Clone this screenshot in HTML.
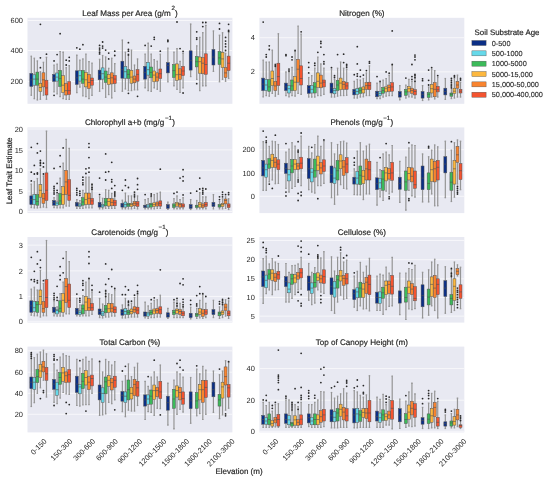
<!DOCTYPE html><html><head><meta charset="utf-8"><style>html,body{margin:0;padding:0;width:550px;height:482px;overflow:hidden;background:#fff}</style></head><body><svg width="550" height="482" viewBox="0 0 550 482" style="position:absolute;left:0;top:0;will-change:transform" font-family='"Liberation Sans", sans-serif'>
<rect x="0" y="0" width="550" height="482" fill="#fff"/>
<style>text{text-rendering:geometricPrecision}.b{stroke:#262626;stroke-width:0.18px}.lg{stroke:#262626;stroke-width:0.1px}</style>
<rect x="27.5" y="17.8" width="204.90" height="86.00" fill="#e8e9f2"/>
<line x1="27.5" x2="232.4" y1="20.5" y2="20.5" stroke="#f8f8fb" stroke-width="0.9"/>
<text x="23.0" y="23.1" font-size="7.45" fill="#262626" text-anchor="end">600</text>
<line x1="27.5" x2="232.4" y1="50.5" y2="50.5" stroke="#f8f8fb" stroke-width="0.9"/>
<text x="23.0" y="53.1" font-size="7.45" fill="#262626" text-anchor="end">400</text>
<line x1="27.5" x2="232.4" y1="81.5" y2="81.5" stroke="#f8f8fb" stroke-width="0.9"/>
<text x="23.0" y="84.1" font-size="7.45" fill="#262626" text-anchor="end">200</text>
<text class="b" x="129.95" y="15.75" font-size="8.1" fill="#262626" text-anchor="middle">Leaf Mass per Area (g/m<tspan dx="0.6" dy="-5.6" font-size="6.2">2</tspan><tspan dx="0.2" dy="5.6">)</tspan></text>
<line x1="31.29" x2="31.29" y1="56.2" y2="73.4" stroke="#959595" stroke-width="1.2"/>
<line x1="31.29" x2="31.29" y1="86.5" y2="95.3" stroke="#959595" stroke-width="1.2"/>
<line x1="30.54" x2="32.05" y1="56.2" y2="56.2" stroke="#959595" stroke-width="1.2"/>
<line x1="30.54" x2="32.05" y1="95.3" y2="95.3" stroke="#959595" stroke-width="1.2"/>
<rect x="29.83" y="73.4" width="2.94" height="13.10" fill="#0b2f86" stroke="#505050" stroke-width="0.5"/>
<line x1="29.83" x2="32.76" y1="79.8" y2="79.8" stroke="#505050" stroke-width="0.6"/>
<line x1="34.33" x2="34.33" y1="58.2" y2="74.8" stroke="#959595" stroke-width="1.2"/>
<line x1="34.33" x2="34.33" y1="85.2" y2="98.7" stroke="#959595" stroke-width="1.2"/>
<line x1="33.57" x2="35.09" y1="58.2" y2="58.2" stroke="#959595" stroke-width="1.2"/>
<line x1="33.57" x2="35.09" y1="98.7" y2="98.7" stroke="#959595" stroke-width="1.2"/>
<rect x="32.86" y="74.8" width="2.94" height="10.40" fill="#66d9ea" stroke="#505050" stroke-width="0.5"/>
<line x1="32.86" x2="35.80" y1="79.1" y2="79.1" stroke="#505050" stroke-width="0.6"/>
<line x1="37.37" x2="37.37" y1="60.9" y2="72.1" stroke="#959595" stroke-width="1.2"/>
<line x1="37.37" x2="37.37" y1="85.2" y2="100" stroke="#959595" stroke-width="1.2"/>
<line x1="36.61" x2="38.12" y1="60.9" y2="60.9" stroke="#959595" stroke-width="1.2"/>
<line x1="36.61" x2="38.12" y1="100" y2="100" stroke="#959595" stroke-width="1.2"/>
<rect x="35.90" y="72.1" width="2.94" height="13.10" fill="#3cba5a" stroke="#505050" stroke-width="0.5"/>
<line x1="35.90" x2="38.83" y1="79.1" y2="79.1" stroke="#505050" stroke-width="0.6"/>
<line x1="40.40" x2="40.40" y1="71.7" y2="83.4" stroke="#959595" stroke-width="1.2"/>
<line x1="40.40" x2="40.40" y1="91.5" y2="99.3" stroke="#959595" stroke-width="1.2"/>
<line x1="39.64" x2="41.16" y1="71.7" y2="71.7" stroke="#959595" stroke-width="1.2"/>
<line x1="39.64" x2="41.16" y1="99.3" y2="99.3" stroke="#959595" stroke-width="1.2"/>
<rect x="38.93" y="83.4" width="2.94" height="8.10" fill="#fdb83f" stroke="#505050" stroke-width="0.5"/>
<line x1="38.93" x2="41.87" y1="87.5" y2="87.5" stroke="#505050" stroke-width="0.6"/>
<circle cx="40.40" cy="57.8" r="0.9" fill="#2a2a2a"/>
<circle cx="40.40" cy="67.7" r="0.9" fill="#2a2a2a"/>
<circle cx="40.40" cy="24.3" r="0.9" fill="#2a2a2a"/>
<line x1="43.44" x2="43.44" y1="62.3" y2="72.8" stroke="#959595" stroke-width="1.2"/>
<line x1="43.44" x2="43.44" y1="86.9" y2="95.3" stroke="#959595" stroke-width="1.2"/>
<line x1="42.68" x2="44.20" y1="62.3" y2="62.3" stroke="#959595" stroke-width="1.2"/>
<line x1="42.68" x2="44.20" y1="95.3" y2="95.3" stroke="#959595" stroke-width="1.2"/>
<rect x="41.97" y="72.8" width="2.94" height="14.10" fill="#f9842f" stroke="#505050" stroke-width="0.5"/>
<line x1="41.97" x2="44.90" y1="79.8" y2="79.8" stroke="#505050" stroke-width="0.6"/>
<line x1="46.47" x2="46.47" y1="57.3" y2="80.2" stroke="#959595" stroke-width="1.2"/>
<line x1="46.47" x2="46.47" y1="95" y2="99.3" stroke="#959595" stroke-width="1.2"/>
<line x1="45.71" x2="47.23" y1="57.3" y2="57.3" stroke="#959595" stroke-width="1.2"/>
<line x1="45.71" x2="47.23" y1="99.3" y2="99.3" stroke="#959595" stroke-width="1.2"/>
<rect x="45.00" y="80.2" width="2.94" height="14.80" fill="#f45430" stroke="#505050" stroke-width="0.5"/>
<line x1="45.00" x2="47.94" y1="87.9" y2="87.9" stroke="#505050" stroke-width="0.6"/>
<circle cx="46.47" cy="54.2" r="0.9" fill="#2a2a2a"/>
<line x1="54.06" x2="54.06" y1="65" y2="74.4" stroke="#959595" stroke-width="1.2"/>
<line x1="54.06" x2="54.06" y1="81.5" y2="92" stroke="#959595" stroke-width="1.2"/>
<line x1="53.30" x2="54.82" y1="65" y2="65" stroke="#959595" stroke-width="1.2"/>
<line x1="53.30" x2="54.82" y1="92" y2="92" stroke="#959595" stroke-width="1.2"/>
<rect x="52.59" y="74.4" width="2.94" height="7.10" fill="#0b2f86" stroke="#505050" stroke-width="0.5"/>
<line x1="52.59" x2="55.53" y1="77.8" y2="77.8" stroke="#505050" stroke-width="0.6"/>
<circle cx="54.06" cy="60.9" r="0.9" fill="#2a2a2a"/>
<circle cx="54.06" cy="95.3" r="0.9" fill="#2a2a2a"/>
<line x1="57.10" x2="57.10" y1="64" y2="73" stroke="#959595" stroke-width="1.2"/>
<line x1="57.10" x2="57.10" y1="81.1" y2="94" stroke="#959595" stroke-width="1.2"/>
<line x1="56.34" x2="57.86" y1="64" y2="64" stroke="#959595" stroke-width="1.2"/>
<line x1="56.34" x2="57.86" y1="94" y2="94" stroke="#959595" stroke-width="1.2"/>
<rect x="55.63" y="73" width="2.94" height="8.10" fill="#66d9ea" stroke="#505050" stroke-width="0.5"/>
<line x1="55.63" x2="58.56" y1="77.1" y2="77.1" stroke="#505050" stroke-width="0.6"/>
<circle cx="57.10" cy="54.6" r="0.9" fill="#2a2a2a"/>
<line x1="60.13" x2="60.13" y1="51.5" y2="70.3" stroke="#959595" stroke-width="1.2"/>
<line x1="60.13" x2="60.13" y1="86.5" y2="96.6" stroke="#959595" stroke-width="1.2"/>
<line x1="59.37" x2="60.89" y1="51.5" y2="51.5" stroke="#959595" stroke-width="1.2"/>
<line x1="59.37" x2="60.89" y1="96.6" y2="96.6" stroke="#959595" stroke-width="1.2"/>
<rect x="58.66" y="70.3" width="2.94" height="16.20" fill="#3cba5a" stroke="#505050" stroke-width="0.5"/>
<line x1="58.66" x2="61.60" y1="78.4" y2="78.4" stroke="#505050" stroke-width="0.6"/>
<circle cx="60.13" cy="33.7" r="0.9" fill="#2a2a2a"/>
<line x1="63.17" x2="63.17" y1="52.1" y2="75.7" stroke="#959595" stroke-width="1.2"/>
<line x1="63.17" x2="63.17" y1="92.6" y2="98.7" stroke="#959595" stroke-width="1.2"/>
<line x1="62.41" x2="63.93" y1="52.1" y2="52.1" stroke="#959595" stroke-width="1.2"/>
<line x1="62.41" x2="63.93" y1="98.7" y2="98.7" stroke="#959595" stroke-width="1.2"/>
<rect x="61.70" y="75.7" width="2.94" height="16.90" fill="#fdb83f" stroke="#505050" stroke-width="0.5"/>
<line x1="61.70" x2="64.64" y1="85.2" y2="85.2" stroke="#505050" stroke-width="0.6"/>
<line x1="66.20" x2="66.20" y1="67.7" y2="83.4" stroke="#959595" stroke-width="1.2"/>
<line x1="66.20" x2="66.20" y1="95" y2="99.3" stroke="#959595" stroke-width="1.2"/>
<line x1="65.44" x2="66.96" y1="67.7" y2="67.7" stroke="#959595" stroke-width="1.2"/>
<line x1="65.44" x2="66.96" y1="99.3" y2="99.3" stroke="#959595" stroke-width="1.2"/>
<rect x="64.74" y="83.4" width="2.94" height="11.60" fill="#f9842f" stroke="#505050" stroke-width="0.5"/>
<line x1="64.74" x2="67.67" y1="90.6" y2="90.6" stroke="#505050" stroke-width="0.6"/>
<circle cx="66.20" cy="60.2" r="0.9" fill="#2a2a2a"/>
<circle cx="66.20" cy="65" r="0.9" fill="#2a2a2a"/>
<line x1="69.24" x2="69.24" y1="65.6" y2="81.5" stroke="#959595" stroke-width="1.2"/>
<line x1="69.24" x2="69.24" y1="94.6" y2="99.3" stroke="#959595" stroke-width="1.2"/>
<line x1="68.48" x2="70.00" y1="65.6" y2="65.6" stroke="#959595" stroke-width="1.2"/>
<line x1="68.48" x2="70.00" y1="99.3" y2="99.3" stroke="#959595" stroke-width="1.2"/>
<rect x="67.77" y="81.5" width="2.94" height="13.10" fill="#f45430" stroke="#505050" stroke-width="0.5"/>
<line x1="67.77" x2="70.71" y1="90.6" y2="90.6" stroke="#505050" stroke-width="0.6"/>
<circle cx="69.24" cy="57.3" r="0.9" fill="#2a2a2a"/>
<circle cx="69.24" cy="60.9" r="0.9" fill="#2a2a2a"/>
<line x1="76.83" x2="76.83" y1="55.1" y2="70.8" stroke="#959595" stroke-width="1.2"/>
<line x1="76.83" x2="76.83" y1="84.5" y2="92.6" stroke="#959595" stroke-width="1.2"/>
<line x1="76.07" x2="77.59" y1="55.1" y2="55.1" stroke="#959595" stroke-width="1.2"/>
<line x1="76.07" x2="77.59" y1="92.6" y2="92.6" stroke="#959595" stroke-width="1.2"/>
<rect x="75.36" y="70.8" width="2.94" height="13.70" fill="#0b2f86" stroke="#505050" stroke-width="0.5"/>
<line x1="75.36" x2="78.30" y1="77.8" y2="77.8" stroke="#505050" stroke-width="0.6"/>
<circle cx="76.83" cy="47.8" r="0.9" fill="#2a2a2a"/>
<line x1="79.86" x2="79.86" y1="60.2" y2="70.8" stroke="#959595" stroke-width="1.2"/>
<line x1="79.86" x2="79.86" y1="81.1" y2="87.2" stroke="#959595" stroke-width="1.2"/>
<line x1="79.10" x2="80.62" y1="60.2" y2="60.2" stroke="#959595" stroke-width="1.2"/>
<line x1="79.10" x2="80.62" y1="87.2" y2="87.2" stroke="#959595" stroke-width="1.2"/>
<rect x="78.40" y="70.8" width="2.94" height="10.30" fill="#66d9ea" stroke="#505050" stroke-width="0.5"/>
<line x1="78.40" x2="81.33" y1="75.7" y2="75.7" stroke="#505050" stroke-width="0.6"/>
<circle cx="79.86" cy="49.2" r="0.9" fill="#2a2a2a"/>
<line x1="82.90" x2="82.90" y1="58.9" y2="70.3" stroke="#959595" stroke-width="1.2"/>
<line x1="82.90" x2="82.90" y1="83.4" y2="96" stroke="#959595" stroke-width="1.2"/>
<line x1="82.14" x2="83.66" y1="58.9" y2="58.9" stroke="#959595" stroke-width="1.2"/>
<line x1="82.14" x2="83.66" y1="96" y2="96" stroke="#959595" stroke-width="1.2"/>
<rect x="81.43" y="70.3" width="2.94" height="13.10" fill="#3cba5a" stroke="#505050" stroke-width="0.5"/>
<line x1="81.43" x2="84.37" y1="79.1" y2="79.1" stroke="#505050" stroke-width="0.6"/>
<circle cx="82.90" cy="44.7" r="0.9" fill="#2a2a2a"/>
<line x1="85.93" x2="85.93" y1="54.2" y2="72.4" stroke="#959595" stroke-width="1.2"/>
<line x1="85.93" x2="85.93" y1="86.9" y2="96.6" stroke="#959595" stroke-width="1.2"/>
<line x1="85.18" x2="86.69" y1="54.2" y2="54.2" stroke="#959595" stroke-width="1.2"/>
<line x1="85.18" x2="86.69" y1="96.6" y2="96.6" stroke="#959595" stroke-width="1.2"/>
<rect x="84.47" y="72.4" width="2.94" height="14.50" fill="#fdb83f" stroke="#505050" stroke-width="0.5"/>
<line x1="84.47" x2="87.40" y1="79.8" y2="79.8" stroke="#505050" stroke-width="0.6"/>
<line x1="88.97" x2="88.97" y1="61.6" y2="74.4" stroke="#959595" stroke-width="1.2"/>
<line x1="88.97" x2="88.97" y1="88.6" y2="98.7" stroke="#959595" stroke-width="1.2"/>
<line x1="88.21" x2="89.73" y1="61.6" y2="61.6" stroke="#959595" stroke-width="1.2"/>
<line x1="88.21" x2="89.73" y1="98.7" y2="98.7" stroke="#959595" stroke-width="1.2"/>
<rect x="87.50" y="74.4" width="2.94" height="14.20" fill="#f9842f" stroke="#505050" stroke-width="0.5"/>
<line x1="87.50" x2="90.44" y1="82.5" y2="82.5" stroke="#505050" stroke-width="0.6"/>
<line x1="92.01" x2="92.01" y1="63.2" y2="78" stroke="#959595" stroke-width="1.2"/>
<line x1="92.01" x2="92.01" y1="85.2" y2="95.3" stroke="#959595" stroke-width="1.2"/>
<line x1="91.25" x2="92.76" y1="63.2" y2="63.2" stroke="#959595" stroke-width="1.2"/>
<line x1="91.25" x2="92.76" y1="95.3" y2="95.3" stroke="#959595" stroke-width="1.2"/>
<rect x="90.54" y="78" width="2.94" height="7.20" fill="#f45430" stroke="#505050" stroke-width="0.5"/>
<line x1="90.54" x2="93.47" y1="80.5" y2="80.5" stroke="#505050" stroke-width="0.6"/>
<line x1="99.59" x2="99.59" y1="59.3" y2="70.1" stroke="#959595" stroke-width="1.2"/>
<line x1="99.59" x2="99.59" y1="79.8" y2="91.3" stroke="#959595" stroke-width="1.2"/>
<line x1="98.84" x2="100.35" y1="59.3" y2="59.3" stroke="#959595" stroke-width="1.2"/>
<line x1="98.84" x2="100.35" y1="91.3" y2="91.3" stroke="#959595" stroke-width="1.2"/>
<rect x="98.13" y="70.1" width="2.94" height="9.70" fill="#0b2f86" stroke="#505050" stroke-width="0.5"/>
<line x1="98.13" x2="101.06" y1="74.4" y2="74.4" stroke="#505050" stroke-width="0.6"/>
<circle cx="99.59" cy="45.4" r="0.9" fill="#2a2a2a"/>
<circle cx="99.59" cy="48.1" r="0.9" fill="#2a2a2a"/>
<circle cx="99.59" cy="49.9" r="0.9" fill="#2a2a2a"/>
<circle cx="99.59" cy="52.2" r="0.9" fill="#2a2a2a"/>
<circle cx="99.59" cy="53.9" r="0.9" fill="#2a2a2a"/>
<line x1="102.63" x2="102.63" y1="55.5" y2="67.9" stroke="#959595" stroke-width="1.2"/>
<line x1="102.63" x2="102.63" y1="79.1" y2="88.6" stroke="#959595" stroke-width="1.2"/>
<line x1="101.87" x2="103.39" y1="55.5" y2="55.5" stroke="#959595" stroke-width="1.2"/>
<line x1="101.87" x2="103.39" y1="88.6" y2="88.6" stroke="#959595" stroke-width="1.2"/>
<rect x="101.16" y="67.9" width="2.94" height="11.20" fill="#66d9ea" stroke="#505050" stroke-width="0.5"/>
<line x1="101.16" x2="104.10" y1="73.7" y2="73.7" stroke="#505050" stroke-width="0.6"/>
<circle cx="102.63" cy="42" r="0.9" fill="#2a2a2a"/>
<circle cx="102.63" cy="46.1" r="0.9" fill="#2a2a2a"/>
<circle cx="102.63" cy="48.1" r="0.9" fill="#2a2a2a"/>
<line x1="105.67" x2="105.67" y1="56.9" y2="71" stroke="#959595" stroke-width="1.2"/>
<line x1="105.67" x2="105.67" y1="82.5" y2="97.3" stroke="#959595" stroke-width="1.2"/>
<line x1="104.91" x2="106.42" y1="56.9" y2="56.9" stroke="#959595" stroke-width="1.2"/>
<line x1="104.91" x2="106.42" y1="97.3" y2="97.3" stroke="#959595" stroke-width="1.2"/>
<rect x="104.20" y="71" width="2.94" height="11.50" fill="#3cba5a" stroke="#505050" stroke-width="0.5"/>
<line x1="104.20" x2="107.13" y1="77.1" y2="77.1" stroke="#505050" stroke-width="0.6"/>
<circle cx="105.67" cy="50.1" r="0.9" fill="#2a2a2a"/>
<line x1="108.70" x2="108.70" y1="68.3" y2="74.4" stroke="#959595" stroke-width="1.2"/>
<line x1="108.70" x2="108.70" y1="84.5" y2="94.6" stroke="#959595" stroke-width="1.2"/>
<line x1="107.94" x2="109.46" y1="68.3" y2="68.3" stroke="#959595" stroke-width="1.2"/>
<line x1="107.94" x2="109.46" y1="94.6" y2="94.6" stroke="#959595" stroke-width="1.2"/>
<rect x="107.23" y="74.4" width="2.94" height="10.10" fill="#fdb83f" stroke="#505050" stroke-width="0.5"/>
<line x1="107.23" x2="110.17" y1="78.5" y2="78.5" stroke="#505050" stroke-width="0.6"/>
<circle cx="108.70" cy="53.1" r="0.9" fill="#2a2a2a"/>
<circle cx="108.70" cy="58.9" r="0.9" fill="#2a2a2a"/>
<line x1="111.74" x2="111.74" y1="58.2" y2="72.8" stroke="#959595" stroke-width="1.2"/>
<line x1="111.74" x2="111.74" y1="83.9" y2="98" stroke="#959595" stroke-width="1.2"/>
<line x1="110.98" x2="112.50" y1="58.2" y2="58.2" stroke="#959595" stroke-width="1.2"/>
<line x1="110.98" x2="112.50" y1="98" y2="98" stroke="#959595" stroke-width="1.2"/>
<rect x="110.27" y="72.8" width="2.94" height="11.10" fill="#f9842f" stroke="#505050" stroke-width="0.5"/>
<line x1="110.27" x2="113.20" y1="77.8" y2="77.8" stroke="#505050" stroke-width="0.6"/>
<line x1="114.77" x2="114.77" y1="63.6" y2="75.5" stroke="#959595" stroke-width="1.2"/>
<line x1="114.77" x2="114.77" y1="83.6" y2="91.3" stroke="#959595" stroke-width="1.2"/>
<line x1="114.01" x2="115.53" y1="63.6" y2="63.6" stroke="#959595" stroke-width="1.2"/>
<line x1="114.01" x2="115.53" y1="91.3" y2="91.3" stroke="#959595" stroke-width="1.2"/>
<rect x="113.30" y="75.5" width="2.94" height="8.10" fill="#f45430" stroke="#505050" stroke-width="0.5"/>
<line x1="113.30" x2="116.24" y1="79.1" y2="79.1" stroke="#505050" stroke-width="0.6"/>
<circle cx="114.77" cy="51.2" r="0.9" fill="#2a2a2a"/>
<circle cx="114.77" cy="55.5" r="0.9" fill="#2a2a2a"/>
<line x1="122.36" x2="122.36" y1="40" y2="61.2" stroke="#959595" stroke-width="1.2"/>
<line x1="122.36" x2="122.36" y1="78.2" y2="91.3" stroke="#959595" stroke-width="1.2"/>
<line x1="121.60" x2="123.12" y1="40" y2="40" stroke="#959595" stroke-width="1.2"/>
<line x1="121.60" x2="123.12" y1="91.3" y2="91.3" stroke="#959595" stroke-width="1.2"/>
<rect x="120.89" y="61.2" width="2.94" height="17.00" fill="#0b2f86" stroke="#505050" stroke-width="0.5"/>
<line x1="120.89" x2="123.83" y1="69.7" y2="69.7" stroke="#505050" stroke-width="0.6"/>
<line x1="125.40" x2="125.40" y1="52.2" y2="66.6" stroke="#959595" stroke-width="1.2"/>
<line x1="125.40" x2="125.40" y1="78.2" y2="89" stroke="#959595" stroke-width="1.2"/>
<line x1="124.64" x2="126.16" y1="52.2" y2="52.2" stroke="#959595" stroke-width="1.2"/>
<line x1="124.64" x2="126.16" y1="89" y2="89" stroke="#959595" stroke-width="1.2"/>
<rect x="123.93" y="66.6" width="2.94" height="11.60" fill="#66d9ea" stroke="#505050" stroke-width="0.5"/>
<line x1="123.93" x2="126.86" y1="71.7" y2="71.7" stroke="#505050" stroke-width="0.6"/>
<line x1="128.43" x2="128.43" y1="53.9" y2="69.7" stroke="#959595" stroke-width="1.2"/>
<line x1="128.43" x2="128.43" y1="78.5" y2="90.6" stroke="#959595" stroke-width="1.2"/>
<line x1="127.67" x2="129.19" y1="53.9" y2="53.9" stroke="#959595" stroke-width="1.2"/>
<line x1="127.67" x2="129.19" y1="90.6" y2="90.6" stroke="#959595" stroke-width="1.2"/>
<rect x="126.96" y="69.7" width="2.94" height="8.80" fill="#3cba5a" stroke="#505050" stroke-width="0.5"/>
<line x1="126.96" x2="129.90" y1="74.4" y2="74.4" stroke="#505050" stroke-width="0.6"/>
<circle cx="128.43" cy="42.7" r="0.9" fill="#2a2a2a"/>
<circle cx="128.43" cy="49.5" r="0.9" fill="#2a2a2a"/>
<circle cx="128.43" cy="51.2" r="0.9" fill="#2a2a2a"/>
<circle cx="128.43" cy="54.9" r="0.9" fill="#2a2a2a"/>
<circle cx="128.43" cy="93.3" r="0.9" fill="#2a2a2a"/>
<line x1="131.47" x2="131.47" y1="50.1" y2="70.4" stroke="#959595" stroke-width="1.2"/>
<line x1="131.47" x2="131.47" y1="83.2" y2="90.6" stroke="#959595" stroke-width="1.2"/>
<line x1="130.71" x2="132.23" y1="50.1" y2="50.1" stroke="#959595" stroke-width="1.2"/>
<line x1="130.71" x2="132.23" y1="90.6" y2="90.6" stroke="#959595" stroke-width="1.2"/>
<rect x="130.00" y="70.4" width="2.94" height="12.80" fill="#fdb83f" stroke="#505050" stroke-width="0.5"/>
<line x1="130.00" x2="132.94" y1="77.1" y2="77.1" stroke="#505050" stroke-width="0.6"/>
<line x1="134.50" x2="134.50" y1="65" y2="76" stroke="#959595" stroke-width="1.2"/>
<line x1="134.50" x2="134.50" y1="82.8" y2="89.9" stroke="#959595" stroke-width="1.2"/>
<line x1="133.74" x2="135.26" y1="65" y2="65" stroke="#959595" stroke-width="1.2"/>
<line x1="133.74" x2="135.26" y1="89.9" y2="89.9" stroke="#959595" stroke-width="1.2"/>
<rect x="133.04" y="76" width="2.94" height="6.80" fill="#f9842f" stroke="#505050" stroke-width="0.5"/>
<line x1="133.04" x2="135.97" y1="79.1" y2="79.1" stroke="#505050" stroke-width="0.6"/>
<line x1="137.54" x2="137.54" y1="58.9" y2="69.7" stroke="#959595" stroke-width="1.2"/>
<line x1="137.54" x2="137.54" y1="81.2" y2="89.9" stroke="#959595" stroke-width="1.2"/>
<line x1="136.78" x2="138.30" y1="58.9" y2="58.9" stroke="#959595" stroke-width="1.2"/>
<line x1="136.78" x2="138.30" y1="89.9" y2="89.9" stroke="#959595" stroke-width="1.2"/>
<rect x="136.07" y="69.7" width="2.94" height="11.50" fill="#f45430" stroke="#505050" stroke-width="0.5"/>
<line x1="136.07" x2="139.01" y1="74.4" y2="74.4" stroke="#505050" stroke-width="0.6"/>
<circle cx="137.54" cy="96.3" r="0.9" fill="#2a2a2a"/>
<line x1="145.13" x2="145.13" y1="54.2" y2="66.3" stroke="#959595" stroke-width="1.2"/>
<line x1="145.13" x2="145.13" y1="79.1" y2="87.9" stroke="#959595" stroke-width="1.2"/>
<line x1="144.37" x2="145.89" y1="54.2" y2="54.2" stroke="#959595" stroke-width="1.2"/>
<line x1="144.37" x2="145.89" y1="87.9" y2="87.9" stroke="#959595" stroke-width="1.2"/>
<rect x="143.66" y="66.3" width="2.94" height="12.80" fill="#0b2f86" stroke="#505050" stroke-width="0.5"/>
<line x1="143.66" x2="146.60" y1="72.4" y2="72.4" stroke="#505050" stroke-width="0.6"/>
<circle cx="145.13" cy="45.4" r="0.9" fill="#2a2a2a"/>
<line x1="148.16" x2="148.16" y1="43.1" y2="62.3" stroke="#959595" stroke-width="1.2"/>
<line x1="148.16" x2="148.16" y1="75.1" y2="90.6" stroke="#959595" stroke-width="1.2"/>
<line x1="147.40" x2="148.92" y1="43.1" y2="43.1" stroke="#959595" stroke-width="1.2"/>
<line x1="147.40" x2="148.92" y1="90.6" y2="90.6" stroke="#959595" stroke-width="1.2"/>
<rect x="146.70" y="62.3" width="2.94" height="12.80" fill="#66d9ea" stroke="#505050" stroke-width="0.5"/>
<line x1="146.70" x2="149.63" y1="69.7" y2="69.7" stroke="#505050" stroke-width="0.6"/>
<line x1="151.20" x2="151.20" y1="54.2" y2="67" stroke="#959595" stroke-width="1.2"/>
<line x1="151.20" x2="151.20" y1="77.8" y2="91.3" stroke="#959595" stroke-width="1.2"/>
<line x1="150.44" x2="151.96" y1="54.2" y2="54.2" stroke="#959595" stroke-width="1.2"/>
<line x1="150.44" x2="151.96" y1="91.3" y2="91.3" stroke="#959595" stroke-width="1.2"/>
<rect x="149.73" y="67" width="2.94" height="10.80" fill="#3cba5a" stroke="#505050" stroke-width="0.5"/>
<line x1="149.73" x2="152.67" y1="72.4" y2="72.4" stroke="#505050" stroke-width="0.6"/>
<circle cx="151.20" cy="46.1" r="0.9" fill="#2a2a2a"/>
<line x1="154.23" x2="154.23" y1="59.6" y2="71" stroke="#959595" stroke-width="1.2"/>
<line x1="154.23" x2="154.23" y1="81.8" y2="87.9" stroke="#959595" stroke-width="1.2"/>
<line x1="153.48" x2="154.99" y1="59.6" y2="59.6" stroke="#959595" stroke-width="1.2"/>
<line x1="153.48" x2="154.99" y1="87.9" y2="87.9" stroke="#959595" stroke-width="1.2"/>
<rect x="152.77" y="71" width="2.94" height="10.80" fill="#fdb83f" stroke="#505050" stroke-width="0.5"/>
<line x1="152.77" x2="155.70" y1="75.1" y2="75.1" stroke="#505050" stroke-width="0.6"/>
<circle cx="154.23" cy="37.3" r="0.9" fill="#2a2a2a"/>
<circle cx="154.23" cy="39.3" r="0.9" fill="#2a2a2a"/>
<line x1="157.27" x2="157.27" y1="61.2" y2="72.8" stroke="#959595" stroke-width="1.2"/>
<line x1="157.27" x2="157.27" y1="81.2" y2="89.3" stroke="#959595" stroke-width="1.2"/>
<line x1="156.51" x2="158.03" y1="61.2" y2="61.2" stroke="#959595" stroke-width="1.2"/>
<line x1="156.51" x2="158.03" y1="89.3" y2="89.3" stroke="#959595" stroke-width="1.2"/>
<rect x="155.80" y="72.8" width="2.94" height="8.40" fill="#f9842f" stroke="#505050" stroke-width="0.5"/>
<line x1="155.80" x2="158.74" y1="77.1" y2="77.1" stroke="#505050" stroke-width="0.6"/>
<line x1="160.31" x2="160.31" y1="54.2" y2="69" stroke="#959595" stroke-width="1.2"/>
<line x1="160.31" x2="160.31" y1="78.5" y2="91.3" stroke="#959595" stroke-width="1.2"/>
<line x1="159.55" x2="161.06" y1="54.2" y2="54.2" stroke="#959595" stroke-width="1.2"/>
<line x1="159.55" x2="161.06" y1="91.3" y2="91.3" stroke="#959595" stroke-width="1.2"/>
<rect x="158.84" y="69" width="2.94" height="9.50" fill="#f45430" stroke="#505050" stroke-width="0.5"/>
<line x1="158.84" x2="161.77" y1="73.7" y2="73.7" stroke="#505050" stroke-width="0.6"/>
<circle cx="160.31" cy="51.2" r="0.9" fill="#2a2a2a"/>
<line x1="167.89" x2="167.89" y1="48.2" y2="62.6" stroke="#959595" stroke-width="1.2"/>
<line x1="167.89" x2="167.89" y1="72.9" y2="81.8" stroke="#959595" stroke-width="1.2"/>
<line x1="167.14" x2="168.65" y1="48.2" y2="48.2" stroke="#959595" stroke-width="1.2"/>
<line x1="167.14" x2="168.65" y1="81.8" y2="81.8" stroke="#959595" stroke-width="1.2"/>
<rect x="166.43" y="62.6" width="2.94" height="10.30" fill="#0b2f86" stroke="#505050" stroke-width="0.5"/>
<line x1="166.43" x2="169.36" y1="65.4" y2="65.4" stroke="#505050" stroke-width="0.6"/>
<circle cx="167.89" cy="40.2" r="0.9" fill="#2a2a2a"/>
<circle cx="167.89" cy="41.5" r="0.9" fill="#2a2a2a"/>
<line x1="173.97" x2="173.97" y1="52" y2="64.5" stroke="#959595" stroke-width="1.2"/>
<line x1="173.97" x2="173.97" y1="77.5" y2="85.9" stroke="#959595" stroke-width="1.2"/>
<line x1="173.21" x2="174.72" y1="52" y2="52" stroke="#959595" stroke-width="1.2"/>
<line x1="173.21" x2="174.72" y1="85.9" y2="85.9" stroke="#959595" stroke-width="1.2"/>
<rect x="172.50" y="64.5" width="2.94" height="13.00" fill="#3cba5a" stroke="#505050" stroke-width="0.5"/>
<line x1="172.50" x2="175.43" y1="70.6" y2="70.6" stroke="#505050" stroke-width="0.6"/>
<line x1="177.00" x2="177.00" y1="48.6" y2="63.9" stroke="#959595" stroke-width="1.2"/>
<line x1="177.00" x2="177.00" y1="80.3" y2="89.3" stroke="#959595" stroke-width="1.2"/>
<line x1="176.24" x2="177.76" y1="48.6" y2="48.6" stroke="#959595" stroke-width="1.2"/>
<line x1="176.24" x2="177.76" y1="89.3" y2="89.3" stroke="#959595" stroke-width="1.2"/>
<rect x="175.53" y="63.9" width="2.94" height="16.40" fill="#fdb83f" stroke="#505050" stroke-width="0.5"/>
<line x1="175.53" x2="178.47" y1="74.7" y2="74.7" stroke="#505050" stroke-width="0.6"/>
<circle cx="177.00" cy="22" r="0.9" fill="#2a2a2a"/>
<line x1="180.04" x2="180.04" y1="61.3" y2="68.8" stroke="#959595" stroke-width="1.2"/>
<line x1="180.04" x2="180.04" y1="79.4" y2="92.5" stroke="#959595" stroke-width="1.2"/>
<line x1="179.28" x2="180.80" y1="61.3" y2="61.3" stroke="#959595" stroke-width="1.2"/>
<line x1="179.28" x2="180.80" y1="92.5" y2="92.5" stroke="#959595" stroke-width="1.2"/>
<rect x="178.57" y="68.8" width="2.94" height="10.60" fill="#f9842f" stroke="#505050" stroke-width="0.5"/>
<line x1="178.57" x2="181.50" y1="74.4" y2="74.4" stroke="#505050" stroke-width="0.6"/>
<circle cx="180.04" cy="48.6" r="0.9" fill="#2a2a2a"/>
<line x1="183.07" x2="183.07" y1="53.3" y2="66.3" stroke="#959595" stroke-width="1.2"/>
<line x1="183.07" x2="183.07" y1="75.7" y2="87.8" stroke="#959595" stroke-width="1.2"/>
<line x1="182.31" x2="183.83" y1="53.3" y2="53.3" stroke="#959595" stroke-width="1.2"/>
<line x1="182.31" x2="183.83" y1="87.8" y2="87.8" stroke="#959595" stroke-width="1.2"/>
<rect x="181.60" y="66.3" width="2.94" height="9.40" fill="#f45430" stroke="#505050" stroke-width="0.5"/>
<line x1="181.60" x2="184.54" y1="71" y2="71" stroke="#505050" stroke-width="0.6"/>
<circle cx="183.07" cy="51.4" r="0.9" fill="#2a2a2a"/>
<circle cx="183.07" cy="93" r="0.9" fill="#2a2a2a"/>
<line x1="190.66" x2="190.66" y1="24" y2="50.8" stroke="#959595" stroke-width="1.2"/>
<line x1="190.66" x2="190.66" y1="70.1" y2="76.6" stroke="#959595" stroke-width="1.2"/>
<line x1="189.90" x2="191.42" y1="24" y2="24" stroke="#959595" stroke-width="1.2"/>
<line x1="189.90" x2="191.42" y1="76.6" y2="76.6" stroke="#959595" stroke-width="1.2"/>
<rect x="189.19" y="50.8" width="2.94" height="19.30" fill="#0b2f86" stroke="#505050" stroke-width="0.5"/>
<line x1="189.19" x2="192.13" y1="60.7" y2="60.7" stroke="#505050" stroke-width="0.6"/>
<line x1="196.73" x2="196.73" y1="45.8" y2="56.4" stroke="#959595" stroke-width="1.2"/>
<line x1="196.73" x2="196.73" y1="66.9" y2="79.4" stroke="#959595" stroke-width="1.2"/>
<line x1="195.97" x2="197.49" y1="45.8" y2="45.8" stroke="#959595" stroke-width="1.2"/>
<line x1="195.97" x2="197.49" y1="79.4" y2="79.4" stroke="#959595" stroke-width="1.2"/>
<rect x="195.26" y="56.4" width="2.94" height="10.50" fill="#3cba5a" stroke="#505050" stroke-width="0.5"/>
<line x1="195.26" x2="198.20" y1="61.7" y2="61.7" stroke="#505050" stroke-width="0.6"/>
<circle cx="196.73" cy="31.8" r="0.9" fill="#2a2a2a"/>
<circle cx="196.73" cy="37.8" r="0.9" fill="#2a2a2a"/>
<circle cx="196.73" cy="39.3" r="0.9" fill="#2a2a2a"/>
<circle cx="196.73" cy="83.7" r="0.9" fill="#2a2a2a"/>
<line x1="199.77" x2="199.77" y1="37.4" y2="57" stroke="#959595" stroke-width="1.2"/>
<line x1="199.77" x2="199.77" y1="73.2" y2="90.6" stroke="#959595" stroke-width="1.2"/>
<line x1="199.01" x2="200.53" y1="37.4" y2="37.4" stroke="#959595" stroke-width="1.2"/>
<line x1="199.01" x2="200.53" y1="90.6" y2="90.6" stroke="#959595" stroke-width="1.2"/>
<rect x="198.30" y="57" width="2.94" height="16.20" fill="#fdb83f" stroke="#505050" stroke-width="0.5"/>
<line x1="198.30" x2="201.24" y1="61.7" y2="61.7" stroke="#505050" stroke-width="0.6"/>
<line x1="202.80" x2="202.80" y1="32.7" y2="57.6" stroke="#959595" stroke-width="1.2"/>
<line x1="202.80" x2="202.80" y1="73.8" y2="85.9" stroke="#959595" stroke-width="1.2"/>
<line x1="202.04" x2="203.56" y1="32.7" y2="32.7" stroke="#959595" stroke-width="1.2"/>
<line x1="202.04" x2="203.56" y1="85.9" y2="85.9" stroke="#959595" stroke-width="1.2"/>
<rect x="201.34" y="57.6" width="2.94" height="16.20" fill="#f9842f" stroke="#505050" stroke-width="0.5"/>
<line x1="201.34" x2="204.27" y1="63.2" y2="63.2" stroke="#505050" stroke-width="0.6"/>
<circle cx="202.80" cy="22.5" r="0.9" fill="#2a2a2a"/>
<circle cx="202.80" cy="26.6" r="0.9" fill="#2a2a2a"/>
<line x1="205.84" x2="205.84" y1="25.3" y2="53.8" stroke="#959595" stroke-width="1.2"/>
<line x1="205.84" x2="205.84" y1="74.4" y2="85.9" stroke="#959595" stroke-width="1.2"/>
<line x1="205.08" x2="206.60" y1="25.3" y2="25.3" stroke="#959595" stroke-width="1.2"/>
<line x1="205.08" x2="206.60" y1="85.9" y2="85.9" stroke="#959595" stroke-width="1.2"/>
<rect x="204.37" y="53.8" width="2.94" height="20.60" fill="#f45430" stroke="#505050" stroke-width="0.5"/>
<line x1="204.37" x2="207.31" y1="64.5" y2="64.5" stroke="#505050" stroke-width="0.6"/>
<circle cx="205.84" cy="22.5" r="0.9" fill="#2a2a2a"/>
<line x1="213.43" x2="213.43" y1="30.9" y2="49.5" stroke="#959595" stroke-width="1.2"/>
<line x1="213.43" x2="213.43" y1="65" y2="71.4" stroke="#959595" stroke-width="1.2"/>
<line x1="212.67" x2="214.19" y1="30.9" y2="30.9" stroke="#959595" stroke-width="1.2"/>
<line x1="212.67" x2="214.19" y1="71.4" y2="71.4" stroke="#959595" stroke-width="1.2"/>
<rect x="211.96" y="49.5" width="2.94" height="15.50" fill="#0b2f86" stroke="#505050" stroke-width="0.5"/>
<line x1="211.96" x2="214.90" y1="57" y2="57" stroke="#505050" stroke-width="0.6"/>
<line x1="219.50" x2="219.50" y1="35.2" y2="51.4" stroke="#959595" stroke-width="1.2"/>
<line x1="219.50" x2="219.50" y1="64.5" y2="81.8" stroke="#959595" stroke-width="1.2"/>
<line x1="218.74" x2="220.26" y1="35.2" y2="35.2" stroke="#959595" stroke-width="1.2"/>
<line x1="218.74" x2="220.26" y1="81.8" y2="81.8" stroke="#959595" stroke-width="1.2"/>
<rect x="218.03" y="51.4" width="2.94" height="13.10" fill="#3cba5a" stroke="#505050" stroke-width="0.5"/>
<line x1="218.03" x2="220.97" y1="57.9" y2="57.9" stroke="#505050" stroke-width="0.6"/>
<circle cx="219.50" cy="23.4" r="0.9" fill="#2a2a2a"/>
<circle cx="219.50" cy="29" r="0.9" fill="#2a2a2a"/>
<line x1="222.53" x2="222.53" y1="32.7" y2="52.3" stroke="#959595" stroke-width="1.2"/>
<line x1="222.53" x2="222.53" y1="67.6" y2="79.4" stroke="#959595" stroke-width="1.2"/>
<line x1="221.78" x2="223.29" y1="32.7" y2="32.7" stroke="#959595" stroke-width="1.2"/>
<line x1="221.78" x2="223.29" y1="79.4" y2="79.4" stroke="#959595" stroke-width="1.2"/>
<rect x="221.07" y="52.3" width="2.94" height="15.30" fill="#fdb83f" stroke="#505050" stroke-width="0.5"/>
<line x1="221.07" x2="224.00" y1="58.9" y2="58.9" stroke="#505050" stroke-width="0.6"/>
<line x1="225.57" x2="225.57" y1="53.3" y2="67.6" stroke="#959595" stroke-width="1.2"/>
<line x1="225.57" x2="225.57" y1="77.5" y2="81.3" stroke="#959595" stroke-width="1.2"/>
<line x1="224.81" x2="226.33" y1="53.3" y2="53.3" stroke="#959595" stroke-width="1.2"/>
<line x1="224.81" x2="226.33" y1="81.3" y2="81.3" stroke="#959595" stroke-width="1.2"/>
<rect x="224.10" y="67.6" width="2.94" height="9.90" fill="#f9842f" stroke="#505050" stroke-width="0.5"/>
<line x1="224.10" x2="227.04" y1="72.9" y2="72.9" stroke="#505050" stroke-width="0.6"/>
<circle cx="225.57" cy="37.4" r="0.9" fill="#2a2a2a"/>
<circle cx="225.57" cy="41.1" r="0.9" fill="#2a2a2a"/>
<circle cx="225.57" cy="43.9" r="0.9" fill="#2a2a2a"/>
<circle cx="225.57" cy="46.7" r="0.9" fill="#2a2a2a"/>
<circle cx="225.57" cy="50.5" r="0.9" fill="#2a2a2a"/>
<line x1="228.61" x2="228.61" y1="32.2" y2="56.1" stroke="#959595" stroke-width="1.2"/>
<line x1="228.61" x2="228.61" y1="70.6" y2="78.5" stroke="#959595" stroke-width="1.2"/>
<line x1="227.85" x2="229.36" y1="32.2" y2="32.2" stroke="#959595" stroke-width="1.2"/>
<line x1="227.85" x2="229.36" y1="78.5" y2="78.5" stroke="#959595" stroke-width="1.2"/>
<rect x="227.14" y="56.1" width="2.94" height="14.50" fill="#f45430" stroke="#505050" stroke-width="0.5"/>
<line x1="227.14" x2="230.07" y1="63.2" y2="63.2" stroke="#505050" stroke-width="0.6"/>
<circle cx="228.61" cy="24.3" r="0.9" fill="#2a2a2a"/>
<circle cx="228.61" cy="30.3" r="0.9" fill="#2a2a2a"/>
<circle cx="228.61" cy="31.4" r="0.9" fill="#2a2a2a"/>
<rect x="259.4" y="17.8" width="204.90" height="86.00" fill="#e8e9f2"/>
<line x1="259.4" x2="464.3" y1="37.7" y2="37.7" stroke="#f8f8fb" stroke-width="0.9"/>
<text x="254.89999999999998" y="40.300000000000004" font-size="7.45" fill="#262626" text-anchor="end">4</text>
<line x1="259.4" x2="464.3" y1="71.8" y2="71.8" stroke="#f8f8fb" stroke-width="0.9"/>
<text x="254.89999999999998" y="74.39999999999999" font-size="7.45" fill="#262626" text-anchor="end">2</text>
<text class="b" x="361.85" y="15.75" font-size="8.1" fill="#262626" text-anchor="middle">Nitrogen (%)</text>
<line x1="263.19" x2="263.19" y1="60.2" y2="78.1" stroke="#959595" stroke-width="1.2"/>
<line x1="263.19" x2="263.19" y1="90.6" y2="96.8" stroke="#959595" stroke-width="1.2"/>
<line x1="262.44" x2="263.95" y1="60.2" y2="60.2" stroke="#959595" stroke-width="1.2"/>
<line x1="262.44" x2="263.95" y1="96.8" y2="96.8" stroke="#959595" stroke-width="1.2"/>
<rect x="261.73" y="78.1" width="2.94" height="12.50" fill="#0b2f86" stroke="#505050" stroke-width="0.5"/>
<line x1="261.73" x2="264.66" y1="84.1" y2="84.1" stroke="#505050" stroke-width="0.6"/>
<circle cx="263.19" cy="22.1" r="0.9" fill="#2a2a2a"/>
<line x1="266.23" x2="266.23" y1="62" y2="79.4" stroke="#959595" stroke-width="1.2"/>
<line x1="266.23" x2="266.23" y1="90.6" y2="95.6" stroke="#959595" stroke-width="1.2"/>
<line x1="265.47" x2="266.99" y1="62" y2="62" stroke="#959595" stroke-width="1.2"/>
<line x1="265.47" x2="266.99" y1="95.6" y2="95.6" stroke="#959595" stroke-width="1.2"/>
<rect x="264.76" y="79.4" width="2.94" height="11.20" fill="#66d9ea" stroke="#505050" stroke-width="0.5"/>
<line x1="264.76" x2="267.70" y1="85" y2="85" stroke="#505050" stroke-width="0.6"/>
<circle cx="266.23" cy="54.6" r="0.9" fill="#2a2a2a"/>
<circle cx="266.23" cy="57" r="0.9" fill="#2a2a2a"/>
<line x1="269.27" x2="269.27" y1="62" y2="79.4" stroke="#959595" stroke-width="1.2"/>
<line x1="269.27" x2="269.27" y1="91.5" y2="96.2" stroke="#959595" stroke-width="1.2"/>
<line x1="268.51" x2="270.02" y1="62" y2="62" stroke="#959595" stroke-width="1.2"/>
<line x1="268.51" x2="270.02" y1="96.2" y2="96.2" stroke="#959595" stroke-width="1.2"/>
<rect x="267.80" y="79.4" width="2.94" height="12.10" fill="#3cba5a" stroke="#505050" stroke-width="0.5"/>
<line x1="267.80" x2="270.73" y1="86.9" y2="86.9" stroke="#505050" stroke-width="0.6"/>
<circle cx="269.27" cy="45.8" r="0.9" fill="#2a2a2a"/>
<circle cx="269.27" cy="49.5" r="0.9" fill="#2a2a2a"/>
<line x1="272.30" x2="272.30" y1="50.1" y2="71" stroke="#959595" stroke-width="1.2"/>
<line x1="272.30" x2="272.30" y1="85.6" y2="93.4" stroke="#959595" stroke-width="1.2"/>
<line x1="271.54" x2="273.06" y1="50.1" y2="50.1" stroke="#959595" stroke-width="1.2"/>
<line x1="271.54" x2="273.06" y1="93.4" y2="93.4" stroke="#959595" stroke-width="1.2"/>
<rect x="270.83" y="71" width="2.94" height="14.60" fill="#fdb83f" stroke="#505050" stroke-width="0.5"/>
<line x1="270.83" x2="273.77" y1="78.5" y2="78.5" stroke="#505050" stroke-width="0.6"/>
<line x1="275.34" x2="275.34" y1="63.9" y2="81.3" stroke="#959595" stroke-width="1.2"/>
<line x1="275.34" x2="275.34" y1="90.6" y2="96.2" stroke="#959595" stroke-width="1.2"/>
<line x1="274.58" x2="276.10" y1="63.9" y2="63.9" stroke="#959595" stroke-width="1.2"/>
<line x1="274.58" x2="276.10" y1="96.2" y2="96.2" stroke="#959595" stroke-width="1.2"/>
<rect x="273.87" y="81.3" width="2.94" height="9.30" fill="#f9842f" stroke="#505050" stroke-width="0.5"/>
<line x1="273.87" x2="276.80" y1="85.9" y2="85.9" stroke="#505050" stroke-width="0.6"/>
<circle cx="275.34" cy="65" r="0.9" fill="#2a2a2a"/>
<circle cx="275.34" cy="66.3" r="0.9" fill="#2a2a2a"/>
<line x1="278.37" x2="278.37" y1="33.7" y2="63.2" stroke="#959595" stroke-width="1.2"/>
<line x1="278.37" x2="278.37" y1="85.6" y2="94.3" stroke="#959595" stroke-width="1.2"/>
<line x1="277.61" x2="279.13" y1="33.7" y2="33.7" stroke="#959595" stroke-width="1.2"/>
<line x1="277.61" x2="279.13" y1="94.3" y2="94.3" stroke="#959595" stroke-width="1.2"/>
<rect x="276.90" y="63.2" width="2.94" height="22.40" fill="#f45430" stroke="#505050" stroke-width="0.5"/>
<line x1="276.90" x2="279.84" y1="76.6" y2="76.6" stroke="#505050" stroke-width="0.6"/>
<line x1="285.96" x2="285.96" y1="71.9" y2="83.1" stroke="#959595" stroke-width="1.2"/>
<line x1="285.96" x2="285.96" y1="90.6" y2="95.6" stroke="#959595" stroke-width="1.2"/>
<line x1="285.20" x2="286.72" y1="71.9" y2="71.9" stroke="#959595" stroke-width="1.2"/>
<line x1="285.20" x2="286.72" y1="95.6" y2="95.6" stroke="#959595" stroke-width="1.2"/>
<rect x="284.49" y="83.1" width="2.94" height="7.50" fill="#0b2f86" stroke="#505050" stroke-width="0.5"/>
<line x1="284.49" x2="287.43" y1="86.9" y2="86.9" stroke="#505050" stroke-width="0.6"/>
<circle cx="285.96" cy="54.6" r="0.9" fill="#2a2a2a"/>
<circle cx="285.96" cy="55.7" r="0.9" fill="#2a2a2a"/>
<line x1="289.00" x2="289.00" y1="71.9" y2="85.6" stroke="#959595" stroke-width="1.2"/>
<line x1="289.00" x2="289.00" y1="93" y2="96.8" stroke="#959595" stroke-width="1.2"/>
<line x1="288.24" x2="289.76" y1="71.9" y2="71.9" stroke="#959595" stroke-width="1.2"/>
<line x1="288.24" x2="289.76" y1="96.8" y2="96.8" stroke="#959595" stroke-width="1.2"/>
<rect x="287.53" y="85.6" width="2.94" height="7.40" fill="#66d9ea" stroke="#505050" stroke-width="0.5"/>
<line x1="287.53" x2="290.46" y1="88.7" y2="88.7" stroke="#505050" stroke-width="0.6"/>
<circle cx="289.00" cy="69.1" r="0.9" fill="#2a2a2a"/>
<circle cx="289.00" cy="71" r="0.9" fill="#2a2a2a"/>
<line x1="292.03" x2="292.03" y1="67.3" y2="80" stroke="#959595" stroke-width="1.2"/>
<line x1="292.03" x2="292.03" y1="90.6" y2="95.6" stroke="#959595" stroke-width="1.2"/>
<line x1="291.27" x2="292.79" y1="67.3" y2="67.3" stroke="#959595" stroke-width="1.2"/>
<line x1="291.27" x2="292.79" y1="95.6" y2="95.6" stroke="#959595" stroke-width="1.2"/>
<rect x="290.56" y="80" width="2.94" height="10.60" fill="#3cba5a" stroke="#505050" stroke-width="0.5"/>
<line x1="290.56" x2="293.50" y1="85.9" y2="85.9" stroke="#505050" stroke-width="0.6"/>
<circle cx="292.03" cy="57" r="0.9" fill="#2a2a2a"/>
<circle cx="292.03" cy="59.8" r="0.9" fill="#2a2a2a"/>
<line x1="295.07" x2="295.07" y1="51.4" y2="76.6" stroke="#959595" stroke-width="1.2"/>
<line x1="295.07" x2="295.07" y1="90.6" y2="96.2" stroke="#959595" stroke-width="1.2"/>
<line x1="294.31" x2="295.83" y1="51.4" y2="51.4" stroke="#959595" stroke-width="1.2"/>
<line x1="294.31" x2="295.83" y1="96.2" y2="96.2" stroke="#959595" stroke-width="1.2"/>
<rect x="293.60" y="76.6" width="2.94" height="14.00" fill="#fdb83f" stroke="#505050" stroke-width="0.5"/>
<line x1="293.60" x2="296.54" y1="82.2" y2="82.2" stroke="#505050" stroke-width="0.6"/>
<circle cx="295.07" cy="50.5" r="0.9" fill="#2a2a2a"/>
<line x1="298.10" x2="298.10" y1="26.2" y2="59.4" stroke="#959595" stroke-width="1.2"/>
<line x1="298.10" x2="298.10" y1="82.2" y2="93.4" stroke="#959595" stroke-width="1.2"/>
<line x1="297.34" x2="298.86" y1="26.2" y2="26.2" stroke="#959595" stroke-width="1.2"/>
<line x1="297.34" x2="298.86" y1="93.4" y2="93.4" stroke="#959595" stroke-width="1.2"/>
<rect x="296.64" y="59.4" width="2.94" height="22.80" fill="#f9842f" stroke="#505050" stroke-width="0.5"/>
<line x1="296.64" x2="299.57" y1="69.2" y2="69.2" stroke="#505050" stroke-width="0.6"/>
<line x1="301.14" x2="301.14" y1="34" y2="65.8" stroke="#959595" stroke-width="1.2"/>
<line x1="301.14" x2="301.14" y1="85" y2="94.3" stroke="#959595" stroke-width="1.2"/>
<line x1="300.38" x2="301.90" y1="34" y2="34" stroke="#959595" stroke-width="1.2"/>
<line x1="300.38" x2="301.90" y1="94.3" y2="94.3" stroke="#959595" stroke-width="1.2"/>
<rect x="299.67" y="65.8" width="2.94" height="19.20" fill="#f45430" stroke="#505050" stroke-width="0.5"/>
<line x1="299.67" x2="302.61" y1="78.5" y2="78.5" stroke="#505050" stroke-width="0.6"/>
<circle cx="301.14" cy="31.8" r="0.9" fill="#2a2a2a"/>
<line x1="308.73" x2="308.73" y1="77.5" y2="85.6" stroke="#959595" stroke-width="1.2"/>
<line x1="308.73" x2="308.73" y1="93.4" y2="97.1" stroke="#959595" stroke-width="1.2"/>
<line x1="307.97" x2="309.49" y1="77.5" y2="77.5" stroke="#959595" stroke-width="1.2"/>
<line x1="307.97" x2="309.49" y1="97.1" y2="97.1" stroke="#959595" stroke-width="1.2"/>
<rect x="307.26" y="85.6" width="2.94" height="7.80" fill="#0b2f86" stroke="#505050" stroke-width="0.5"/>
<line x1="307.26" x2="310.20" y1="88.7" y2="88.7" stroke="#505050" stroke-width="0.6"/>
<circle cx="308.73" cy="62.6" r="0.9" fill="#2a2a2a"/>
<circle cx="308.73" cy="67.3" r="0.9" fill="#2a2a2a"/>
<circle cx="308.73" cy="72.9" r="0.9" fill="#2a2a2a"/>
<line x1="311.76" x2="311.76" y1="75.7" y2="85.6" stroke="#959595" stroke-width="1.2"/>
<line x1="311.76" x2="311.76" y1="93" y2="97.1" stroke="#959595" stroke-width="1.2"/>
<line x1="311.00" x2="312.52" y1="75.7" y2="75.7" stroke="#959595" stroke-width="1.2"/>
<line x1="311.00" x2="312.52" y1="97.1" y2="97.1" stroke="#959595" stroke-width="1.2"/>
<rect x="310.30" y="85.6" width="2.94" height="7.40" fill="#66d9ea" stroke="#505050" stroke-width="0.5"/>
<line x1="310.30" x2="313.23" y1="89.3" y2="89.3" stroke="#505050" stroke-width="0.6"/>
<line x1="314.80" x2="314.80" y1="68.2" y2="82.6" stroke="#959595" stroke-width="1.2"/>
<line x1="314.80" x2="314.80" y1="93" y2="97.1" stroke="#959595" stroke-width="1.2"/>
<line x1="314.04" x2="315.56" y1="68.2" y2="68.2" stroke="#959595" stroke-width="1.2"/>
<line x1="314.04" x2="315.56" y1="97.1" y2="97.1" stroke="#959595" stroke-width="1.2"/>
<rect x="313.33" y="82.6" width="2.94" height="10.40" fill="#3cba5a" stroke="#505050" stroke-width="0.5"/>
<line x1="313.33" x2="316.27" y1="86.9" y2="86.9" stroke="#505050" stroke-width="0.6"/>
<circle cx="314.80" cy="63.2" r="0.9" fill="#2a2a2a"/>
<circle cx="314.80" cy="65.4" r="0.9" fill="#2a2a2a"/>
<line x1="317.83" x2="317.83" y1="57" y2="72.9" stroke="#959595" stroke-width="1.2"/>
<line x1="317.83" x2="317.83" y1="87.4" y2="95.6" stroke="#959595" stroke-width="1.2"/>
<line x1="317.08" x2="318.59" y1="57" y2="57" stroke="#959595" stroke-width="1.2"/>
<line x1="317.08" x2="318.59" y1="95.6" y2="95.6" stroke="#959595" stroke-width="1.2"/>
<rect x="316.37" y="72.9" width="2.94" height="14.50" fill="#fdb83f" stroke="#505050" stroke-width="0.5"/>
<line x1="316.37" x2="319.30" y1="81.3" y2="81.3" stroke="#505050" stroke-width="0.6"/>
<circle cx="317.83" cy="52.3" r="0.9" fill="#2a2a2a"/>
<line x1="320.87" x2="320.87" y1="63.9" y2="75.1" stroke="#959595" stroke-width="1.2"/>
<line x1="320.87" x2="320.87" y1="87.8" y2="95.6" stroke="#959595" stroke-width="1.2"/>
<line x1="320.11" x2="321.63" y1="63.9" y2="63.9" stroke="#959595" stroke-width="1.2"/>
<line x1="320.11" x2="321.63" y1="95.6" y2="95.6" stroke="#959595" stroke-width="1.2"/>
<rect x="319.40" y="75.1" width="2.94" height="12.70" fill="#f9842f" stroke="#505050" stroke-width="0.5"/>
<line x1="319.40" x2="322.34" y1="83.1" y2="83.1" stroke="#505050" stroke-width="0.6"/>
<circle cx="320.87" cy="41.5" r="0.9" fill="#2a2a2a"/>
<circle cx="320.87" cy="43.4" r="0.9" fill="#2a2a2a"/>
<circle cx="320.87" cy="47.1" r="0.9" fill="#2a2a2a"/>
<line x1="323.91" x2="323.91" y1="68.2" y2="80" stroke="#959595" stroke-width="1.2"/>
<line x1="323.91" x2="323.91" y1="86.9" y2="94.3" stroke="#959595" stroke-width="1.2"/>
<line x1="323.15" x2="324.66" y1="68.2" y2="68.2" stroke="#959595" stroke-width="1.2"/>
<line x1="323.15" x2="324.66" y1="94.3" y2="94.3" stroke="#959595" stroke-width="1.2"/>
<rect x="322.44" y="80" width="2.94" height="6.90" fill="#f45430" stroke="#505050" stroke-width="0.5"/>
<line x1="322.44" x2="325.37" y1="82.2" y2="82.2" stroke="#505050" stroke-width="0.6"/>
<circle cx="323.91" cy="54.6" r="0.9" fill="#2a2a2a"/>
<circle cx="323.91" cy="61.7" r="0.9" fill="#2a2a2a"/>
<circle cx="323.91" cy="63.9" r="0.9" fill="#2a2a2a"/>
<line x1="331.49" x2="331.49" y1="69.1" y2="83.1" stroke="#959595" stroke-width="1.2"/>
<line x1="331.49" x2="331.49" y1="93" y2="97.1" stroke="#959595" stroke-width="1.2"/>
<line x1="330.74" x2="332.25" y1="69.1" y2="69.1" stroke="#959595" stroke-width="1.2"/>
<line x1="330.74" x2="332.25" y1="97.1" y2="97.1" stroke="#959595" stroke-width="1.2"/>
<rect x="330.03" y="83.1" width="2.94" height="9.90" fill="#0b2f86" stroke="#505050" stroke-width="0.5"/>
<line x1="330.03" x2="332.96" y1="87.8" y2="87.8" stroke="#505050" stroke-width="0.6"/>
<circle cx="331.49" cy="67.6" r="0.9" fill="#2a2a2a"/>
<line x1="334.53" x2="334.53" y1="79.4" y2="88.7" stroke="#959595" stroke-width="1.2"/>
<line x1="334.53" x2="334.53" y1="93.8" y2="97.1" stroke="#959595" stroke-width="1.2"/>
<line x1="333.77" x2="335.29" y1="79.4" y2="79.4" stroke="#959595" stroke-width="1.2"/>
<line x1="333.77" x2="335.29" y1="97.1" y2="97.1" stroke="#959595" stroke-width="1.2"/>
<rect x="333.06" y="88.7" width="2.94" height="5.10" fill="#66d9ea" stroke="#505050" stroke-width="0.5"/>
<line x1="333.06" x2="336.00" y1="90.6" y2="90.6" stroke="#505050" stroke-width="0.6"/>
<circle cx="334.53" cy="75.7" r="0.9" fill="#2a2a2a"/>
<circle cx="334.53" cy="77.5" r="0.9" fill="#2a2a2a"/>
<line x1="337.57" x2="337.57" y1="68.2" y2="80.3" stroke="#959595" stroke-width="1.2"/>
<line x1="337.57" x2="337.57" y1="90.6" y2="96.2" stroke="#959595" stroke-width="1.2"/>
<line x1="336.81" x2="338.32" y1="68.2" y2="68.2" stroke="#959595" stroke-width="1.2"/>
<line x1="336.81" x2="338.32" y1="96.2" y2="96.2" stroke="#959595" stroke-width="1.2"/>
<rect x="336.10" y="80.3" width="2.94" height="10.30" fill="#3cba5a" stroke="#505050" stroke-width="0.5"/>
<line x1="336.10" x2="339.03" y1="85" y2="85" stroke="#505050" stroke-width="0.6"/>
<circle cx="337.57" cy="54.6" r="0.9" fill="#2a2a2a"/>
<line x1="340.60" x2="340.60" y1="62" y2="78.1" stroke="#959595" stroke-width="1.2"/>
<line x1="340.60" x2="340.60" y1="89.7" y2="95.6" stroke="#959595" stroke-width="1.2"/>
<line x1="339.84" x2="341.36" y1="62" y2="62" stroke="#959595" stroke-width="1.2"/>
<line x1="339.84" x2="341.36" y1="95.6" y2="95.6" stroke="#959595" stroke-width="1.2"/>
<rect x="339.13" y="78.1" width="2.94" height="11.60" fill="#fdb83f" stroke="#505050" stroke-width="0.5"/>
<line x1="339.13" x2="342.07" y1="83.1" y2="83.1" stroke="#505050" stroke-width="0.6"/>
<line x1="343.64" x2="343.64" y1="68.2" y2="81.3" stroke="#959595" stroke-width="1.2"/>
<line x1="343.64" x2="343.64" y1="89.3" y2="95.6" stroke="#959595" stroke-width="1.2"/>
<line x1="342.88" x2="344.40" y1="68.2" y2="68.2" stroke="#959595" stroke-width="1.2"/>
<line x1="342.88" x2="344.40" y1="95.6" y2="95.6" stroke="#959595" stroke-width="1.2"/>
<rect x="342.17" y="81.3" width="2.94" height="8.00" fill="#f9842f" stroke="#505050" stroke-width="0.5"/>
<line x1="342.17" x2="345.10" y1="84.4" y2="84.4" stroke="#505050" stroke-width="0.6"/>
<circle cx="343.64" cy="54.2" r="0.9" fill="#2a2a2a"/>
<circle cx="343.64" cy="62.6" r="0.9" fill="#2a2a2a"/>
<line x1="346.67" x2="346.67" y1="69.1" y2="82.6" stroke="#959595" stroke-width="1.2"/>
<line x1="346.67" x2="346.67" y1="89.3" y2="95.3" stroke="#959595" stroke-width="1.2"/>
<line x1="345.91" x2="347.43" y1="69.1" y2="69.1" stroke="#959595" stroke-width="1.2"/>
<line x1="345.91" x2="347.43" y1="95.3" y2="95.3" stroke="#959595" stroke-width="1.2"/>
<rect x="345.20" y="82.6" width="2.94" height="6.70" fill="#f45430" stroke="#505050" stroke-width="0.5"/>
<line x1="345.20" x2="348.14" y1="85.9" y2="85.9" stroke="#505050" stroke-width="0.6"/>
<circle cx="346.67" cy="64.5" r="0.9" fill="#2a2a2a"/>
<circle cx="346.67" cy="65.8" r="0.9" fill="#2a2a2a"/>
<circle cx="346.67" cy="67.3" r="0.9" fill="#2a2a2a"/>
<line x1="354.26" x2="354.26" y1="81.3" y2="89.3" stroke="#959595" stroke-width="1.2"/>
<line x1="354.26" x2="354.26" y1="94.9" y2="98.1" stroke="#959595" stroke-width="1.2"/>
<line x1="353.50" x2="355.02" y1="81.3" y2="81.3" stroke="#959595" stroke-width="1.2"/>
<line x1="353.50" x2="355.02" y1="98.1" y2="98.1" stroke="#959595" stroke-width="1.2"/>
<rect x="352.79" y="89.3" width="2.94" height="5.60" fill="#0b2f86" stroke="#505050" stroke-width="0.5"/>
<line x1="352.79" x2="355.73" y1="91.5" y2="91.5" stroke="#505050" stroke-width="0.6"/>
<circle cx="354.26" cy="74.7" r="0.9" fill="#2a2a2a"/>
<line x1="357.30" x2="357.30" y1="79.4" y2="88.7" stroke="#959595" stroke-width="1.2"/>
<line x1="357.30" x2="357.30" y1="94.3" y2="98.1" stroke="#959595" stroke-width="1.2"/>
<line x1="356.54" x2="358.06" y1="79.4" y2="79.4" stroke="#959595" stroke-width="1.2"/>
<line x1="356.54" x2="358.06" y1="98.1" y2="98.1" stroke="#959595" stroke-width="1.2"/>
<rect x="355.83" y="88.7" width="2.94" height="5.60" fill="#66d9ea" stroke="#505050" stroke-width="0.5"/>
<line x1="355.83" x2="358.76" y1="91.5" y2="91.5" stroke="#505050" stroke-width="0.6"/>
<circle cx="357.30" cy="46.7" r="0.9" fill="#2a2a2a"/>
<circle cx="357.30" cy="63.9" r="0.9" fill="#2a2a2a"/>
<circle cx="357.30" cy="73.8" r="0.9" fill="#2a2a2a"/>
<circle cx="357.30" cy="76.2" r="0.9" fill="#2a2a2a"/>
<line x1="360.33" x2="360.33" y1="80" y2="87.8" stroke="#959595" stroke-width="1.2"/>
<line x1="360.33" x2="360.33" y1="93.4" y2="97.1" stroke="#959595" stroke-width="1.2"/>
<line x1="359.57" x2="361.09" y1="80" y2="80" stroke="#959595" stroke-width="1.2"/>
<line x1="359.57" x2="361.09" y1="97.1" y2="97.1" stroke="#959595" stroke-width="1.2"/>
<rect x="358.86" y="87.8" width="2.94" height="5.60" fill="#3cba5a" stroke="#505050" stroke-width="0.5"/>
<line x1="358.86" x2="361.80" y1="90.6" y2="90.6" stroke="#505050" stroke-width="0.6"/>
<circle cx="360.33" cy="70.1" r="0.9" fill="#2a2a2a"/>
<circle cx="360.33" cy="76.6" r="0.9" fill="#2a2a2a"/>
<line x1="363.37" x2="363.37" y1="78.5" y2="86.9" stroke="#959595" stroke-width="1.2"/>
<line x1="363.37" x2="363.37" y1="93" y2="96.8" stroke="#959595" stroke-width="1.2"/>
<line x1="362.61" x2="364.13" y1="78.5" y2="78.5" stroke="#959595" stroke-width="1.2"/>
<line x1="362.61" x2="364.13" y1="96.8" y2="96.8" stroke="#959595" stroke-width="1.2"/>
<rect x="361.90" y="86.9" width="2.94" height="6.10" fill="#fdb83f" stroke="#505050" stroke-width="0.5"/>
<line x1="361.90" x2="364.84" y1="89.3" y2="89.3" stroke="#505050" stroke-width="0.6"/>
<circle cx="363.37" cy="75.1" r="0.9" fill="#2a2a2a"/>
<line x1="366.40" x2="366.40" y1="72.9" y2="82.6" stroke="#959595" stroke-width="1.2"/>
<line x1="366.40" x2="366.40" y1="89.3" y2="95.6" stroke="#959595" stroke-width="1.2"/>
<line x1="365.64" x2="367.16" y1="72.9" y2="72.9" stroke="#959595" stroke-width="1.2"/>
<line x1="365.64" x2="367.16" y1="95.6" y2="95.6" stroke="#959595" stroke-width="1.2"/>
<rect x="364.94" y="82.6" width="2.94" height="6.70" fill="#f9842f" stroke="#505050" stroke-width="0.5"/>
<line x1="364.94" x2="367.87" y1="85.6" y2="85.6" stroke="#505050" stroke-width="0.6"/>
<circle cx="366.40" cy="70.6" r="0.9" fill="#2a2a2a"/>
<line x1="369.44" x2="369.44" y1="65.8" y2="82.2" stroke="#959595" stroke-width="1.2"/>
<line x1="369.44" x2="369.44" y1="89.7" y2="95.6" stroke="#959595" stroke-width="1.2"/>
<line x1="368.68" x2="370.20" y1="65.8" y2="65.8" stroke="#959595" stroke-width="1.2"/>
<line x1="368.68" x2="370.20" y1="95.6" y2="95.6" stroke="#959595" stroke-width="1.2"/>
<rect x="367.97" y="82.2" width="2.94" height="7.50" fill="#f45430" stroke="#505050" stroke-width="0.5"/>
<line x1="367.97" x2="370.91" y1="85.6" y2="85.6" stroke="#505050" stroke-width="0.6"/>
<circle cx="369.44" cy="61.7" r="0.9" fill="#2a2a2a"/>
<circle cx="369.44" cy="63.2" r="0.9" fill="#2a2a2a"/>
<line x1="377.03" x2="377.03" y1="83.1" y2="91.2" stroke="#959595" stroke-width="1.2"/>
<line x1="377.03" x2="377.03" y1="96.8" y2="98.6" stroke="#959595" stroke-width="1.2"/>
<line x1="376.27" x2="377.79" y1="83.1" y2="83.1" stroke="#959595" stroke-width="1.2"/>
<line x1="376.27" x2="377.79" y1="98.6" y2="98.6" stroke="#959595" stroke-width="1.2"/>
<rect x="375.56" y="91.2" width="2.94" height="5.60" fill="#0b2f86" stroke="#505050" stroke-width="0.5"/>
<line x1="375.56" x2="378.50" y1="93.4" y2="93.4" stroke="#505050" stroke-width="0.6"/>
<circle cx="377.03" cy="76.6" r="0.9" fill="#2a2a2a"/>
<line x1="380.06" x2="380.06" y1="82.6" y2="91.5" stroke="#959595" stroke-width="1.2"/>
<line x1="380.06" x2="380.06" y1="95.6" y2="98.6" stroke="#959595" stroke-width="1.2"/>
<line x1="379.30" x2="380.82" y1="82.6" y2="82.6" stroke="#959595" stroke-width="1.2"/>
<line x1="379.30" x2="380.82" y1="98.6" y2="98.6" stroke="#959595" stroke-width="1.2"/>
<rect x="378.60" y="91.5" width="2.94" height="4.10" fill="#66d9ea" stroke="#505050" stroke-width="0.5"/>
<line x1="378.60" x2="381.53" y1="93.4" y2="93.4" stroke="#505050" stroke-width="0.6"/>
<circle cx="380.06" cy="81.3" r="0.9" fill="#2a2a2a"/>
<line x1="383.10" x2="383.10" y1="80" y2="87.4" stroke="#959595" stroke-width="1.2"/>
<line x1="383.10" x2="383.10" y1="93.4" y2="97.1" stroke="#959595" stroke-width="1.2"/>
<line x1="382.34" x2="383.86" y1="80" y2="80" stroke="#959595" stroke-width="1.2"/>
<line x1="382.34" x2="383.86" y1="97.1" y2="97.1" stroke="#959595" stroke-width="1.2"/>
<rect x="381.63" y="87.4" width="2.94" height="6.00" fill="#3cba5a" stroke="#505050" stroke-width="0.5"/>
<line x1="381.63" x2="384.57" y1="90.6" y2="90.6" stroke="#505050" stroke-width="0.6"/>
<line x1="386.13" x2="386.13" y1="78.5" y2="86.9" stroke="#959595" stroke-width="1.2"/>
<line x1="386.13" x2="386.13" y1="91.9" y2="96.2" stroke="#959595" stroke-width="1.2"/>
<line x1="385.38" x2="386.89" y1="78.5" y2="78.5" stroke="#959595" stroke-width="1.2"/>
<line x1="385.38" x2="386.89" y1="96.2" y2="96.2" stroke="#959595" stroke-width="1.2"/>
<rect x="384.67" y="86.9" width="2.94" height="5.00" fill="#fdb83f" stroke="#505050" stroke-width="0.5"/>
<line x1="384.67" x2="387.60" y1="88.7" y2="88.7" stroke="#505050" stroke-width="0.6"/>
<circle cx="386.13" cy="71.9" r="0.9" fill="#2a2a2a"/>
<line x1="389.17" x2="389.17" y1="75.1" y2="85" stroke="#959595" stroke-width="1.2"/>
<line x1="389.17" x2="389.17" y1="91.5" y2="95.6" stroke="#959595" stroke-width="1.2"/>
<line x1="388.41" x2="389.93" y1="75.1" y2="75.1" stroke="#959595" stroke-width="1.2"/>
<line x1="388.41" x2="389.93" y1="95.6" y2="95.6" stroke="#959595" stroke-width="1.2"/>
<rect x="387.70" y="85" width="2.94" height="6.50" fill="#f9842f" stroke="#505050" stroke-width="0.5"/>
<line x1="387.70" x2="390.64" y1="87.4" y2="87.4" stroke="#505050" stroke-width="0.6"/>
<circle cx="389.17" cy="73.2" r="0.9" fill="#2a2a2a"/>
<line x1="392.21" x2="392.21" y1="65" y2="82.6" stroke="#959595" stroke-width="1.2"/>
<line x1="392.21" x2="392.21" y1="91.2" y2="95.6" stroke="#959595" stroke-width="1.2"/>
<line x1="391.45" x2="392.96" y1="65" y2="65" stroke="#959595" stroke-width="1.2"/>
<line x1="391.45" x2="392.96" y1="95.6" y2="95.6" stroke="#959595" stroke-width="1.2"/>
<rect x="390.74" y="82.6" width="2.94" height="8.60" fill="#f45430" stroke="#505050" stroke-width="0.5"/>
<line x1="390.74" x2="393.67" y1="86.9" y2="86.9" stroke="#505050" stroke-width="0.6"/>
<circle cx="392.21" cy="30.9" r="0.9" fill="#2a2a2a"/>
<circle cx="392.21" cy="64.5" r="0.9" fill="#2a2a2a"/>
<line x1="399.79" x2="399.79" y1="85.6" y2="91.5" stroke="#959595" stroke-width="1.2"/>
<line x1="399.79" x2="399.79" y1="97.1" y2="99.9" stroke="#959595" stroke-width="1.2"/>
<line x1="399.04" x2="400.55" y1="85.6" y2="85.6" stroke="#959595" stroke-width="1.2"/>
<line x1="399.04" x2="400.55" y1="99.9" y2="99.9" stroke="#959595" stroke-width="1.2"/>
<rect x="398.33" y="91.5" width="2.94" height="5.60" fill="#0b2f86" stroke="#505050" stroke-width="0.5"/>
<line x1="398.33" x2="401.26" y1="94.3" y2="94.3" stroke="#505050" stroke-width="0.6"/>
<line x1="405.87" x2="405.87" y1="85" y2="89.3" stroke="#959595" stroke-width="1.2"/>
<line x1="405.87" x2="405.87" y1="95.3" y2="98.1" stroke="#959595" stroke-width="1.2"/>
<line x1="405.11" x2="406.62" y1="85" y2="85" stroke="#959595" stroke-width="1.2"/>
<line x1="405.11" x2="406.62" y1="98.1" y2="98.1" stroke="#959595" stroke-width="1.2"/>
<rect x="404.40" y="89.3" width="2.94" height="6.00" fill="#3cba5a" stroke="#505050" stroke-width="0.5"/>
<line x1="404.40" x2="407.33" y1="91.9" y2="91.9" stroke="#505050" stroke-width="0.6"/>
<circle cx="405.87" cy="78.1" r="0.9" fill="#2a2a2a"/>
<line x1="408.90" x2="408.90" y1="79.4" y2="86.3" stroke="#959595" stroke-width="1.2"/>
<line x1="408.90" x2="408.90" y1="91.9" y2="96.8" stroke="#959595" stroke-width="1.2"/>
<line x1="408.14" x2="409.66" y1="79.4" y2="79.4" stroke="#959595" stroke-width="1.2"/>
<line x1="408.14" x2="409.66" y1="96.8" y2="96.8" stroke="#959595" stroke-width="1.2"/>
<rect x="407.43" y="86.3" width="2.94" height="5.60" fill="#fdb83f" stroke="#505050" stroke-width="0.5"/>
<line x1="407.43" x2="410.37" y1="88.7" y2="88.7" stroke="#505050" stroke-width="0.6"/>
<line x1="411.94" x2="411.94" y1="81.3" y2="88.2" stroke="#959595" stroke-width="1.2"/>
<line x1="411.94" x2="411.94" y1="93.4" y2="97.1" stroke="#959595" stroke-width="1.2"/>
<line x1="411.18" x2="412.70" y1="81.3" y2="81.3" stroke="#959595" stroke-width="1.2"/>
<line x1="411.18" x2="412.70" y1="97.1" y2="97.1" stroke="#959595" stroke-width="1.2"/>
<rect x="410.47" y="88.2" width="2.94" height="5.20" fill="#f9842f" stroke="#505050" stroke-width="0.5"/>
<line x1="410.47" x2="413.40" y1="90.6" y2="90.6" stroke="#505050" stroke-width="0.6"/>
<circle cx="411.94" cy="64.5" r="0.9" fill="#2a2a2a"/>
<circle cx="411.94" cy="76.6" r="0.9" fill="#2a2a2a"/>
<circle cx="411.94" cy="79.4" r="0.9" fill="#2a2a2a"/>
<line x1="414.97" x2="414.97" y1="78.1" y2="89.7" stroke="#959595" stroke-width="1.2"/>
<line x1="414.97" x2="414.97" y1="94.9" y2="98.1" stroke="#959595" stroke-width="1.2"/>
<line x1="414.21" x2="415.73" y1="78.1" y2="78.1" stroke="#959595" stroke-width="1.2"/>
<line x1="414.21" x2="415.73" y1="98.1" y2="98.1" stroke="#959595" stroke-width="1.2"/>
<rect x="413.50" y="89.7" width="2.94" height="5.20" fill="#f45430" stroke="#505050" stroke-width="0.5"/>
<line x1="413.50" x2="416.44" y1="91.5" y2="91.5" stroke="#505050" stroke-width="0.6"/>
<circle cx="414.97" cy="55.1" r="0.9" fill="#2a2a2a"/>
<circle cx="414.97" cy="57" r="0.9" fill="#2a2a2a"/>
<circle cx="414.97" cy="59.8" r="0.9" fill="#2a2a2a"/>
<circle cx="414.97" cy="74.4" r="0.9" fill="#2a2a2a"/>
<circle cx="414.97" cy="75.7" r="0.9" fill="#2a2a2a"/>
<circle cx="414.97" cy="77.5" r="0.9" fill="#2a2a2a"/>
<circle cx="414.97" cy="81.3" r="0.9" fill="#2a2a2a"/>
<line x1="422.56" x2="422.56" y1="85.6" y2="91.5" stroke="#959595" stroke-width="1.2"/>
<line x1="422.56" x2="422.56" y1="98.1" y2="100.5" stroke="#959595" stroke-width="1.2"/>
<line x1="421.80" x2="423.32" y1="85.6" y2="85.6" stroke="#959595" stroke-width="1.2"/>
<line x1="421.80" x2="423.32" y1="100.5" y2="100.5" stroke="#959595" stroke-width="1.2"/>
<rect x="421.09" y="91.5" width="2.94" height="6.60" fill="#0b2f86" stroke="#505050" stroke-width="0.5"/>
<line x1="421.09" x2="424.03" y1="94.3" y2="94.3" stroke="#505050" stroke-width="0.6"/>
<circle cx="422.56" cy="78.8" r="0.9" fill="#2a2a2a"/>
<circle cx="422.56" cy="80.7" r="0.9" fill="#2a2a2a"/>
<line x1="428.63" x2="428.63" y1="86.9" y2="92.5" stroke="#959595" stroke-width="1.2"/>
<line x1="428.63" x2="428.63" y1="97.5" y2="99.9" stroke="#959595" stroke-width="1.2"/>
<line x1="427.87" x2="429.39" y1="86.9" y2="86.9" stroke="#959595" stroke-width="1.2"/>
<line x1="427.87" x2="429.39" y1="99.9" y2="99.9" stroke="#959595" stroke-width="1.2"/>
<rect x="427.16" y="92.5" width="2.94" height="5.00" fill="#3cba5a" stroke="#505050" stroke-width="0.5"/>
<line x1="427.16" x2="430.10" y1="94.3" y2="94.3" stroke="#505050" stroke-width="0.6"/>
<circle cx="428.63" cy="70.1" r="0.9" fill="#2a2a2a"/>
<circle cx="428.63" cy="80.3" r="0.9" fill="#2a2a2a"/>
<circle cx="428.63" cy="85" r="0.9" fill="#2a2a2a"/>
<line x1="431.67" x2="431.67" y1="69.1" y2="84.4" stroke="#959595" stroke-width="1.2"/>
<line x1="431.67" x2="431.67" y1="93" y2="97.1" stroke="#959595" stroke-width="1.2"/>
<line x1="430.91" x2="432.43" y1="69.1" y2="69.1" stroke="#959595" stroke-width="1.2"/>
<line x1="430.91" x2="432.43" y1="97.1" y2="97.1" stroke="#959595" stroke-width="1.2"/>
<rect x="430.20" y="84.4" width="2.94" height="8.60" fill="#fdb83f" stroke="#505050" stroke-width="0.5"/>
<line x1="430.20" x2="433.14" y1="88.7" y2="88.7" stroke="#505050" stroke-width="0.6"/>
<circle cx="431.67" cy="67.6" r="0.9" fill="#2a2a2a"/>
<line x1="434.70" x2="434.70" y1="70.6" y2="82.6" stroke="#959595" stroke-width="1.2"/>
<line x1="434.70" x2="434.70" y1="96.8" y2="99" stroke="#959595" stroke-width="1.2"/>
<line x1="433.94" x2="435.46" y1="70.6" y2="70.6" stroke="#959595" stroke-width="1.2"/>
<line x1="433.94" x2="435.46" y1="99" y2="99" stroke="#959595" stroke-width="1.2"/>
<rect x="433.24" y="82.6" width="2.94" height="14.20" fill="#f9842f" stroke="#505050" stroke-width="0.5"/>
<line x1="433.24" x2="436.17" y1="89.3" y2="89.3" stroke="#505050" stroke-width="0.6"/>
<line x1="437.74" x2="437.74" y1="77.5" y2="86.3" stroke="#959595" stroke-width="1.2"/>
<line x1="437.74" x2="437.74" y1="91.9" y2="97.1" stroke="#959595" stroke-width="1.2"/>
<line x1="436.98" x2="438.50" y1="77.5" y2="77.5" stroke="#959595" stroke-width="1.2"/>
<line x1="436.98" x2="438.50" y1="97.1" y2="97.1" stroke="#959595" stroke-width="1.2"/>
<rect x="436.27" y="86.3" width="2.94" height="5.60" fill="#f45430" stroke="#505050" stroke-width="0.5"/>
<line x1="436.27" x2="439.21" y1="89.7" y2="89.7" stroke="#505050" stroke-width="0.6"/>
<circle cx="437.74" cy="75.7" r="0.9" fill="#2a2a2a"/>
<line x1="445.33" x2="445.33" y1="78.5" y2="88.2" stroke="#959595" stroke-width="1.2"/>
<line x1="445.33" x2="445.33" y1="94.9" y2="99.4" stroke="#959595" stroke-width="1.2"/>
<line x1="444.57" x2="446.09" y1="78.5" y2="78.5" stroke="#959595" stroke-width="1.2"/>
<line x1="444.57" x2="446.09" y1="99.4" y2="99.4" stroke="#959595" stroke-width="1.2"/>
<rect x="443.86" y="88.2" width="2.94" height="6.70" fill="#0b2f86" stroke="#505050" stroke-width="0.5"/>
<line x1="443.86" x2="446.80" y1="91.5" y2="91.5" stroke="#505050" stroke-width="0.6"/>
<line x1="451.40" x2="451.40" y1="85" y2="93" stroke="#959595" stroke-width="1.2"/>
<line x1="451.40" x2="451.40" y1="96.2" y2="98.6" stroke="#959595" stroke-width="1.2"/>
<line x1="450.64" x2="452.16" y1="85" y2="85" stroke="#959595" stroke-width="1.2"/>
<line x1="450.64" x2="452.16" y1="98.6" y2="98.6" stroke="#959595" stroke-width="1.2"/>
<rect x="449.93" y="93" width="2.94" height="3.20" fill="#3cba5a" stroke="#505050" stroke-width="0.5"/>
<line x1="449.93" x2="452.87" y1="94.3" y2="94.3" stroke="#505050" stroke-width="0.6"/>
<circle cx="451.40" cy="78.5" r="0.9" fill="#2a2a2a"/>
<circle cx="451.40" cy="80.3" r="0.9" fill="#2a2a2a"/>
<circle cx="451.40" cy="82.2" r="0.9" fill="#2a2a2a"/>
<circle cx="451.40" cy="84.1" r="0.9" fill="#2a2a2a"/>
<circle cx="451.40" cy="85.9" r="0.9" fill="#2a2a2a"/>
<circle cx="451.40" cy="87.8" r="0.9" fill="#2a2a2a"/>
<line x1="454.43" x2="454.43" y1="78.5" y2="88.2" stroke="#959595" stroke-width="1.2"/>
<line x1="454.43" x2="454.43" y1="93.4" y2="98.1" stroke="#959595" stroke-width="1.2"/>
<line x1="453.68" x2="455.19" y1="78.5" y2="78.5" stroke="#959595" stroke-width="1.2"/>
<line x1="453.68" x2="455.19" y1="98.1" y2="98.1" stroke="#959595" stroke-width="1.2"/>
<rect x="452.97" y="88.2" width="2.94" height="5.20" fill="#fdb83f" stroke="#505050" stroke-width="0.5"/>
<line x1="452.97" x2="455.90" y1="91.2" y2="91.2" stroke="#505050" stroke-width="0.6"/>
<circle cx="454.43" cy="75.7" r="0.9" fill="#2a2a2a"/>
<circle cx="454.43" cy="77" r="0.9" fill="#2a2a2a"/>
<line x1="457.47" x2="457.47" y1="75.1" y2="81.3" stroke="#959595" stroke-width="1.2"/>
<line x1="457.47" x2="457.47" y1="88.2" y2="97.1" stroke="#959595" stroke-width="1.2"/>
<line x1="456.71" x2="458.23" y1="75.1" y2="75.1" stroke="#959595" stroke-width="1.2"/>
<line x1="456.71" x2="458.23" y1="97.1" y2="97.1" stroke="#959595" stroke-width="1.2"/>
<rect x="456.00" y="81.3" width="2.94" height="6.90" fill="#f9842f" stroke="#505050" stroke-width="0.5"/>
<line x1="456.00" x2="458.94" y1="85" y2="85" stroke="#505050" stroke-width="0.6"/>
<line x1="460.51" x2="460.51" y1="82.2" y2="89.3" stroke="#959595" stroke-width="1.2"/>
<line x1="460.51" x2="460.51" y1="93" y2="97.1" stroke="#959595" stroke-width="1.2"/>
<line x1="459.75" x2="461.26" y1="82.2" y2="82.2" stroke="#959595" stroke-width="1.2"/>
<line x1="459.75" x2="461.26" y1="97.1" y2="97.1" stroke="#959595" stroke-width="1.2"/>
<rect x="459.04" y="89.3" width="2.94" height="3.70" fill="#f45430" stroke="#505050" stroke-width="0.5"/>
<line x1="459.04" x2="461.97" y1="91.2" y2="91.2" stroke="#505050" stroke-width="0.6"/>
<circle cx="460.51" cy="78.5" r="0.9" fill="#2a2a2a"/>
<circle cx="460.51" cy="80" r="0.9" fill="#2a2a2a"/>
<rect x="27.5" y="127.4" width="204.90" height="85.70" fill="#e8e9f2"/>
<line x1="27.5" x2="232.4" y1="129.0" y2="129.0" stroke="#f8f8fb" stroke-width="0.9"/>
<text x="23.0" y="131.6" font-size="7.45" fill="#262626" text-anchor="end">20</text>
<line x1="27.5" x2="232.4" y1="149.9" y2="149.9" stroke="#f8f8fb" stroke-width="0.9"/>
<text x="23.0" y="152.5" font-size="7.45" fill="#262626" text-anchor="end">15</text>
<line x1="27.5" x2="232.4" y1="170.2" y2="170.2" stroke="#f8f8fb" stroke-width="0.9"/>
<text x="23.0" y="172.79999999999998" font-size="7.45" fill="#262626" text-anchor="end">10</text>
<line x1="27.5" x2="232.4" y1="191.1" y2="191.1" stroke="#f8f8fb" stroke-width="0.9"/>
<text x="23.0" y="193.7" font-size="7.45" fill="#262626" text-anchor="end">5</text>
<line x1="27.5" x2="232.4" y1="211.6" y2="211.6" stroke="#f8f8fb" stroke-width="0.9"/>
<text x="23.0" y="214.2" font-size="7.45" fill="#262626" text-anchor="end">0</text>
<text class="b" x="129.95" y="125.35000000000001" font-size="8.1" fill="#262626" text-anchor="middle">Chlorophyll a+b (mg/g<tspan dx="0.6" dy="-5.6" font-size="6.2">−1</tspan><tspan dx="0.2" dy="5.6">)</tspan></text>
<line x1="31.29" x2="31.29" y1="184.1" y2="195.9" stroke="#959595" stroke-width="1.2"/>
<line x1="31.29" x2="31.29" y1="204.6" y2="207.6" stroke="#959595" stroke-width="1.2"/>
<line x1="30.54" x2="32.05" y1="184.1" y2="184.1" stroke="#959595" stroke-width="1.2"/>
<line x1="30.54" x2="32.05" y1="207.6" y2="207.6" stroke="#959595" stroke-width="1.2"/>
<rect x="29.83" y="195.9" width="2.94" height="8.70" fill="#0b2f86" stroke="#505050" stroke-width="0.5"/>
<line x1="29.83" x2="32.76" y1="199.6" y2="199.6" stroke="#505050" stroke-width="0.6"/>
<circle cx="31.29" cy="147.3" r="0.9" fill="#2a2a2a"/>
<circle cx="31.29" cy="172.2" r="0.9" fill="#2a2a2a"/>
<circle cx="31.29" cy="180.9" r="0.9" fill="#2a2a2a"/>
<line x1="34.33" x2="34.33" y1="181.5" y2="194.6" stroke="#959595" stroke-width="1.2"/>
<line x1="34.33" x2="34.33" y1="204.3" y2="208" stroke="#959595" stroke-width="1.2"/>
<line x1="33.57" x2="35.09" y1="181.5" y2="181.5" stroke="#959595" stroke-width="1.2"/>
<line x1="33.57" x2="35.09" y1="208" y2="208" stroke="#959595" stroke-width="1.2"/>
<rect x="32.86" y="194.6" width="2.94" height="9.70" fill="#66d9ea" stroke="#505050" stroke-width="0.5"/>
<line x1="32.86" x2="35.80" y1="199.6" y2="199.6" stroke="#505050" stroke-width="0.6"/>
<circle cx="34.33" cy="165.4" r="0.9" fill="#2a2a2a"/>
<circle cx="34.33" cy="174" r="0.9" fill="#2a2a2a"/>
<line x1="37.37" x2="37.37" y1="178.5" y2="194.6" stroke="#959595" stroke-width="1.2"/>
<line x1="37.37" x2="37.37" y1="205.2" y2="208" stroke="#959595" stroke-width="1.2"/>
<line x1="36.61" x2="38.12" y1="178.5" y2="178.5" stroke="#959595" stroke-width="1.2"/>
<line x1="36.61" x2="38.12" y1="208" y2="208" stroke="#959595" stroke-width="1.2"/>
<rect x="35.90" y="194.6" width="2.94" height="10.60" fill="#3cba5a" stroke="#505050" stroke-width="0.5"/>
<line x1="35.90" x2="38.83" y1="201.5" y2="201.5" stroke="#505050" stroke-width="0.6"/>
<circle cx="37.37" cy="143.6" r="0.9" fill="#2a2a2a"/>
<circle cx="37.37" cy="152.9" r="0.9" fill="#2a2a2a"/>
<circle cx="37.37" cy="172.9" r="0.9" fill="#2a2a2a"/>
<circle cx="37.37" cy="174" r="0.9" fill="#2a2a2a"/>
<line x1="40.40" x2="40.40" y1="168.8" y2="184.7" stroke="#959595" stroke-width="1.2"/>
<line x1="40.40" x2="40.40" y1="197.2" y2="207.6" stroke="#959595" stroke-width="1.2"/>
<line x1="39.64" x2="41.16" y1="168.8" y2="168.8" stroke="#959595" stroke-width="1.2"/>
<line x1="39.64" x2="41.16" y1="207.6" y2="207.6" stroke="#959595" stroke-width="1.2"/>
<rect x="38.93" y="184.7" width="2.94" height="12.50" fill="#fdb83f" stroke="#505050" stroke-width="0.5"/>
<line x1="38.93" x2="41.87" y1="190.3" y2="190.3" stroke="#505050" stroke-width="0.6"/>
<circle cx="40.40" cy="151.1" r="0.9" fill="#2a2a2a"/>
<circle cx="40.40" cy="160.4" r="0.9" fill="#2a2a2a"/>
<circle cx="40.40" cy="162.3" r="0.9" fill="#2a2a2a"/>
<circle cx="40.40" cy="163.6" r="0.9" fill="#2a2a2a"/>
<circle cx="40.40" cy="165.4" r="0.9" fill="#2a2a2a"/>
<line x1="43.44" x2="43.44" y1="175.9" y2="193.4" stroke="#959595" stroke-width="1.2"/>
<line x1="43.44" x2="43.44" y1="203.3" y2="207.1" stroke="#959595" stroke-width="1.2"/>
<line x1="42.68" x2="44.20" y1="175.9" y2="175.9" stroke="#959595" stroke-width="1.2"/>
<line x1="42.68" x2="44.20" y1="207.1" y2="207.1" stroke="#959595" stroke-width="1.2"/>
<rect x="41.97" y="193.4" width="2.94" height="9.90" fill="#f9842f" stroke="#505050" stroke-width="0.5"/>
<line x1="41.97" x2="44.90" y1="198.7" y2="198.7" stroke="#505050" stroke-width="0.6"/>
<circle cx="43.44" cy="163.2" r="0.9" fill="#2a2a2a"/>
<circle cx="43.44" cy="166.9" r="0.9" fill="#2a2a2a"/>
<circle cx="43.44" cy="174" r="0.9" fill="#2a2a2a"/>
<line x1="46.47" x2="46.47" y1="131.1" y2="172.9" stroke="#959595" stroke-width="1.2"/>
<line x1="46.47" x2="46.47" y1="200.5" y2="207.6" stroke="#959595" stroke-width="1.2"/>
<line x1="45.71" x2="47.23" y1="131.1" y2="131.1" stroke="#959595" stroke-width="1.2"/>
<line x1="45.71" x2="47.23" y1="207.6" y2="207.6" stroke="#959595" stroke-width="1.2"/>
<rect x="45.00" y="172.9" width="2.94" height="27.60" fill="#f45430" stroke="#505050" stroke-width="0.5"/>
<line x1="45.00" x2="47.94" y1="190.3" y2="190.3" stroke="#505050" stroke-width="0.6"/>
<line x1="54.06" x2="54.06" y1="197.7" y2="200.5" stroke="#959595" stroke-width="1.2"/>
<line x1="54.06" x2="54.06" y1="205.2" y2="207.6" stroke="#959595" stroke-width="1.2"/>
<line x1="53.30" x2="54.82" y1="197.7" y2="197.7" stroke="#959595" stroke-width="1.2"/>
<line x1="53.30" x2="54.82" y1="207.6" y2="207.6" stroke="#959595" stroke-width="1.2"/>
<rect x="52.59" y="200.5" width="2.94" height="4.70" fill="#0b2f86" stroke="#505050" stroke-width="0.5"/>
<line x1="52.59" x2="55.53" y1="202.4" y2="202.4" stroke="#505050" stroke-width="0.6"/>
<circle cx="54.06" cy="168.4" r="0.9" fill="#2a2a2a"/>
<circle cx="54.06" cy="186.5" r="0.9" fill="#2a2a2a"/>
<circle cx="54.06" cy="188.4" r="0.9" fill="#2a2a2a"/>
<circle cx="54.06" cy="190.3" r="0.9" fill="#2a2a2a"/>
<circle cx="54.06" cy="192.1" r="0.9" fill="#2a2a2a"/>
<circle cx="54.06" cy="194" r="0.9" fill="#2a2a2a"/>
<line x1="57.10" x2="57.10" y1="194.9" y2="202" stroke="#959595" stroke-width="1.2"/>
<line x1="57.10" x2="57.10" y1="205.2" y2="208" stroke="#959595" stroke-width="1.2"/>
<line x1="56.34" x2="57.86" y1="194.9" y2="194.9" stroke="#959595" stroke-width="1.2"/>
<line x1="56.34" x2="57.86" y1="208" y2="208" stroke="#959595" stroke-width="1.2"/>
<rect x="55.63" y="202" width="2.94" height="3.20" fill="#66d9ea" stroke="#505050" stroke-width="0.5"/>
<line x1="55.63" x2="58.56" y1="203.3" y2="203.3" stroke="#505050" stroke-width="0.6"/>
<circle cx="57.10" cy="183.4" r="0.9" fill="#2a2a2a"/>
<circle cx="57.10" cy="190.3" r="0.9" fill="#2a2a2a"/>
<circle cx="57.10" cy="192.7" r="0.9" fill="#2a2a2a"/>
<line x1="60.13" x2="60.13" y1="178.1" y2="193.4" stroke="#959595" stroke-width="1.2"/>
<line x1="60.13" x2="60.13" y1="204.6" y2="208" stroke="#959595" stroke-width="1.2"/>
<line x1="59.37" x2="60.89" y1="178.1" y2="178.1" stroke="#959595" stroke-width="1.2"/>
<line x1="59.37" x2="60.89" y1="208" y2="208" stroke="#959595" stroke-width="1.2"/>
<rect x="58.66" y="193.4" width="2.94" height="11.20" fill="#3cba5a" stroke="#505050" stroke-width="0.5"/>
<line x1="58.66" x2="61.60" y1="200.9" y2="200.9" stroke="#505050" stroke-width="0.6"/>
<circle cx="60.13" cy="155.7" r="0.9" fill="#2a2a2a"/>
<circle cx="60.13" cy="166.6" r="0.9" fill="#2a2a2a"/>
<line x1="63.17" x2="63.17" y1="163.2" y2="186.5" stroke="#959595" stroke-width="1.2"/>
<line x1="63.17" x2="63.17" y1="204.6" y2="208" stroke="#959595" stroke-width="1.2"/>
<line x1="62.41" x2="63.93" y1="163.2" y2="163.2" stroke="#959595" stroke-width="1.2"/>
<line x1="62.41" x2="63.93" y1="208" y2="208" stroke="#959595" stroke-width="1.2"/>
<rect x="61.70" y="186.5" width="2.94" height="18.10" fill="#fdb83f" stroke="#505050" stroke-width="0.5"/>
<line x1="61.70" x2="64.64" y1="194.6" y2="194.6" stroke="#505050" stroke-width="0.6"/>
<circle cx="63.17" cy="147.9" r="0.9" fill="#2a2a2a"/>
<line x1="66.20" x2="66.20" y1="139.3" y2="170.3" stroke="#959595" stroke-width="1.2"/>
<line x1="66.20" x2="66.20" y1="194.6" y2="206.1" stroke="#959595" stroke-width="1.2"/>
<line x1="65.44" x2="66.96" y1="139.3" y2="139.3" stroke="#959595" stroke-width="1.2"/>
<line x1="65.44" x2="66.96" y1="206.1" y2="206.1" stroke="#959595" stroke-width="1.2"/>
<rect x="64.74" y="170.3" width="2.94" height="24.30" fill="#f9842f" stroke="#505050" stroke-width="0.5"/>
<line x1="64.74" x2="67.67" y1="181.9" y2="181.9" stroke="#505050" stroke-width="0.6"/>
<line x1="69.24" x2="69.24" y1="148.3" y2="179.6" stroke="#959595" stroke-width="1.2"/>
<line x1="69.24" x2="69.24" y1="200.5" y2="206.1" stroke="#959595" stroke-width="1.2"/>
<line x1="68.48" x2="70.00" y1="148.3" y2="148.3" stroke="#959595" stroke-width="1.2"/>
<line x1="68.48" x2="70.00" y1="206.1" y2="206.1" stroke="#959595" stroke-width="1.2"/>
<rect x="67.77" y="179.6" width="2.94" height="20.90" fill="#f45430" stroke="#505050" stroke-width="0.5"/>
<line x1="67.77" x2="70.71" y1="195.3" y2="195.3" stroke="#505050" stroke-width="0.6"/>
<line x1="76.83" x2="76.83" y1="199.6" y2="202.4" stroke="#959595" stroke-width="1.2"/>
<line x1="76.83" x2="76.83" y1="206.1" y2="208.4" stroke="#959595" stroke-width="1.2"/>
<line x1="76.07" x2="77.59" y1="199.6" y2="199.6" stroke="#959595" stroke-width="1.2"/>
<line x1="76.07" x2="77.59" y1="208.4" y2="208.4" stroke="#959595" stroke-width="1.2"/>
<rect x="75.36" y="202.4" width="2.94" height="3.70" fill="#0b2f86" stroke="#505050" stroke-width="0.5"/>
<line x1="75.36" x2="78.30" y1="203.9" y2="203.9" stroke="#505050" stroke-width="0.6"/>
<circle cx="76.83" cy="188.4" r="0.9" fill="#2a2a2a"/>
<circle cx="76.83" cy="190.3" r="0.9" fill="#2a2a2a"/>
<circle cx="76.83" cy="192.7" r="0.9" fill="#2a2a2a"/>
<circle cx="76.83" cy="194.9" r="0.9" fill="#2a2a2a"/>
<line x1="79.86" x2="79.86" y1="200.5" y2="203.9" stroke="#959595" stroke-width="1.2"/>
<line x1="79.86" x2="79.86" y1="206.5" y2="208.4" stroke="#959595" stroke-width="1.2"/>
<line x1="79.10" x2="80.62" y1="200.5" y2="200.5" stroke="#959595" stroke-width="1.2"/>
<line x1="79.10" x2="80.62" y1="208.4" y2="208.4" stroke="#959595" stroke-width="1.2"/>
<rect x="78.40" y="203.9" width="2.94" height="2.60" fill="#66d9ea" stroke="#505050" stroke-width="0.5"/>
<line x1="78.40" x2="81.33" y1="205.2" y2="205.2" stroke="#505050" stroke-width="0.6"/>
<circle cx="79.86" cy="191.2" r="0.9" fill="#2a2a2a"/>
<circle cx="79.86" cy="193.4" r="0.9" fill="#2a2a2a"/>
<circle cx="79.86" cy="195.3" r="0.9" fill="#2a2a2a"/>
<line x1="82.90" x2="82.90" y1="190.3" y2="197.7" stroke="#959595" stroke-width="1.2"/>
<line x1="82.90" x2="82.90" y1="205.2" y2="208.4" stroke="#959595" stroke-width="1.2"/>
<line x1="82.14" x2="83.66" y1="190.3" y2="190.3" stroke="#959595" stroke-width="1.2"/>
<line x1="82.14" x2="83.66" y1="208.4" y2="208.4" stroke="#959595" stroke-width="1.2"/>
<rect x="81.43" y="197.7" width="2.94" height="7.50" fill="#3cba5a" stroke="#505050" stroke-width="0.5"/>
<line x1="81.43" x2="84.37" y1="202" y2="202" stroke="#505050" stroke-width="0.6"/>
<circle cx="82.90" cy="177.2" r="0.9" fill="#2a2a2a"/>
<circle cx="82.90" cy="180" r="0.9" fill="#2a2a2a"/>
<circle cx="82.90" cy="182.8" r="0.9" fill="#2a2a2a"/>
<circle cx="82.90" cy="184.7" r="0.9" fill="#2a2a2a"/>
<line x1="85.93" x2="85.93" y1="177.2" y2="193.1" stroke="#959595" stroke-width="1.2"/>
<line x1="85.93" x2="85.93" y1="204.6" y2="208" stroke="#959595" stroke-width="1.2"/>
<line x1="85.18" x2="86.69" y1="177.2" y2="177.2" stroke="#959595" stroke-width="1.2"/>
<line x1="85.18" x2="86.69" y1="208" y2="208" stroke="#959595" stroke-width="1.2"/>
<rect x="84.47" y="193.1" width="2.94" height="11.50" fill="#fdb83f" stroke="#505050" stroke-width="0.5"/>
<line x1="84.47" x2="87.40" y1="199.6" y2="199.6" stroke="#505050" stroke-width="0.6"/>
<circle cx="85.93" cy="168.8" r="0.9" fill="#2a2a2a"/>
<circle cx="85.93" cy="173.5" r="0.9" fill="#2a2a2a"/>
<line x1="88.97" x2="88.97" y1="177.2" y2="193.1" stroke="#959595" stroke-width="1.2"/>
<line x1="88.97" x2="88.97" y1="204.3" y2="208" stroke="#959595" stroke-width="1.2"/>
<line x1="88.21" x2="89.73" y1="177.2" y2="177.2" stroke="#959595" stroke-width="1.2"/>
<line x1="88.21" x2="89.73" y1="208" y2="208" stroke="#959595" stroke-width="1.2"/>
<rect x="87.50" y="193.1" width="2.94" height="11.20" fill="#f9842f" stroke="#505050" stroke-width="0.5"/>
<line x1="87.50" x2="90.44" y1="198.3" y2="198.3" stroke="#505050" stroke-width="0.6"/>
<circle cx="88.97" cy="143.6" r="0.9" fill="#2a2a2a"/>
<circle cx="88.97" cy="147.3" r="0.9" fill="#2a2a2a"/>
<circle cx="88.97" cy="157.6" r="0.9" fill="#2a2a2a"/>
<circle cx="88.97" cy="167.9" r="0.9" fill="#2a2a2a"/>
<circle cx="88.97" cy="172.2" r="0.9" fill="#2a2a2a"/>
<line x1="92.01" x2="92.01" y1="183.7" y2="198.3" stroke="#959595" stroke-width="1.2"/>
<line x1="92.01" x2="92.01" y1="204.6" y2="208" stroke="#959595" stroke-width="1.2"/>
<line x1="91.25" x2="92.76" y1="183.7" y2="183.7" stroke="#959595" stroke-width="1.2"/>
<line x1="91.25" x2="92.76" y1="208" y2="208" stroke="#959595" stroke-width="1.2"/>
<rect x="90.54" y="198.3" width="2.94" height="6.30" fill="#f45430" stroke="#505050" stroke-width="0.5"/>
<line x1="90.54" x2="93.47" y1="200.9" y2="200.9" stroke="#505050" stroke-width="0.6"/>
<circle cx="92.01" cy="184.7" r="0.9" fill="#2a2a2a"/>
<circle cx="92.01" cy="187.5" r="0.9" fill="#2a2a2a"/>
<circle cx="92.01" cy="189.3" r="0.9" fill="#2a2a2a"/>
<line x1="99.59" x2="99.59" y1="196.8" y2="202.4" stroke="#959595" stroke-width="1.2"/>
<line x1="99.59" x2="99.59" y1="207.1" y2="208.9" stroke="#959595" stroke-width="1.2"/>
<line x1="98.84" x2="100.35" y1="196.8" y2="196.8" stroke="#959595" stroke-width="1.2"/>
<line x1="98.84" x2="100.35" y1="208.9" y2="208.9" stroke="#959595" stroke-width="1.2"/>
<rect x="98.13" y="202.4" width="2.94" height="4.70" fill="#0b2f86" stroke="#505050" stroke-width="0.5"/>
<line x1="98.13" x2="101.06" y1="204.6" y2="204.6" stroke="#505050" stroke-width="0.6"/>
<circle cx="99.59" cy="178.1" r="0.9" fill="#2a2a2a"/>
<circle cx="99.59" cy="194.6" r="0.9" fill="#2a2a2a"/>
<line x1="102.63" x2="102.63" y1="198.3" y2="204.3" stroke="#959595" stroke-width="1.2"/>
<line x1="102.63" x2="102.63" y1="207.1" y2="208.9" stroke="#959595" stroke-width="1.2"/>
<line x1="101.87" x2="103.39" y1="198.3" y2="198.3" stroke="#959595" stroke-width="1.2"/>
<line x1="101.87" x2="103.39" y1="208.9" y2="208.9" stroke="#959595" stroke-width="1.2"/>
<rect x="101.16" y="204.3" width="2.94" height="2.80" fill="#66d9ea" stroke="#505050" stroke-width="0.5"/>
<line x1="101.16" x2="104.10" y1="205.8" y2="205.8" stroke="#505050" stroke-width="0.6"/>
<line x1="105.67" x2="105.67" y1="189.7" y2="198.3" stroke="#959595" stroke-width="1.2"/>
<line x1="105.67" x2="105.67" y1="205.8" y2="208.4" stroke="#959595" stroke-width="1.2"/>
<line x1="104.91" x2="106.42" y1="189.7" y2="189.7" stroke="#959595" stroke-width="1.2"/>
<line x1="104.91" x2="106.42" y1="208.4" y2="208.4" stroke="#959595" stroke-width="1.2"/>
<rect x="104.20" y="198.3" width="2.94" height="7.50" fill="#3cba5a" stroke="#505050" stroke-width="0.5"/>
<line x1="104.20" x2="107.13" y1="202" y2="202" stroke="#505050" stroke-width="0.6"/>
<circle cx="105.67" cy="153.9" r="0.9" fill="#2a2a2a"/>
<circle cx="105.67" cy="172.2" r="0.9" fill="#2a2a2a"/>
<circle cx="105.67" cy="180" r="0.9" fill="#2a2a2a"/>
<line x1="108.70" x2="108.70" y1="190.3" y2="198.3" stroke="#959595" stroke-width="1.2"/>
<line x1="108.70" x2="108.70" y1="206.1" y2="208.4" stroke="#959595" stroke-width="1.2"/>
<line x1="107.94" x2="109.46" y1="190.3" y2="190.3" stroke="#959595" stroke-width="1.2"/>
<line x1="107.94" x2="109.46" y1="208.4" y2="208.4" stroke="#959595" stroke-width="1.2"/>
<rect x="107.23" y="198.3" width="2.94" height="7.80" fill="#fdb83f" stroke="#505050" stroke-width="0.5"/>
<line x1="107.23" x2="110.17" y1="201.5" y2="201.5" stroke="#505050" stroke-width="0.6"/>
<circle cx="108.70" cy="171.6" r="0.9" fill="#2a2a2a"/>
<line x1="111.74" x2="111.74" y1="193.4" y2="198.7" stroke="#959595" stroke-width="1.2"/>
<line x1="111.74" x2="111.74" y1="205.8" y2="208.4" stroke="#959595" stroke-width="1.2"/>
<line x1="110.98" x2="112.50" y1="193.4" y2="193.4" stroke="#959595" stroke-width="1.2"/>
<line x1="110.98" x2="112.50" y1="208.4" y2="208.4" stroke="#959595" stroke-width="1.2"/>
<rect x="110.27" y="198.7" width="2.94" height="7.10" fill="#f9842f" stroke="#505050" stroke-width="0.5"/>
<line x1="110.27" x2="113.20" y1="202.4" y2="202.4" stroke="#505050" stroke-width="0.6"/>
<circle cx="111.74" cy="162.3" r="0.9" fill="#2a2a2a"/>
<circle cx="111.74" cy="179.6" r="0.9" fill="#2a2a2a"/>
<circle cx="111.74" cy="181.9" r="0.9" fill="#2a2a2a"/>
<circle cx="111.74" cy="188.4" r="0.9" fill="#2a2a2a"/>
<line x1="114.77" x2="114.77" y1="191.6" y2="200.2" stroke="#959595" stroke-width="1.2"/>
<line x1="114.77" x2="114.77" y1="205.8" y2="208.4" stroke="#959595" stroke-width="1.2"/>
<line x1="114.01" x2="115.53" y1="191.6" y2="191.6" stroke="#959595" stroke-width="1.2"/>
<line x1="114.01" x2="115.53" y1="208.4" y2="208.4" stroke="#959595" stroke-width="1.2"/>
<rect x="113.30" y="200.2" width="2.94" height="5.60" fill="#f45430" stroke="#505050" stroke-width="0.5"/>
<line x1="113.30" x2="116.24" y1="202.8" y2="202.8" stroke="#505050" stroke-width="0.6"/>
<circle cx="114.77" cy="185.6" r="0.9" fill="#2a2a2a"/>
<circle cx="114.77" cy="192.1" r="0.9" fill="#2a2a2a"/>
<circle cx="114.77" cy="194" r="0.9" fill="#2a2a2a"/>
<circle cx="114.77" cy="195.9" r="0.9" fill="#2a2a2a"/>
<line x1="122.36" x2="122.36" y1="200.2" y2="203.3" stroke="#959595" stroke-width="1.2"/>
<line x1="122.36" x2="122.36" y1="207.1" y2="208.9" stroke="#959595" stroke-width="1.2"/>
<line x1="121.60" x2="123.12" y1="200.2" y2="200.2" stroke="#959595" stroke-width="1.2"/>
<line x1="121.60" x2="123.12" y1="208.9" y2="208.9" stroke="#959595" stroke-width="1.2"/>
<rect x="120.89" y="203.3" width="2.94" height="3.80" fill="#0b2f86" stroke="#505050" stroke-width="0.5"/>
<line x1="120.89" x2="123.83" y1="205.2" y2="205.2" stroke="#505050" stroke-width="0.6"/>
<circle cx="122.36" cy="190.3" r="0.9" fill="#2a2a2a"/>
<line x1="125.40" x2="125.40" y1="193.1" y2="202" stroke="#959595" stroke-width="1.2"/>
<line x1="125.40" x2="125.40" y1="207.1" y2="208.9" stroke="#959595" stroke-width="1.2"/>
<line x1="124.64" x2="126.16" y1="193.1" y2="193.1" stroke="#959595" stroke-width="1.2"/>
<line x1="124.64" x2="126.16" y1="208.9" y2="208.9" stroke="#959595" stroke-width="1.2"/>
<rect x="123.93" y="202" width="2.94" height="5.10" fill="#66d9ea" stroke="#505050" stroke-width="0.5"/>
<line x1="123.93" x2="126.86" y1="204.6" y2="204.6" stroke="#505050" stroke-width="0.6"/>
<circle cx="125.40" cy="180" r="0.9" fill="#2a2a2a"/>
<circle cx="125.40" cy="185.6" r="0.9" fill="#2a2a2a"/>
<line x1="128.43" x2="128.43" y1="195.9" y2="203.3" stroke="#959595" stroke-width="1.2"/>
<line x1="128.43" x2="128.43" y1="206.5" y2="208.9" stroke="#959595" stroke-width="1.2"/>
<line x1="127.67" x2="129.19" y1="195.9" y2="195.9" stroke="#959595" stroke-width="1.2"/>
<line x1="127.67" x2="129.19" y1="208.9" y2="208.9" stroke="#959595" stroke-width="1.2"/>
<rect x="126.96" y="203.3" width="2.94" height="3.20" fill="#3cba5a" stroke="#505050" stroke-width="0.5"/>
<line x1="126.96" x2="129.90" y1="204.6" y2="204.6" stroke="#505050" stroke-width="0.6"/>
<circle cx="128.43" cy="187.5" r="0.9" fill="#2a2a2a"/>
<line x1="131.47" x2="131.47" y1="195.9" y2="203.3" stroke="#959595" stroke-width="1.2"/>
<line x1="131.47" x2="131.47" y1="206.5" y2="208.9" stroke="#959595" stroke-width="1.2"/>
<line x1="130.71" x2="132.23" y1="195.9" y2="195.9" stroke="#959595" stroke-width="1.2"/>
<line x1="130.71" x2="132.23" y1="208.9" y2="208.9" stroke="#959595" stroke-width="1.2"/>
<rect x="130.00" y="203.3" width="2.94" height="3.20" fill="#fdb83f" stroke="#505050" stroke-width="0.5"/>
<line x1="130.00" x2="132.94" y1="204.6" y2="204.6" stroke="#505050" stroke-width="0.6"/>
<line x1="134.50" x2="134.50" y1="193.1" y2="201.5" stroke="#959595" stroke-width="1.2"/>
<line x1="134.50" x2="134.50" y1="205.8" y2="208.4" stroke="#959595" stroke-width="1.2"/>
<line x1="133.74" x2="135.26" y1="193.1" y2="193.1" stroke="#959595" stroke-width="1.2"/>
<line x1="133.74" x2="135.26" y1="208.4" y2="208.4" stroke="#959595" stroke-width="1.2"/>
<rect x="133.04" y="201.5" width="2.94" height="4.30" fill="#f9842f" stroke="#505050" stroke-width="0.5"/>
<line x1="133.04" x2="135.97" y1="203.3" y2="203.3" stroke="#505050" stroke-width="0.6"/>
<circle cx="134.50" cy="192.1" r="0.9" fill="#2a2a2a"/>
<circle cx="134.50" cy="194.9" r="0.9" fill="#2a2a2a"/>
<circle cx="134.50" cy="196.8" r="0.9" fill="#2a2a2a"/>
<line x1="137.54" x2="137.54" y1="195.9" y2="201.5" stroke="#959595" stroke-width="1.2"/>
<line x1="137.54" x2="137.54" y1="206.5" y2="208.9" stroke="#959595" stroke-width="1.2"/>
<line x1="136.78" x2="138.30" y1="195.9" y2="195.9" stroke="#959595" stroke-width="1.2"/>
<line x1="136.78" x2="138.30" y1="208.9" y2="208.9" stroke="#959595" stroke-width="1.2"/>
<rect x="136.07" y="201.5" width="2.94" height="5.00" fill="#f45430" stroke="#505050" stroke-width="0.5"/>
<line x1="136.07" x2="139.01" y1="203.9" y2="203.9" stroke="#505050" stroke-width="0.6"/>
<circle cx="137.54" cy="178.5" r="0.9" fill="#2a2a2a"/>
<circle cx="137.54" cy="184.7" r="0.9" fill="#2a2a2a"/>
<circle cx="137.54" cy="189.3" r="0.9" fill="#2a2a2a"/>
<line x1="145.13" x2="145.13" y1="199.6" y2="205.2" stroke="#959595" stroke-width="1.2"/>
<line x1="145.13" x2="145.13" y1="207.6" y2="208.9" stroke="#959595" stroke-width="1.2"/>
<line x1="144.37" x2="145.89" y1="199.6" y2="199.6" stroke="#959595" stroke-width="1.2"/>
<line x1="144.37" x2="145.89" y1="208.9" y2="208.9" stroke="#959595" stroke-width="1.2"/>
<rect x="143.66" y="205.2" width="2.94" height="2.40" fill="#0b2f86" stroke="#505050" stroke-width="0.5"/>
<line x1="143.66" x2="146.60" y1="206.1" y2="206.1" stroke="#505050" stroke-width="0.6"/>
<circle cx="145.13" cy="194.6" r="0.9" fill="#2a2a2a"/>
<line x1="148.16" x2="148.16" y1="198.7" y2="204.6" stroke="#959595" stroke-width="1.2"/>
<line x1="148.16" x2="148.16" y1="207.6" y2="208.9" stroke="#959595" stroke-width="1.2"/>
<line x1="147.40" x2="148.92" y1="198.7" y2="198.7" stroke="#959595" stroke-width="1.2"/>
<line x1="147.40" x2="148.92" y1="208.9" y2="208.9" stroke="#959595" stroke-width="1.2"/>
<rect x="146.70" y="204.6" width="2.94" height="3.00" fill="#66d9ea" stroke="#505050" stroke-width="0.5"/>
<line x1="146.70" x2="149.63" y1="206.1" y2="206.1" stroke="#505050" stroke-width="0.6"/>
<line x1="151.20" x2="151.20" y1="196.8" y2="203.3" stroke="#959595" stroke-width="1.2"/>
<line x1="151.20" x2="151.20" y1="207.1" y2="208.9" stroke="#959595" stroke-width="1.2"/>
<line x1="150.44" x2="151.96" y1="196.8" y2="196.8" stroke="#959595" stroke-width="1.2"/>
<line x1="150.44" x2="151.96" y1="208.9" y2="208.9" stroke="#959595" stroke-width="1.2"/>
<rect x="149.73" y="203.3" width="2.94" height="3.80" fill="#3cba5a" stroke="#505050" stroke-width="0.5"/>
<line x1="149.73" x2="152.67" y1="204.6" y2="204.6" stroke="#505050" stroke-width="0.6"/>
<circle cx="151.20" cy="194" r="0.9" fill="#2a2a2a"/>
<circle cx="151.20" cy="195.9" r="0.9" fill="#2a2a2a"/>
<line x1="154.23" x2="154.23" y1="194.6" y2="202.8" stroke="#959595" stroke-width="1.2"/>
<line x1="154.23" x2="154.23" y1="206.5" y2="208.9" stroke="#959595" stroke-width="1.2"/>
<line x1="153.48" x2="154.99" y1="194.6" y2="194.6" stroke="#959595" stroke-width="1.2"/>
<line x1="153.48" x2="154.99" y1="208.9" y2="208.9" stroke="#959595" stroke-width="1.2"/>
<rect x="152.77" y="202.8" width="2.94" height="3.70" fill="#fdb83f" stroke="#505050" stroke-width="0.5"/>
<line x1="152.77" x2="155.70" y1="204.6" y2="204.6" stroke="#505050" stroke-width="0.6"/>
<line x1="157.27" x2="157.27" y1="193.4" y2="202" stroke="#959595" stroke-width="1.2"/>
<line x1="157.27" x2="157.27" y1="206.1" y2="208.4" stroke="#959595" stroke-width="1.2"/>
<line x1="156.51" x2="158.03" y1="193.4" y2="193.4" stroke="#959595" stroke-width="1.2"/>
<line x1="156.51" x2="158.03" y1="208.4" y2="208.4" stroke="#959595" stroke-width="1.2"/>
<rect x="155.80" y="202" width="2.94" height="4.10" fill="#f9842f" stroke="#505050" stroke-width="0.5"/>
<line x1="155.80" x2="158.74" y1="203.9" y2="203.9" stroke="#505050" stroke-width="0.6"/>
<line x1="160.31" x2="160.31" y1="192.1" y2="200.9" stroke="#959595" stroke-width="1.2"/>
<line x1="160.31" x2="160.31" y1="206.1" y2="208.4" stroke="#959595" stroke-width="1.2"/>
<line x1="159.55" x2="161.06" y1="192.1" y2="192.1" stroke="#959595" stroke-width="1.2"/>
<line x1="159.55" x2="161.06" y1="208.4" y2="208.4" stroke="#959595" stroke-width="1.2"/>
<rect x="158.84" y="200.9" width="2.94" height="5.20" fill="#f45430" stroke="#505050" stroke-width="0.5"/>
<line x1="158.84" x2="161.77" y1="203.3" y2="203.3" stroke="#505050" stroke-width="0.6"/>
<circle cx="160.31" cy="169.2" r="0.9" fill="#2a2a2a"/>
<line x1="167.89" x2="167.89" y1="202" y2="204.6" stroke="#959595" stroke-width="1.2"/>
<line x1="167.89" x2="167.89" y1="208.4" y2="209.5" stroke="#959595" stroke-width="1.2"/>
<line x1="167.14" x2="168.65" y1="202" y2="202" stroke="#959595" stroke-width="1.2"/>
<line x1="167.14" x2="168.65" y1="209.5" y2="209.5" stroke="#959595" stroke-width="1.2"/>
<rect x="166.43" y="204.6" width="2.94" height="3.80" fill="#0b2f86" stroke="#505050" stroke-width="0.5"/>
<line x1="166.43" x2="169.36" y1="206.1" y2="206.1" stroke="#505050" stroke-width="0.6"/>
<line x1="173.97" x2="173.97" y1="198.7" y2="203.9" stroke="#959595" stroke-width="1.2"/>
<line x1="173.97" x2="173.97" y1="207.6" y2="208.9" stroke="#959595" stroke-width="1.2"/>
<line x1="173.21" x2="174.72" y1="198.7" y2="198.7" stroke="#959595" stroke-width="1.2"/>
<line x1="173.21" x2="174.72" y1="208.9" y2="208.9" stroke="#959595" stroke-width="1.2"/>
<rect x="172.50" y="203.9" width="2.94" height="3.70" fill="#3cba5a" stroke="#505050" stroke-width="0.5"/>
<line x1="172.50" x2="175.43" y1="205.8" y2="205.8" stroke="#505050" stroke-width="0.6"/>
<circle cx="173.97" cy="193.4" r="0.9" fill="#2a2a2a"/>
<line x1="177.00" x2="177.00" y1="195.9" y2="202.4" stroke="#959595" stroke-width="1.2"/>
<line x1="177.00" x2="177.00" y1="206.1" y2="208.9" stroke="#959595" stroke-width="1.2"/>
<line x1="176.24" x2="177.76" y1="195.9" y2="195.9" stroke="#959595" stroke-width="1.2"/>
<line x1="176.24" x2="177.76" y1="208.9" y2="208.9" stroke="#959595" stroke-width="1.2"/>
<rect x="175.53" y="202.4" width="2.94" height="3.70" fill="#fdb83f" stroke="#505050" stroke-width="0.5"/>
<line x1="175.53" x2="178.47" y1="203.9" y2="203.9" stroke="#505050" stroke-width="0.6"/>
<circle cx="177.00" cy="192.1" r="0.9" fill="#2a2a2a"/>
<line x1="180.04" x2="180.04" y1="199.6" y2="203.3" stroke="#959595" stroke-width="1.2"/>
<line x1="180.04" x2="180.04" y1="207.1" y2="208.9" stroke="#959595" stroke-width="1.2"/>
<line x1="179.28" x2="180.80" y1="199.6" y2="199.6" stroke="#959595" stroke-width="1.2"/>
<line x1="179.28" x2="180.80" y1="208.9" y2="208.9" stroke="#959595" stroke-width="1.2"/>
<rect x="178.57" y="203.3" width="2.94" height="3.80" fill="#f9842f" stroke="#505050" stroke-width="0.5"/>
<line x1="178.57" x2="181.50" y1="204.6" y2="204.6" stroke="#505050" stroke-width="0.6"/>
<circle cx="180.04" cy="178.1" r="0.9" fill="#2a2a2a"/>
<line x1="183.07" x2="183.07" y1="197.7" y2="203.9" stroke="#959595" stroke-width="1.2"/>
<line x1="183.07" x2="183.07" y1="207.1" y2="208.9" stroke="#959595" stroke-width="1.2"/>
<line x1="182.31" x2="183.83" y1="197.7" y2="197.7" stroke="#959595" stroke-width="1.2"/>
<line x1="182.31" x2="183.83" y1="208.9" y2="208.9" stroke="#959595" stroke-width="1.2"/>
<rect x="181.60" y="203.9" width="2.94" height="3.20" fill="#f45430" stroke="#505050" stroke-width="0.5"/>
<line x1="181.60" x2="184.54" y1="205.8" y2="205.8" stroke="#505050" stroke-width="0.6"/>
<circle cx="183.07" cy="169.7" r="0.9" fill="#2a2a2a"/>
<circle cx="183.07" cy="176.6" r="0.9" fill="#2a2a2a"/>
<circle cx="183.07" cy="180.9" r="0.9" fill="#2a2a2a"/>
<circle cx="183.07" cy="194.9" r="0.9" fill="#2a2a2a"/>
<line x1="190.66" x2="190.66" y1="199.6" y2="204.6" stroke="#959595" stroke-width="1.2"/>
<line x1="190.66" x2="190.66" y1="208.4" y2="209.5" stroke="#959595" stroke-width="1.2"/>
<line x1="189.90" x2="191.42" y1="199.6" y2="199.6" stroke="#959595" stroke-width="1.2"/>
<line x1="189.90" x2="191.42" y1="209.5" y2="209.5" stroke="#959595" stroke-width="1.2"/>
<rect x="189.19" y="204.6" width="2.94" height="3.80" fill="#0b2f86" stroke="#505050" stroke-width="0.5"/>
<line x1="189.19" x2="192.13" y1="206.5" y2="206.5" stroke="#505050" stroke-width="0.6"/>
<circle cx="190.66" cy="193.1" r="0.9" fill="#2a2a2a"/>
<line x1="196.73" x2="196.73" y1="200.5" y2="205.2" stroke="#959595" stroke-width="1.2"/>
<line x1="196.73" x2="196.73" y1="207.6" y2="208.9" stroke="#959595" stroke-width="1.2"/>
<line x1="195.97" x2="197.49" y1="200.5" y2="200.5" stroke="#959595" stroke-width="1.2"/>
<line x1="195.97" x2="197.49" y1="208.9" y2="208.9" stroke="#959595" stroke-width="1.2"/>
<rect x="195.26" y="205.2" width="2.94" height="2.40" fill="#3cba5a" stroke="#505050" stroke-width="0.5"/>
<line x1="195.26" x2="198.20" y1="206.1" y2="206.1" stroke="#505050" stroke-width="0.6"/>
<circle cx="196.73" cy="191.2" r="0.9" fill="#2a2a2a"/>
<line x1="199.77" x2="199.77" y1="192.7" y2="202.4" stroke="#959595" stroke-width="1.2"/>
<line x1="199.77" x2="199.77" y1="207.1" y2="208.9" stroke="#959595" stroke-width="1.2"/>
<line x1="199.01" x2="200.53" y1="192.7" y2="192.7" stroke="#959595" stroke-width="1.2"/>
<line x1="199.01" x2="200.53" y1="208.9" y2="208.9" stroke="#959595" stroke-width="1.2"/>
<rect x="198.30" y="202.4" width="2.94" height="4.70" fill="#fdb83f" stroke="#505050" stroke-width="0.5"/>
<line x1="198.30" x2="201.24" y1="204.3" y2="204.3" stroke="#505050" stroke-width="0.6"/>
<circle cx="199.77" cy="178.1" r="0.9" fill="#2a2a2a"/>
<circle cx="199.77" cy="189" r="0.9" fill="#2a2a2a"/>
<line x1="202.80" x2="202.80" y1="196.8" y2="203.9" stroke="#959595" stroke-width="1.2"/>
<line x1="202.80" x2="202.80" y1="207.6" y2="208.9" stroke="#959595" stroke-width="1.2"/>
<line x1="202.04" x2="203.56" y1="196.8" y2="196.8" stroke="#959595" stroke-width="1.2"/>
<line x1="202.04" x2="203.56" y1="208.9" y2="208.9" stroke="#959595" stroke-width="1.2"/>
<rect x="201.34" y="203.9" width="2.94" height="3.70" fill="#f9842f" stroke="#505050" stroke-width="0.5"/>
<line x1="201.34" x2="204.27" y1="205.8" y2="205.8" stroke="#505050" stroke-width="0.6"/>
<circle cx="202.80" cy="188.4" r="0.9" fill="#2a2a2a"/>
<circle cx="202.80" cy="190.3" r="0.9" fill="#2a2a2a"/>
<circle cx="202.80" cy="192.2" r="0.9" fill="#2a2a2a"/>
<circle cx="202.80" cy="194" r="0.9" fill="#2a2a2a"/>
<line x1="205.84" x2="205.84" y1="196.8" y2="202.4" stroke="#959595" stroke-width="1.2"/>
<line x1="205.84" x2="205.84" y1="206.5" y2="208.9" stroke="#959595" stroke-width="1.2"/>
<line x1="205.08" x2="206.60" y1="196.8" y2="196.8" stroke="#959595" stroke-width="1.2"/>
<line x1="205.08" x2="206.60" y1="208.9" y2="208.9" stroke="#959595" stroke-width="1.2"/>
<rect x="204.37" y="202.4" width="2.94" height="4.10" fill="#f45430" stroke="#505050" stroke-width="0.5"/>
<line x1="204.37" x2="207.31" y1="204.6" y2="204.6" stroke="#505050" stroke-width="0.6"/>
<circle cx="205.84" cy="189" r="0.9" fill="#2a2a2a"/>
<line x1="213.43" x2="213.43" y1="194.6" y2="202.4" stroke="#959595" stroke-width="1.2"/>
<line x1="213.43" x2="213.43" y1="206.5" y2="208.9" stroke="#959595" stroke-width="1.2"/>
<line x1="212.67" x2="214.19" y1="194.6" y2="194.6" stroke="#959595" stroke-width="1.2"/>
<line x1="212.67" x2="214.19" y1="208.9" y2="208.9" stroke="#959595" stroke-width="1.2"/>
<rect x="211.96" y="202.4" width="2.94" height="4.10" fill="#0b2f86" stroke="#505050" stroke-width="0.5"/>
<line x1="211.96" x2="214.90" y1="204.6" y2="204.6" stroke="#505050" stroke-width="0.6"/>
<line x1="219.50" x2="219.50" y1="201.5" y2="204.3" stroke="#959595" stroke-width="1.2"/>
<line x1="219.50" x2="219.50" y1="207.1" y2="208.9" stroke="#959595" stroke-width="1.2"/>
<line x1="218.74" x2="220.26" y1="201.5" y2="201.5" stroke="#959595" stroke-width="1.2"/>
<line x1="218.74" x2="220.26" y1="208.9" y2="208.9" stroke="#959595" stroke-width="1.2"/>
<rect x="218.03" y="204.3" width="2.94" height="2.80" fill="#3cba5a" stroke="#505050" stroke-width="0.5"/>
<line x1="218.03" x2="220.97" y1="205.8" y2="205.8" stroke="#505050" stroke-width="0.6"/>
<circle cx="219.50" cy="196.8" r="0.9" fill="#2a2a2a"/>
<circle cx="219.50" cy="199.6" r="0.9" fill="#2a2a2a"/>
<line x1="222.53" x2="222.53" y1="198.7" y2="203.3" stroke="#959595" stroke-width="1.2"/>
<line x1="222.53" x2="222.53" y1="206.5" y2="208.9" stroke="#959595" stroke-width="1.2"/>
<line x1="221.78" x2="223.29" y1="198.7" y2="198.7" stroke="#959595" stroke-width="1.2"/>
<line x1="221.78" x2="223.29" y1="208.9" y2="208.9" stroke="#959595" stroke-width="1.2"/>
<rect x="221.07" y="203.3" width="2.94" height="3.20" fill="#fdb83f" stroke="#505050" stroke-width="0.5"/>
<line x1="221.07" x2="224.00" y1="204.6" y2="204.6" stroke="#505050" stroke-width="0.6"/>
<circle cx="222.53" cy="192.1" r="0.9" fill="#2a2a2a"/>
<circle cx="222.53" cy="194.6" r="0.9" fill="#2a2a2a"/>
<circle cx="222.53" cy="196.8" r="0.9" fill="#2a2a2a"/>
<line x1="225.57" x2="225.57" y1="196.8" y2="199" stroke="#959595" stroke-width="1.2"/>
<line x1="225.57" x2="225.57" y1="203.9" y2="208.4" stroke="#959595" stroke-width="1.2"/>
<line x1="224.81" x2="226.33" y1="196.8" y2="196.8" stroke="#959595" stroke-width="1.2"/>
<line x1="224.81" x2="226.33" y1="208.4" y2="208.4" stroke="#959595" stroke-width="1.2"/>
<rect x="224.10" y="199" width="2.94" height="4.90" fill="#f9842f" stroke="#505050" stroke-width="0.5"/>
<line x1="224.10" x2="227.04" y1="200.5" y2="200.5" stroke="#505050" stroke-width="0.6"/>
<circle cx="225.57" cy="194.6" r="0.9" fill="#2a2a2a"/>
<line x1="228.61" x2="228.61" y1="198.7" y2="203.9" stroke="#959595" stroke-width="1.2"/>
<line x1="228.61" x2="228.61" y1="207.6" y2="209.5" stroke="#959595" stroke-width="1.2"/>
<line x1="227.85" x2="229.36" y1="198.7" y2="198.7" stroke="#959595" stroke-width="1.2"/>
<line x1="227.85" x2="229.36" y1="209.5" y2="209.5" stroke="#959595" stroke-width="1.2"/>
<rect x="227.14" y="203.9" width="2.94" height="3.70" fill="#f45430" stroke="#505050" stroke-width="0.5"/>
<line x1="227.14" x2="230.07" y1="205.8" y2="205.8" stroke="#505050" stroke-width="0.6"/>
<circle cx="228.61" cy="192.7" r="0.9" fill="#2a2a2a"/>
<circle cx="228.61" cy="194.6" r="0.9" fill="#2a2a2a"/>
<rect x="259.4" y="127.4" width="204.90" height="85.70" fill="#e8e9f2"/>
<line x1="259.4" x2="464.3" y1="149.7" y2="149.7" stroke="#f8f8fb" stroke-width="0.9"/>
<text x="254.89999999999998" y="152.29999999999998" font-size="7.45" fill="#262626" text-anchor="end">200</text>
<line x1="259.4" x2="464.3" y1="172.9" y2="172.9" stroke="#f8f8fb" stroke-width="0.9"/>
<text x="254.89999999999998" y="175.5" font-size="7.45" fill="#262626" text-anchor="end">100</text>
<line x1="259.4" x2="464.3" y1="196.3" y2="196.3" stroke="#f8f8fb" stroke-width="0.9"/>
<text x="254.89999999999998" y="198.9" font-size="7.45" fill="#262626" text-anchor="end">0</text>
<text class="b" x="361.85" y="125.35000000000001" font-size="8.1" fill="#262626" text-anchor="middle">Phenols (mg/g<tspan dx="0.6" dy="-5.6" font-size="6.2">−1</tspan><tspan dx="0.2" dy="5.6">)</tspan></text>
<line x1="263.19" x2="263.19" y1="141.7" y2="160.4" stroke="#959595" stroke-width="1.2"/>
<line x1="263.19" x2="263.19" y1="175.9" y2="190.3" stroke="#959595" stroke-width="1.2"/>
<line x1="262.44" x2="263.95" y1="141.7" y2="141.7" stroke="#959595" stroke-width="1.2"/>
<line x1="262.44" x2="263.95" y1="190.3" y2="190.3" stroke="#959595" stroke-width="1.2"/>
<rect x="261.73" y="160.4" width="2.94" height="15.50" fill="#0b2f86" stroke="#505050" stroke-width="0.5"/>
<line x1="261.73" x2="264.66" y1="167.9" y2="167.9" stroke="#505050" stroke-width="0.6"/>
<circle cx="263.19" cy="131.1" r="0.9" fill="#2a2a2a"/>
<line x1="266.23" x2="266.23" y1="143" y2="164.1" stroke="#959595" stroke-width="1.2"/>
<line x1="266.23" x2="266.23" y1="177.2" y2="190.3" stroke="#959595" stroke-width="1.2"/>
<line x1="265.47" x2="266.99" y1="143" y2="143" stroke="#959595" stroke-width="1.2"/>
<line x1="265.47" x2="266.99" y1="190.3" y2="190.3" stroke="#959595" stroke-width="1.2"/>
<rect x="264.76" y="164.1" width="2.94" height="13.10" fill="#66d9ea" stroke="#505050" stroke-width="0.5"/>
<line x1="264.76" x2="267.70" y1="169.7" y2="169.7" stroke="#505050" stroke-width="0.6"/>
<circle cx="266.23" cy="137.1" r="0.9" fill="#2a2a2a"/>
<circle cx="266.23" cy="140.8" r="0.9" fill="#2a2a2a"/>
<circle cx="266.23" cy="142.3" r="0.9" fill="#2a2a2a"/>
<line x1="269.27" x2="269.27" y1="146.4" y2="158.5" stroke="#959595" stroke-width="1.2"/>
<line x1="269.27" x2="269.27" y1="168.4" y2="181.9" stroke="#959595" stroke-width="1.2"/>
<line x1="268.51" x2="270.02" y1="146.4" y2="146.4" stroke="#959595" stroke-width="1.2"/>
<line x1="268.51" x2="270.02" y1="181.9" y2="181.9" stroke="#959595" stroke-width="1.2"/>
<rect x="267.80" y="158.5" width="2.94" height="9.90" fill="#3cba5a" stroke="#505050" stroke-width="0.5"/>
<line x1="267.80" x2="270.73" y1="164.1" y2="164.1" stroke="#505050" stroke-width="0.6"/>
<circle cx="269.27" cy="184.1" r="0.9" fill="#2a2a2a"/>
<line x1="272.30" x2="272.30" y1="141.2" y2="154.2" stroke="#959595" stroke-width="1.2"/>
<line x1="272.30" x2="272.30" y1="167.3" y2="180" stroke="#959595" stroke-width="1.2"/>
<line x1="271.54" x2="273.06" y1="141.2" y2="141.2" stroke="#959595" stroke-width="1.2"/>
<line x1="271.54" x2="273.06" y1="180" y2="180" stroke="#959595" stroke-width="1.2"/>
<rect x="270.83" y="154.2" width="2.94" height="13.10" fill="#fdb83f" stroke="#505050" stroke-width="0.5"/>
<line x1="270.83" x2="273.77" y1="160.4" y2="160.4" stroke="#505050" stroke-width="0.6"/>
<circle cx="272.30" cy="188.4" r="0.9" fill="#2a2a2a"/>
<line x1="275.34" x2="275.34" y1="141.7" y2="157.7" stroke="#959595" stroke-width="1.2"/>
<line x1="275.34" x2="275.34" y1="167.3" y2="183.7" stroke="#959595" stroke-width="1.2"/>
<line x1="274.58" x2="276.10" y1="141.7" y2="141.7" stroke="#959595" stroke-width="1.2"/>
<line x1="274.58" x2="276.10" y1="183.7" y2="183.7" stroke="#959595" stroke-width="1.2"/>
<rect x="273.87" y="157.7" width="2.94" height="9.60" fill="#f9842f" stroke="#505050" stroke-width="0.5"/>
<line x1="273.87" x2="276.80" y1="162.3" y2="162.3" stroke="#505050" stroke-width="0.6"/>
<circle cx="275.34" cy="135.2" r="0.9" fill="#2a2a2a"/>
<line x1="278.37" x2="278.37" y1="144.5" y2="159.8" stroke="#959595" stroke-width="1.2"/>
<line x1="278.37" x2="278.37" y1="169.7" y2="183.4" stroke="#959595" stroke-width="1.2"/>
<line x1="277.61" x2="279.13" y1="144.5" y2="144.5" stroke="#959595" stroke-width="1.2"/>
<line x1="277.61" x2="279.13" y1="183.4" y2="183.4" stroke="#959595" stroke-width="1.2"/>
<rect x="276.90" y="159.8" width="2.94" height="9.90" fill="#f45430" stroke="#505050" stroke-width="0.5"/>
<line x1="276.90" x2="279.84" y1="164.1" y2="164.1" stroke="#505050" stroke-width="0.6"/>
<line x1="285.96" x2="285.96" y1="152" y2="163.2" stroke="#959595" stroke-width="1.2"/>
<line x1="285.96" x2="285.96" y1="173.5" y2="188.4" stroke="#959595" stroke-width="1.2"/>
<line x1="285.20" x2="286.72" y1="152" y2="152" stroke="#959595" stroke-width="1.2"/>
<line x1="285.20" x2="286.72" y1="188.4" y2="188.4" stroke="#959595" stroke-width="1.2"/>
<rect x="284.49" y="163.2" width="2.94" height="10.30" fill="#0b2f86" stroke="#505050" stroke-width="0.5"/>
<line x1="284.49" x2="287.43" y1="168.4" y2="168.4" stroke="#505050" stroke-width="0.6"/>
<circle cx="285.96" cy="143.6" r="0.9" fill="#2a2a2a"/>
<circle cx="285.96" cy="192.1" r="0.9" fill="#2a2a2a"/>
<circle cx="285.96" cy="195.9" r="0.9" fill="#2a2a2a"/>
<line x1="289.00" x2="289.00" y1="149.2" y2="169.7" stroke="#959595" stroke-width="1.2"/>
<line x1="289.00" x2="289.00" y1="180.9" y2="192.1" stroke="#959595" stroke-width="1.2"/>
<line x1="288.24" x2="289.76" y1="149.2" y2="149.2" stroke="#959595" stroke-width="1.2"/>
<line x1="288.24" x2="289.76" y1="192.1" y2="192.1" stroke="#959595" stroke-width="1.2"/>
<rect x="287.53" y="169.7" width="2.94" height="11.20" fill="#66d9ea" stroke="#505050" stroke-width="0.5"/>
<line x1="287.53" x2="290.46" y1="174.8" y2="174.8" stroke="#505050" stroke-width="0.6"/>
<line x1="292.03" x2="292.03" y1="142.7" y2="159.5" stroke="#959595" stroke-width="1.2"/>
<line x1="292.03" x2="292.03" y1="172.9" y2="188.4" stroke="#959595" stroke-width="1.2"/>
<line x1="291.27" x2="292.79" y1="142.7" y2="142.7" stroke="#959595" stroke-width="1.2"/>
<line x1="291.27" x2="292.79" y1="188.4" y2="188.4" stroke="#959595" stroke-width="1.2"/>
<rect x="290.56" y="159.5" width="2.94" height="13.40" fill="#3cba5a" stroke="#505050" stroke-width="0.5"/>
<line x1="290.56" x2="293.50" y1="166" y2="166" stroke="#505050" stroke-width="0.6"/>
<line x1="295.07" x2="295.07" y1="146" y2="159.5" stroke="#959595" stroke-width="1.2"/>
<line x1="295.07" x2="295.07" y1="169.7" y2="186.5" stroke="#959595" stroke-width="1.2"/>
<line x1="294.31" x2="295.83" y1="146" y2="146" stroke="#959595" stroke-width="1.2"/>
<line x1="294.31" x2="295.83" y1="186.5" y2="186.5" stroke="#959595" stroke-width="1.2"/>
<rect x="293.60" y="159.5" width="2.94" height="10.20" fill="#fdb83f" stroke="#505050" stroke-width="0.5"/>
<line x1="293.60" x2="296.54" y1="164.1" y2="164.1" stroke="#505050" stroke-width="0.6"/>
<line x1="298.10" x2="298.10" y1="151.1" y2="163.2" stroke="#959595" stroke-width="1.2"/>
<line x1="298.10" x2="298.10" y1="169.7" y2="178.1" stroke="#959595" stroke-width="1.2"/>
<line x1="297.34" x2="298.86" y1="151.1" y2="151.1" stroke="#959595" stroke-width="1.2"/>
<line x1="297.34" x2="298.86" y1="178.1" y2="178.1" stroke="#959595" stroke-width="1.2"/>
<rect x="296.64" y="163.2" width="2.94" height="6.50" fill="#f9842f" stroke="#505050" stroke-width="0.5"/>
<line x1="296.64" x2="299.57" y1="166" y2="166" stroke="#505050" stroke-width="0.6"/>
<circle cx="298.10" cy="141.7" r="0.9" fill="#2a2a2a"/>
<circle cx="298.10" cy="150.1" r="0.9" fill="#2a2a2a"/>
<circle cx="298.10" cy="152" r="0.9" fill="#2a2a2a"/>
<circle cx="298.10" cy="180" r="0.9" fill="#2a2a2a"/>
<circle cx="298.10" cy="181.9" r="0.9" fill="#2a2a2a"/>
<circle cx="298.10" cy="193.4" r="0.9" fill="#2a2a2a"/>
<circle cx="298.10" cy="200.5" r="0.9" fill="#2a2a2a"/>
<line x1="301.14" x2="301.14" y1="136.1" y2="157.2" stroke="#959595" stroke-width="1.2"/>
<line x1="301.14" x2="301.14" y1="168.8" y2="185.6" stroke="#959595" stroke-width="1.2"/>
<line x1="300.38" x2="301.90" y1="136.1" y2="136.1" stroke="#959595" stroke-width="1.2"/>
<line x1="300.38" x2="301.90" y1="185.6" y2="185.6" stroke="#959595" stroke-width="1.2"/>
<rect x="299.67" y="157.2" width="2.94" height="11.60" fill="#f45430" stroke="#505050" stroke-width="0.5"/>
<line x1="299.67" x2="302.61" y1="163.2" y2="163.2" stroke="#505050" stroke-width="0.6"/>
<circle cx="301.14" cy="133" r="0.9" fill="#2a2a2a"/>
<circle cx="301.14" cy="192.1" r="0.9" fill="#2a2a2a"/>
<circle cx="301.14" cy="195.5" r="0.9" fill="#2a2a2a"/>
<line x1="308.73" x2="308.73" y1="146.4" y2="158.5" stroke="#959595" stroke-width="1.2"/>
<line x1="308.73" x2="308.73" y1="178.5" y2="189.7" stroke="#959595" stroke-width="1.2"/>
<line x1="307.97" x2="309.49" y1="146.4" y2="146.4" stroke="#959595" stroke-width="1.2"/>
<line x1="307.97" x2="309.49" y1="189.7" y2="189.7" stroke="#959595" stroke-width="1.2"/>
<rect x="307.26" y="158.5" width="2.94" height="20.00" fill="#0b2f86" stroke="#505050" stroke-width="0.5"/>
<line x1="307.26" x2="310.20" y1="168.8" y2="168.8" stroke="#505050" stroke-width="0.6"/>
<line x1="311.76" x2="311.76" y1="152.9" y2="168.8" stroke="#959595" stroke-width="1.2"/>
<line x1="311.76" x2="311.76" y1="181.9" y2="192.1" stroke="#959595" stroke-width="1.2"/>
<line x1="311.00" x2="312.52" y1="152.9" y2="152.9" stroke="#959595" stroke-width="1.2"/>
<line x1="311.00" x2="312.52" y1="192.1" y2="192.1" stroke="#959595" stroke-width="1.2"/>
<rect x="310.30" y="168.8" width="2.94" height="13.10" fill="#66d9ea" stroke="#505050" stroke-width="0.5"/>
<line x1="310.30" x2="313.23" y1="172.2" y2="172.2" stroke="#505050" stroke-width="0.6"/>
<circle cx="311.76" cy="147.3" r="0.9" fill="#2a2a2a"/>
<line x1="314.80" x2="314.80" y1="144.5" y2="159.1" stroke="#959595" stroke-width="1.2"/>
<line x1="314.80" x2="314.80" y1="177.2" y2="193.1" stroke="#959595" stroke-width="1.2"/>
<line x1="314.04" x2="315.56" y1="144.5" y2="144.5" stroke="#959595" stroke-width="1.2"/>
<line x1="314.04" x2="315.56" y1="193.1" y2="193.1" stroke="#959595" stroke-width="1.2"/>
<rect x="313.33" y="159.1" width="2.94" height="18.10" fill="#3cba5a" stroke="#505050" stroke-width="0.5"/>
<line x1="313.33" x2="316.27" y1="170.7" y2="170.7" stroke="#505050" stroke-width="0.6"/>
<line x1="317.83" x2="317.83" y1="136.1" y2="156.1" stroke="#959595" stroke-width="1.2"/>
<line x1="317.83" x2="317.83" y1="170.3" y2="185.6" stroke="#959595" stroke-width="1.2"/>
<line x1="317.08" x2="318.59" y1="136.1" y2="136.1" stroke="#959595" stroke-width="1.2"/>
<line x1="317.08" x2="318.59" y1="185.6" y2="185.6" stroke="#959595" stroke-width="1.2"/>
<rect x="316.37" y="156.1" width="2.94" height="14.20" fill="#fdb83f" stroke="#505050" stroke-width="0.5"/>
<line x1="316.37" x2="319.30" y1="165.1" y2="165.1" stroke="#505050" stroke-width="0.6"/>
<circle cx="317.83" cy="198.7" r="0.9" fill="#2a2a2a"/>
<line x1="320.87" x2="320.87" y1="146.4" y2="162.3" stroke="#959595" stroke-width="1.2"/>
<line x1="320.87" x2="320.87" y1="174" y2="185.6" stroke="#959595" stroke-width="1.2"/>
<line x1="320.11" x2="321.63" y1="146.4" y2="146.4" stroke="#959595" stroke-width="1.2"/>
<line x1="320.11" x2="321.63" y1="185.6" y2="185.6" stroke="#959595" stroke-width="1.2"/>
<rect x="319.40" y="162.3" width="2.94" height="11.70" fill="#f9842f" stroke="#505050" stroke-width="0.5"/>
<line x1="319.40" x2="322.34" y1="167.9" y2="167.9" stroke="#505050" stroke-width="0.6"/>
<line x1="323.91" x2="323.91" y1="141.2" y2="159.8" stroke="#959595" stroke-width="1.2"/>
<line x1="323.91" x2="323.91" y1="171.6" y2="183.4" stroke="#959595" stroke-width="1.2"/>
<line x1="323.15" x2="324.66" y1="141.2" y2="141.2" stroke="#959595" stroke-width="1.2"/>
<line x1="323.15" x2="324.66" y1="183.4" y2="183.4" stroke="#959595" stroke-width="1.2"/>
<rect x="322.44" y="159.8" width="2.94" height="11.80" fill="#f45430" stroke="#505050" stroke-width="0.5"/>
<line x1="322.44" x2="325.37" y1="166" y2="166" stroke="#505050" stroke-width="0.6"/>
<circle cx="323.91" cy="139.9" r="0.9" fill="#2a2a2a"/>
<line x1="331.49" x2="331.49" y1="142.7" y2="166" stroke="#959595" stroke-width="1.2"/>
<line x1="331.49" x2="331.49" y1="182.8" y2="197.7" stroke="#959595" stroke-width="1.2"/>
<line x1="330.74" x2="332.25" y1="142.7" y2="142.7" stroke="#959595" stroke-width="1.2"/>
<line x1="330.74" x2="332.25" y1="197.7" y2="197.7" stroke="#959595" stroke-width="1.2"/>
<rect x="330.03" y="166" width="2.94" height="16.80" fill="#0b2f86" stroke="#505050" stroke-width="0.5"/>
<line x1="330.03" x2="332.96" y1="174.4" y2="174.4" stroke="#505050" stroke-width="0.6"/>
<line x1="334.53" x2="334.53" y1="153.9" y2="167.9" stroke="#959595" stroke-width="1.2"/>
<line x1="334.53" x2="334.53" y1="183.4" y2="204.3" stroke="#959595" stroke-width="1.2"/>
<line x1="333.77" x2="335.29" y1="153.9" y2="153.9" stroke="#959595" stroke-width="1.2"/>
<line x1="333.77" x2="335.29" y1="204.3" y2="204.3" stroke="#959595" stroke-width="1.2"/>
<rect x="333.06" y="167.9" width="2.94" height="15.50" fill="#66d9ea" stroke="#505050" stroke-width="0.5"/>
<line x1="333.06" x2="336.00" y1="178.1" y2="178.1" stroke="#505050" stroke-width="0.6"/>
<line x1="337.57" x2="337.57" y1="144.5" y2="160.4" stroke="#959595" stroke-width="1.2"/>
<line x1="337.57" x2="337.57" y1="180" y2="194.9" stroke="#959595" stroke-width="1.2"/>
<line x1="336.81" x2="338.32" y1="144.5" y2="144.5" stroke="#959595" stroke-width="1.2"/>
<line x1="336.81" x2="338.32" y1="194.9" y2="194.9" stroke="#959595" stroke-width="1.2"/>
<rect x="336.10" y="160.4" width="2.94" height="19.60" fill="#3cba5a" stroke="#505050" stroke-width="0.5"/>
<line x1="336.10" x2="339.03" y1="170.7" y2="170.7" stroke="#505050" stroke-width="0.6"/>
<line x1="340.60" x2="340.60" y1="141.7" y2="154.8" stroke="#959595" stroke-width="1.2"/>
<line x1="340.60" x2="340.60" y1="168.8" y2="184.7" stroke="#959595" stroke-width="1.2"/>
<line x1="339.84" x2="341.36" y1="141.7" y2="141.7" stroke="#959595" stroke-width="1.2"/>
<line x1="339.84" x2="341.36" y1="184.7" y2="184.7" stroke="#959595" stroke-width="1.2"/>
<rect x="339.13" y="154.8" width="2.94" height="14.00" fill="#fdb83f" stroke="#505050" stroke-width="0.5"/>
<line x1="339.13" x2="342.07" y1="161" y2="161" stroke="#505050" stroke-width="0.6"/>
<line x1="343.64" x2="343.64" y1="141.2" y2="160.4" stroke="#959595" stroke-width="1.2"/>
<line x1="343.64" x2="343.64" y1="175.3" y2="188.4" stroke="#959595" stroke-width="1.2"/>
<line x1="342.88" x2="344.40" y1="141.2" y2="141.2" stroke="#959595" stroke-width="1.2"/>
<line x1="342.88" x2="344.40" y1="188.4" y2="188.4" stroke="#959595" stroke-width="1.2"/>
<rect x="342.17" y="160.4" width="2.94" height="14.90" fill="#f9842f" stroke="#505050" stroke-width="0.5"/>
<line x1="342.17" x2="345.10" y1="166.9" y2="166.9" stroke="#505050" stroke-width="0.6"/>
<line x1="346.67" x2="346.67" y1="143" y2="157.6" stroke="#959595" stroke-width="1.2"/>
<line x1="346.67" x2="346.67" y1="172.9" y2="189" stroke="#959595" stroke-width="1.2"/>
<line x1="345.91" x2="347.43" y1="143" y2="143" stroke="#959595" stroke-width="1.2"/>
<line x1="345.91" x2="347.43" y1="189" y2="189" stroke="#959595" stroke-width="1.2"/>
<rect x="345.20" y="157.6" width="2.94" height="15.30" fill="#f45430" stroke="#505050" stroke-width="0.5"/>
<line x1="345.20" x2="348.14" y1="164.1" y2="164.1" stroke="#505050" stroke-width="0.6"/>
<line x1="354.26" x2="354.26" y1="168.8" y2="177.2" stroke="#959595" stroke-width="1.2"/>
<line x1="354.26" x2="354.26" y1="184.1" y2="194.6" stroke="#959595" stroke-width="1.2"/>
<line x1="353.50" x2="355.02" y1="168.8" y2="168.8" stroke="#959595" stroke-width="1.2"/>
<line x1="353.50" x2="355.02" y1="194.6" y2="194.6" stroke="#959595" stroke-width="1.2"/>
<rect x="352.79" y="177.2" width="2.94" height="6.90" fill="#0b2f86" stroke="#505050" stroke-width="0.5"/>
<line x1="352.79" x2="355.73" y1="180" y2="180" stroke="#505050" stroke-width="0.6"/>
<circle cx="354.26" cy="158" r="0.9" fill="#2a2a2a"/>
<circle cx="354.26" cy="162.3" r="0.9" fill="#2a2a2a"/>
<circle cx="354.26" cy="165.1" r="0.9" fill="#2a2a2a"/>
<line x1="357.30" x2="357.30" y1="151.1" y2="171.6" stroke="#959595" stroke-width="1.2"/>
<line x1="357.30" x2="357.30" y1="184.1" y2="194.9" stroke="#959595" stroke-width="1.2"/>
<line x1="356.54" x2="358.06" y1="151.1" y2="151.1" stroke="#959595" stroke-width="1.2"/>
<line x1="356.54" x2="358.06" y1="194.9" y2="194.9" stroke="#959595" stroke-width="1.2"/>
<rect x="355.83" y="171.6" width="2.94" height="12.50" fill="#66d9ea" stroke="#505050" stroke-width="0.5"/>
<line x1="355.83" x2="358.76" y1="178.1" y2="178.1" stroke="#505050" stroke-width="0.6"/>
<line x1="360.33" x2="360.33" y1="142.7" y2="166" stroke="#959595" stroke-width="1.2"/>
<line x1="360.33" x2="360.33" y1="184.7" y2="194.9" stroke="#959595" stroke-width="1.2"/>
<line x1="359.57" x2="361.09" y1="142.7" y2="142.7" stroke="#959595" stroke-width="1.2"/>
<line x1="359.57" x2="361.09" y1="194.9" y2="194.9" stroke="#959595" stroke-width="1.2"/>
<rect x="358.86" y="166" width="2.94" height="18.70" fill="#3cba5a" stroke="#505050" stroke-width="0.5"/>
<line x1="358.86" x2="361.80" y1="175.3" y2="175.3" stroke="#505050" stroke-width="0.6"/>
<line x1="363.37" x2="363.37" y1="151.1" y2="170.3" stroke="#959595" stroke-width="1.2"/>
<line x1="363.37" x2="363.37" y1="183.7" y2="199.6" stroke="#959595" stroke-width="1.2"/>
<line x1="362.61" x2="364.13" y1="151.1" y2="151.1" stroke="#959595" stroke-width="1.2"/>
<line x1="362.61" x2="364.13" y1="199.6" y2="199.6" stroke="#959595" stroke-width="1.2"/>
<rect x="361.90" y="170.3" width="2.94" height="13.40" fill="#fdb83f" stroke="#505050" stroke-width="0.5"/>
<line x1="361.90" x2="364.84" y1="176.3" y2="176.3" stroke="#505050" stroke-width="0.6"/>
<line x1="366.40" x2="366.40" y1="146" y2="159.1" stroke="#959595" stroke-width="1.2"/>
<line x1="366.40" x2="366.40" y1="180" y2="194" stroke="#959595" stroke-width="1.2"/>
<line x1="365.64" x2="367.16" y1="146" y2="146" stroke="#959595" stroke-width="1.2"/>
<line x1="365.64" x2="367.16" y1="194" y2="194" stroke="#959595" stroke-width="1.2"/>
<rect x="364.94" y="159.1" width="2.94" height="20.90" fill="#f9842f" stroke="#505050" stroke-width="0.5"/>
<line x1="364.94" x2="367.87" y1="168.8" y2="168.8" stroke="#505050" stroke-width="0.6"/>
<line x1="369.44" x2="369.44" y1="144.2" y2="161.3" stroke="#959595" stroke-width="1.2"/>
<line x1="369.44" x2="369.44" y1="180" y2="194" stroke="#959595" stroke-width="1.2"/>
<line x1="368.68" x2="370.20" y1="144.2" y2="144.2" stroke="#959595" stroke-width="1.2"/>
<line x1="368.68" x2="370.20" y1="194" y2="194" stroke="#959595" stroke-width="1.2"/>
<rect x="367.97" y="161.3" width="2.94" height="18.70" fill="#f45430" stroke="#505050" stroke-width="0.5"/>
<line x1="367.97" x2="370.91" y1="169.7" y2="169.7" stroke="#505050" stroke-width="0.6"/>
<line x1="377.03" x2="377.03" y1="162.3" y2="177.8" stroke="#959595" stroke-width="1.2"/>
<line x1="377.03" x2="377.03" y1="189.7" y2="205.2" stroke="#959595" stroke-width="1.2"/>
<line x1="376.27" x2="377.79" y1="162.3" y2="162.3" stroke="#959595" stroke-width="1.2"/>
<line x1="376.27" x2="377.79" y1="205.2" y2="205.2" stroke="#959595" stroke-width="1.2"/>
<rect x="375.56" y="177.8" width="2.94" height="11.90" fill="#0b2f86" stroke="#505050" stroke-width="0.5"/>
<line x1="375.56" x2="378.50" y1="183.7" y2="183.7" stroke="#505050" stroke-width="0.6"/>
<line x1="380.06" x2="380.06" y1="169.7" y2="178.5" stroke="#959595" stroke-width="1.2"/>
<line x1="380.06" x2="380.06" y1="188.4" y2="196.8" stroke="#959595" stroke-width="1.2"/>
<line x1="379.30" x2="380.82" y1="169.7" y2="169.7" stroke="#959595" stroke-width="1.2"/>
<line x1="379.30" x2="380.82" y1="196.8" y2="196.8" stroke="#959595" stroke-width="1.2"/>
<rect x="378.60" y="178.5" width="2.94" height="9.90" fill="#66d9ea" stroke="#505050" stroke-width="0.5"/>
<line x1="378.60" x2="381.53" y1="182.8" y2="182.8" stroke="#505050" stroke-width="0.6"/>
<circle cx="380.06" cy="157.6" r="0.9" fill="#2a2a2a"/>
<line x1="383.10" x2="383.10" y1="153.9" y2="170.7" stroke="#959595" stroke-width="1.2"/>
<line x1="383.10" x2="383.10" y1="190.3" y2="200.5" stroke="#959595" stroke-width="1.2"/>
<line x1="382.34" x2="383.86" y1="153.9" y2="153.9" stroke="#959595" stroke-width="1.2"/>
<line x1="382.34" x2="383.86" y1="200.5" y2="200.5" stroke="#959595" stroke-width="1.2"/>
<rect x="381.63" y="170.7" width="2.94" height="19.60" fill="#3cba5a" stroke="#505050" stroke-width="0.5"/>
<line x1="381.63" x2="384.57" y1="179.1" y2="179.1" stroke="#505050" stroke-width="0.6"/>
<line x1="386.13" x2="386.13" y1="152" y2="167.3" stroke="#959595" stroke-width="1.2"/>
<line x1="386.13" x2="386.13" y1="180.9" y2="191.2" stroke="#959595" stroke-width="1.2"/>
<line x1="385.38" x2="386.89" y1="152" y2="152" stroke="#959595" stroke-width="1.2"/>
<line x1="385.38" x2="386.89" y1="191.2" y2="191.2" stroke="#959595" stroke-width="1.2"/>
<rect x="384.67" y="167.3" width="2.94" height="13.60" fill="#fdb83f" stroke="#505050" stroke-width="0.5"/>
<line x1="384.67" x2="387.60" y1="172.9" y2="172.9" stroke="#505050" stroke-width="0.6"/>
<circle cx="386.13" cy="143.6" r="0.9" fill="#2a2a2a"/>
<line x1="389.17" x2="389.17" y1="154.8" y2="168.4" stroke="#959595" stroke-width="1.2"/>
<line x1="389.17" x2="389.17" y1="179.1" y2="194" stroke="#959595" stroke-width="1.2"/>
<line x1="388.41" x2="389.93" y1="154.8" y2="154.8" stroke="#959595" stroke-width="1.2"/>
<line x1="388.41" x2="389.93" y1="194" y2="194" stroke="#959595" stroke-width="1.2"/>
<rect x="387.70" y="168.4" width="2.94" height="10.70" fill="#f9842f" stroke="#505050" stroke-width="0.5"/>
<line x1="387.70" x2="390.64" y1="173.5" y2="173.5" stroke="#505050" stroke-width="0.6"/>
<circle cx="389.17" cy="196.8" r="0.9" fill="#2a2a2a"/>
<circle cx="389.17" cy="198.7" r="0.9" fill="#2a2a2a"/>
<line x1="392.21" x2="392.21" y1="145.5" y2="162.3" stroke="#959595" stroke-width="1.2"/>
<line x1="392.21" x2="392.21" y1="180.4" y2="192.1" stroke="#959595" stroke-width="1.2"/>
<line x1="391.45" x2="392.96" y1="145.5" y2="145.5" stroke="#959595" stroke-width="1.2"/>
<line x1="391.45" x2="392.96" y1="192.1" y2="192.1" stroke="#959595" stroke-width="1.2"/>
<rect x="390.74" y="162.3" width="2.94" height="18.10" fill="#f45430" stroke="#505050" stroke-width="0.5"/>
<line x1="390.74" x2="393.67" y1="172.9" y2="172.9" stroke="#505050" stroke-width="0.6"/>
<line x1="399.79" x2="399.79" y1="161.3" y2="177.2" stroke="#959595" stroke-width="1.2"/>
<line x1="399.79" x2="399.79" y1="189.3" y2="202.4" stroke="#959595" stroke-width="1.2"/>
<line x1="399.04" x2="400.55" y1="161.3" y2="161.3" stroke="#959595" stroke-width="1.2"/>
<line x1="399.04" x2="400.55" y1="202.4" y2="202.4" stroke="#959595" stroke-width="1.2"/>
<rect x="398.33" y="177.2" width="2.94" height="12.10" fill="#0b2f86" stroke="#505050" stroke-width="0.5"/>
<line x1="398.33" x2="401.26" y1="183.4" y2="183.4" stroke="#505050" stroke-width="0.6"/>
<line x1="405.87" x2="405.87" y1="157.2" y2="171" stroke="#959595" stroke-width="1.2"/>
<line x1="405.87" x2="405.87" y1="190.3" y2="210.2" stroke="#959595" stroke-width="1.2"/>
<line x1="405.11" x2="406.62" y1="157.2" y2="157.2" stroke="#959595" stroke-width="1.2"/>
<line x1="405.11" x2="406.62" y1="210.2" y2="210.2" stroke="#959595" stroke-width="1.2"/>
<rect x="404.40" y="171" width="2.94" height="19.30" fill="#3cba5a" stroke="#505050" stroke-width="0.5"/>
<line x1="404.40" x2="407.33" y1="181.9" y2="181.9" stroke="#505050" stroke-width="0.6"/>
<line x1="408.90" x2="408.90" y1="147.9" y2="167.3" stroke="#959595" stroke-width="1.2"/>
<line x1="408.90" x2="408.90" y1="180" y2="190.3" stroke="#959595" stroke-width="1.2"/>
<line x1="408.14" x2="409.66" y1="147.9" y2="147.9" stroke="#959595" stroke-width="1.2"/>
<line x1="408.14" x2="409.66" y1="190.3" y2="190.3" stroke="#959595" stroke-width="1.2"/>
<rect x="407.43" y="167.3" width="2.94" height="12.70" fill="#fdb83f" stroke="#505050" stroke-width="0.5"/>
<line x1="407.43" x2="410.37" y1="173.5" y2="173.5" stroke="#505050" stroke-width="0.6"/>
<circle cx="408.90" cy="142.7" r="0.9" fill="#2a2a2a"/>
<circle cx="408.90" cy="198.7" r="0.9" fill="#2a2a2a"/>
<circle cx="408.90" cy="200.5" r="0.9" fill="#2a2a2a"/>
<line x1="411.94" x2="411.94" y1="144.9" y2="167.9" stroke="#959595" stroke-width="1.2"/>
<line x1="411.94" x2="411.94" y1="181.9" y2="195.9" stroke="#959595" stroke-width="1.2"/>
<line x1="411.18" x2="412.70" y1="144.9" y2="144.9" stroke="#959595" stroke-width="1.2"/>
<line x1="411.18" x2="412.70" y1="195.9" y2="195.9" stroke="#959595" stroke-width="1.2"/>
<rect x="410.47" y="167.9" width="2.94" height="14.00" fill="#f9842f" stroke="#505050" stroke-width="0.5"/>
<line x1="410.47" x2="413.40" y1="176.3" y2="176.3" stroke="#505050" stroke-width="0.6"/>
<line x1="414.97" x2="414.97" y1="145.5" y2="171" stroke="#959595" stroke-width="1.2"/>
<line x1="414.97" x2="414.97" y1="188.4" y2="197.2" stroke="#959595" stroke-width="1.2"/>
<line x1="414.21" x2="415.73" y1="145.5" y2="145.5" stroke="#959595" stroke-width="1.2"/>
<line x1="414.21" x2="415.73" y1="197.2" y2="197.2" stroke="#959595" stroke-width="1.2"/>
<rect x="413.50" y="171" width="2.94" height="17.40" fill="#f45430" stroke="#505050" stroke-width="0.5"/>
<line x1="413.50" x2="416.44" y1="184.7" y2="184.7" stroke="#505050" stroke-width="0.6"/>
<line x1="422.56" x2="422.56" y1="153.9" y2="166" stroke="#959595" stroke-width="1.2"/>
<line x1="422.56" x2="422.56" y1="189.7" y2="202" stroke="#959595" stroke-width="1.2"/>
<line x1="421.80" x2="423.32" y1="153.9" y2="153.9" stroke="#959595" stroke-width="1.2"/>
<line x1="421.80" x2="423.32" y1="202" y2="202" stroke="#959595" stroke-width="1.2"/>
<rect x="421.09" y="166" width="2.94" height="23.70" fill="#0b2f86" stroke="#505050" stroke-width="0.5"/>
<line x1="421.09" x2="424.03" y1="178.1" y2="178.1" stroke="#505050" stroke-width="0.6"/>
<line x1="428.63" x2="428.63" y1="156.7" y2="172.9" stroke="#959595" stroke-width="1.2"/>
<line x1="428.63" x2="428.63" y1="189.7" y2="202" stroke="#959595" stroke-width="1.2"/>
<line x1="427.87" x2="429.39" y1="156.7" y2="156.7" stroke="#959595" stroke-width="1.2"/>
<line x1="427.87" x2="429.39" y1="202" y2="202" stroke="#959595" stroke-width="1.2"/>
<rect x="427.16" y="172.9" width="2.94" height="16.80" fill="#3cba5a" stroke="#505050" stroke-width="0.5"/>
<line x1="427.16" x2="430.10" y1="183.4" y2="183.4" stroke="#505050" stroke-width="0.6"/>
<circle cx="428.63" cy="146.4" r="0.9" fill="#2a2a2a"/>
<circle cx="428.63" cy="147.9" r="0.9" fill="#2a2a2a"/>
<line x1="431.67" x2="431.67" y1="150.1" y2="159.1" stroke="#959595" stroke-width="1.2"/>
<line x1="431.67" x2="431.67" y1="181.5" y2="194" stroke="#959595" stroke-width="1.2"/>
<line x1="430.91" x2="432.43" y1="150.1" y2="150.1" stroke="#959595" stroke-width="1.2"/>
<line x1="430.91" x2="432.43" y1="194" y2="194" stroke="#959595" stroke-width="1.2"/>
<rect x="430.20" y="159.1" width="2.94" height="22.40" fill="#fdb83f" stroke="#505050" stroke-width="0.5"/>
<line x1="430.20" x2="433.14" y1="169.7" y2="169.7" stroke="#505050" stroke-width="0.6"/>
<line x1="434.70" x2="434.70" y1="144.9" y2="161.3" stroke="#959595" stroke-width="1.2"/>
<line x1="434.70" x2="434.70" y1="181.9" y2="205.8" stroke="#959595" stroke-width="1.2"/>
<line x1="433.94" x2="435.46" y1="144.9" y2="144.9" stroke="#959595" stroke-width="1.2"/>
<line x1="433.94" x2="435.46" y1="205.8" y2="205.8" stroke="#959595" stroke-width="1.2"/>
<rect x="433.24" y="161.3" width="2.94" height="20.60" fill="#f9842f" stroke="#505050" stroke-width="0.5"/>
<line x1="433.24" x2="436.17" y1="168.8" y2="168.8" stroke="#505050" stroke-width="0.6"/>
<line x1="437.74" x2="437.74" y1="146.8" y2="160.4" stroke="#959595" stroke-width="1.2"/>
<line x1="437.74" x2="437.74" y1="180" y2="205.8" stroke="#959595" stroke-width="1.2"/>
<line x1="436.98" x2="438.50" y1="146.8" y2="146.8" stroke="#959595" stroke-width="1.2"/>
<line x1="436.98" x2="438.50" y1="205.8" y2="205.8" stroke="#959595" stroke-width="1.2"/>
<rect x="436.27" y="160.4" width="2.94" height="19.60" fill="#f45430" stroke="#505050" stroke-width="0.5"/>
<line x1="436.27" x2="439.21" y1="167.3" y2="167.3" stroke="#505050" stroke-width="0.6"/>
<line x1="445.33" x2="445.33" y1="141.2" y2="156.7" stroke="#959595" stroke-width="1.2"/>
<line x1="445.33" x2="445.33" y1="172.9" y2="197.7" stroke="#959595" stroke-width="1.2"/>
<line x1="444.57" x2="446.09" y1="141.2" y2="141.2" stroke="#959595" stroke-width="1.2"/>
<line x1="444.57" x2="446.09" y1="197.7" y2="197.7" stroke="#959595" stroke-width="1.2"/>
<rect x="443.86" y="156.7" width="2.94" height="16.20" fill="#0b2f86" stroke="#505050" stroke-width="0.5"/>
<line x1="443.86" x2="446.80" y1="164.1" y2="164.1" stroke="#505050" stroke-width="0.6"/>
<line x1="451.40" x2="451.40" y1="150.1" y2="172.2" stroke="#959595" stroke-width="1.2"/>
<line x1="451.40" x2="451.40" y1="190.3" y2="201.5" stroke="#959595" stroke-width="1.2"/>
<line x1="450.64" x2="452.16" y1="150.1" y2="150.1" stroke="#959595" stroke-width="1.2"/>
<line x1="450.64" x2="452.16" y1="201.5" y2="201.5" stroke="#959595" stroke-width="1.2"/>
<rect x="449.93" y="172.2" width="2.94" height="18.10" fill="#3cba5a" stroke="#505050" stroke-width="0.5"/>
<line x1="449.93" x2="452.87" y1="182.2" y2="182.2" stroke="#505050" stroke-width="0.6"/>
<circle cx="451.40" cy="141.7" r="0.9" fill="#2a2a2a"/>
<line x1="454.43" x2="454.43" y1="142.7" y2="160.4" stroke="#959595" stroke-width="1.2"/>
<line x1="454.43" x2="454.43" y1="184.1" y2="197.2" stroke="#959595" stroke-width="1.2"/>
<line x1="453.68" x2="455.19" y1="142.7" y2="142.7" stroke="#959595" stroke-width="1.2"/>
<line x1="453.68" x2="455.19" y1="197.2" y2="197.2" stroke="#959595" stroke-width="1.2"/>
<rect x="452.97" y="160.4" width="2.94" height="23.70" fill="#fdb83f" stroke="#505050" stroke-width="0.5"/>
<line x1="452.97" x2="455.90" y1="168.8" y2="168.8" stroke="#505050" stroke-width="0.6"/>
<line x1="457.47" x2="457.47" y1="139.9" y2="146.4" stroke="#959595" stroke-width="1.2"/>
<line x1="457.47" x2="457.47" y1="162.3" y2="184.1" stroke="#959595" stroke-width="1.2"/>
<line x1="456.71" x2="458.23" y1="139.9" y2="139.9" stroke="#959595" stroke-width="1.2"/>
<line x1="456.71" x2="458.23" y1="184.1" y2="184.1" stroke="#959595" stroke-width="1.2"/>
<rect x="456.00" y="146.4" width="2.94" height="15.90" fill="#f9842f" stroke="#505050" stroke-width="0.5"/>
<line x1="456.00" x2="458.94" y1="154.8" y2="154.8" stroke="#505050" stroke-width="0.6"/>
<circle cx="457.47" cy="186.5" r="0.9" fill="#2a2a2a"/>
<circle cx="457.47" cy="188.4" r="0.9" fill="#2a2a2a"/>
<circle cx="457.47" cy="190.3" r="0.9" fill="#2a2a2a"/>
<circle cx="457.47" cy="192.2" r="0.9" fill="#2a2a2a"/>
<circle cx="457.47" cy="194" r="0.9" fill="#2a2a2a"/>
<line x1="460.51" x2="460.51" y1="141.2" y2="163.6" stroke="#959595" stroke-width="1.2"/>
<line x1="460.51" x2="460.51" y1="179.6" y2="189.7" stroke="#959595" stroke-width="1.2"/>
<line x1="459.75" x2="461.26" y1="141.2" y2="141.2" stroke="#959595" stroke-width="1.2"/>
<line x1="459.75" x2="461.26" y1="189.7" y2="189.7" stroke="#959595" stroke-width="1.2"/>
<rect x="459.04" y="163.6" width="2.94" height="16.00" fill="#f45430" stroke="#505050" stroke-width="0.5"/>
<line x1="459.04" x2="461.97" y1="170.7" y2="170.7" stroke="#505050" stroke-width="0.6"/>
<rect x="27.5" y="237.0" width="204.90" height="85.60" fill="#e8e9f2"/>
<line x1="27.5" x2="232.4" y1="245.1" y2="245.1" stroke="#f8f8fb" stroke-width="0.9"/>
<text x="23.0" y="247.7" font-size="7.45" fill="#262626" text-anchor="end">3</text>
<line x1="27.5" x2="232.4" y1="270.9" y2="270.9" stroke="#f8f8fb" stroke-width="0.9"/>
<text x="23.0" y="273.5" font-size="7.45" fill="#262626" text-anchor="end">2</text>
<line x1="27.5" x2="232.4" y1="296.4" y2="296.4" stroke="#f8f8fb" stroke-width="0.9"/>
<text x="23.0" y="299.0" font-size="7.45" fill="#262626" text-anchor="end">1</text>
<line x1="27.5" x2="232.4" y1="321.3" y2="321.3" stroke="#f8f8fb" stroke-width="0.9"/>
<text x="23.0" y="323.90000000000003" font-size="7.45" fill="#262626" text-anchor="end">0</text>
<text class="b" x="129.95" y="234.95" font-size="8.1" fill="#262626" text-anchor="middle">Carotenoids (mg/g<tspan dx="0.6" dy="-5.6" font-size="6.2">−1</tspan><tspan dx="0.2" dy="5.6">)</tspan></text>
<line x1="31.29" x2="31.29" y1="289.1" y2="300.8" stroke="#959595" stroke-width="1.2"/>
<line x1="31.29" x2="31.29" y1="312.4" y2="315.2" stroke="#959595" stroke-width="1.2"/>
<line x1="30.54" x2="32.05" y1="289.1" y2="289.1" stroke="#959595" stroke-width="1.2"/>
<line x1="30.54" x2="32.05" y1="315.2" y2="315.2" stroke="#959595" stroke-width="1.2"/>
<rect x="29.83" y="300.8" width="2.94" height="11.60" fill="#0b2f86" stroke="#505050" stroke-width="0.5"/>
<line x1="29.83" x2="32.76" y1="305.9" y2="305.9" stroke="#505050" stroke-width="0.6"/>
<circle cx="31.29" cy="257.3" r="0.9" fill="#2a2a2a"/>
<circle cx="31.29" cy="279.7" r="0.9" fill="#2a2a2a"/>
<line x1="34.33" x2="34.33" y1="287.2" y2="301.6" stroke="#959595" stroke-width="1.2"/>
<line x1="34.33" x2="34.33" y1="311.5" y2="315.8" stroke="#959595" stroke-width="1.2"/>
<line x1="33.57" x2="35.09" y1="287.2" y2="287.2" stroke="#959595" stroke-width="1.2"/>
<line x1="33.57" x2="35.09" y1="315.8" y2="315.8" stroke="#959595" stroke-width="1.2"/>
<rect x="32.86" y="301.6" width="2.94" height="9.90" fill="#66d9ea" stroke="#505050" stroke-width="0.5"/>
<line x1="32.86" x2="35.80" y1="307.7" y2="307.7" stroke="#505050" stroke-width="0.6"/>
<circle cx="34.33" cy="271.3" r="0.9" fill="#2a2a2a"/>
<circle cx="34.33" cy="279.7" r="0.9" fill="#2a2a2a"/>
<circle cx="34.33" cy="281.6" r="0.9" fill="#2a2a2a"/>
<line x1="37.37" x2="37.37" y1="290" y2="301.6" stroke="#959595" stroke-width="1.2"/>
<line x1="37.37" x2="37.37" y1="312.4" y2="315.8" stroke="#959595" stroke-width="1.2"/>
<line x1="36.61" x2="38.12" y1="290" y2="290" stroke="#959595" stroke-width="1.2"/>
<line x1="36.61" x2="38.12" y1="315.8" y2="315.8" stroke="#959595" stroke-width="1.2"/>
<rect x="35.90" y="301.6" width="2.94" height="10.80" fill="#3cba5a" stroke="#505050" stroke-width="0.5"/>
<line x1="35.90" x2="38.83" y1="304.6" y2="304.6" stroke="#505050" stroke-width="0.6"/>
<circle cx="37.37" cy="251.7" r="0.9" fill="#2a2a2a"/>
<circle cx="37.37" cy="263.9" r="0.9" fill="#2a2a2a"/>
<circle cx="37.37" cy="280.7" r="0.9" fill="#2a2a2a"/>
<circle cx="37.37" cy="282.9" r="0.9" fill="#2a2a2a"/>
<line x1="40.40" x2="40.40" y1="270.4" y2="290" stroke="#959595" stroke-width="1.2"/>
<line x1="40.40" x2="40.40" y1="304.6" y2="317.1" stroke="#959595" stroke-width="1.2"/>
<line x1="39.64" x2="41.16" y1="270.4" y2="270.4" stroke="#959595" stroke-width="1.2"/>
<line x1="39.64" x2="41.16" y1="317.1" y2="317.1" stroke="#959595" stroke-width="1.2"/>
<rect x="38.93" y="290" width="2.94" height="14.60" fill="#fdb83f" stroke="#505050" stroke-width="0.5"/>
<line x1="38.93" x2="41.87" y1="296.5" y2="296.5" stroke="#505050" stroke-width="0.6"/>
<circle cx="40.40" cy="260.1" r="0.9" fill="#2a2a2a"/>
<circle cx="40.40" cy="267.6" r="0.9" fill="#2a2a2a"/>
<line x1="43.44" x2="43.44" y1="283.5" y2="301.6" stroke="#959595" stroke-width="1.2"/>
<line x1="43.44" x2="43.44" y1="312.4" y2="315.8" stroke="#959595" stroke-width="1.2"/>
<line x1="42.68" x2="44.20" y1="283.5" y2="283.5" stroke="#959595" stroke-width="1.2"/>
<line x1="42.68" x2="44.20" y1="315.8" y2="315.8" stroke="#959595" stroke-width="1.2"/>
<rect x="41.97" y="301.6" width="2.94" height="10.80" fill="#f9842f" stroke="#505050" stroke-width="0.5"/>
<line x1="41.97" x2="44.90" y1="308.7" y2="308.7" stroke="#505050" stroke-width="0.6"/>
<circle cx="43.44" cy="280.7" r="0.9" fill="#2a2a2a"/>
<line x1="46.47" x2="46.47" y1="240.5" y2="279.7" stroke="#959595" stroke-width="1.2"/>
<line x1="46.47" x2="46.47" y1="307.7" y2="315.8" stroke="#959595" stroke-width="1.2"/>
<line x1="45.71" x2="47.23" y1="240.5" y2="240.5" stroke="#959595" stroke-width="1.2"/>
<line x1="45.71" x2="47.23" y1="315.8" y2="315.8" stroke="#959595" stroke-width="1.2"/>
<rect x="45.00" y="279.7" width="2.94" height="28.00" fill="#f45430" stroke="#505050" stroke-width="0.5"/>
<line x1="45.00" x2="47.94" y1="297.5" y2="297.5" stroke="#505050" stroke-width="0.6"/>
<line x1="54.06" x2="54.06" y1="301.2" y2="307.2" stroke="#959595" stroke-width="1.2"/>
<line x1="54.06" x2="54.06" y1="312.4" y2="315.8" stroke="#959595" stroke-width="1.2"/>
<line x1="53.30" x2="54.82" y1="301.2" y2="301.2" stroke="#959595" stroke-width="1.2"/>
<line x1="53.30" x2="54.82" y1="315.8" y2="315.8" stroke="#959595" stroke-width="1.2"/>
<rect x="52.59" y="307.2" width="2.94" height="5.20" fill="#0b2f86" stroke="#505050" stroke-width="0.5"/>
<line x1="52.59" x2="55.53" y1="309" y2="309" stroke="#505050" stroke-width="0.6"/>
<circle cx="54.06" cy="293.4" r="0.9" fill="#2a2a2a"/>
<circle cx="54.06" cy="295.6" r="0.9" fill="#2a2a2a"/>
<circle cx="54.06" cy="297.8" r="0.9" fill="#2a2a2a"/>
<circle cx="54.06" cy="299.7" r="0.9" fill="#2a2a2a"/>
<line x1="57.10" x2="57.10" y1="306.8" y2="309.6" stroke="#959595" stroke-width="1.2"/>
<line x1="57.10" x2="57.10" y1="313.9" y2="316.1" stroke="#959595" stroke-width="1.2"/>
<line x1="56.34" x2="57.86" y1="306.8" y2="306.8" stroke="#959595" stroke-width="1.2"/>
<line x1="56.34" x2="57.86" y1="316.1" y2="316.1" stroke="#959595" stroke-width="1.2"/>
<rect x="55.63" y="309.6" width="2.94" height="4.30" fill="#66d9ea" stroke="#505050" stroke-width="0.5"/>
<line x1="55.63" x2="58.56" y1="310.5" y2="310.5" stroke="#505050" stroke-width="0.6"/>
<circle cx="57.10" cy="286.3" r="0.9" fill="#2a2a2a"/>
<circle cx="57.10" cy="297.5" r="0.9" fill="#2a2a2a"/>
<circle cx="57.10" cy="300.3" r="0.9" fill="#2a2a2a"/>
<line x1="60.13" x2="60.13" y1="293.7" y2="300.8" stroke="#959595" stroke-width="1.2"/>
<line x1="60.13" x2="60.13" y1="312" y2="316.1" stroke="#959595" stroke-width="1.2"/>
<line x1="59.37" x2="60.89" y1="293.7" y2="293.7" stroke="#959595" stroke-width="1.2"/>
<line x1="59.37" x2="60.89" y1="316.1" y2="316.1" stroke="#959595" stroke-width="1.2"/>
<rect x="58.66" y="300.8" width="2.94" height="11.20" fill="#3cba5a" stroke="#505050" stroke-width="0.5"/>
<line x1="58.66" x2="61.60" y1="308.3" y2="308.3" stroke="#505050" stroke-width="0.6"/>
<circle cx="60.13" cy="266.7" r="0.9" fill="#2a2a2a"/>
<circle cx="60.13" cy="275.4" r="0.9" fill="#2a2a2a"/>
<circle cx="60.13" cy="279.7" r="0.9" fill="#2a2a2a"/>
<line x1="63.17" x2="63.17" y1="282.2" y2="293.4" stroke="#959595" stroke-width="1.2"/>
<line x1="63.17" x2="63.17" y1="312.4" y2="316.1" stroke="#959595" stroke-width="1.2"/>
<line x1="62.41" x2="63.93" y1="282.2" y2="282.2" stroke="#959595" stroke-width="1.2"/>
<line x1="62.41" x2="63.93" y1="316.1" y2="316.1" stroke="#959595" stroke-width="1.2"/>
<rect x="61.70" y="293.4" width="2.94" height="19.00" fill="#fdb83f" stroke="#505050" stroke-width="0.5"/>
<line x1="61.70" x2="64.64" y1="300.3" y2="300.3" stroke="#505050" stroke-width="0.6"/>
<circle cx="63.17" cy="258.3" r="0.9" fill="#2a2a2a"/>
<circle cx="63.17" cy="272.8" r="0.9" fill="#2a2a2a"/>
<line x1="66.20" x2="66.20" y1="251.7" y2="278.4" stroke="#959595" stroke-width="1.2"/>
<line x1="66.20" x2="66.20" y1="302.7" y2="313.9" stroke="#959595" stroke-width="1.2"/>
<line x1="65.44" x2="66.96" y1="251.7" y2="251.7" stroke="#959595" stroke-width="1.2"/>
<line x1="65.44" x2="66.96" y1="313.9" y2="313.9" stroke="#959595" stroke-width="1.2"/>
<rect x="64.74" y="278.4" width="2.94" height="24.30" fill="#f9842f" stroke="#505050" stroke-width="0.5"/>
<line x1="64.74" x2="67.67" y1="286.6" y2="286.6" stroke="#505050" stroke-width="0.6"/>
<line x1="69.24" x2="69.24" y1="261.6" y2="284" stroke="#959595" stroke-width="1.2"/>
<line x1="69.24" x2="69.24" y1="307.7" y2="313.9" stroke="#959595" stroke-width="1.2"/>
<line x1="68.48" x2="70.00" y1="261.6" y2="261.6" stroke="#959595" stroke-width="1.2"/>
<line x1="68.48" x2="70.00" y1="313.9" y2="313.9" stroke="#959595" stroke-width="1.2"/>
<rect x="67.77" y="284" width="2.94" height="23.70" fill="#f45430" stroke="#505050" stroke-width="0.5"/>
<line x1="67.77" x2="70.71" y1="300.3" y2="300.3" stroke="#505050" stroke-width="0.6"/>
<line x1="76.83" x2="76.83" y1="298.4" y2="308.3" stroke="#959595" stroke-width="1.2"/>
<line x1="76.83" x2="76.83" y1="314.3" y2="315.8" stroke="#959595" stroke-width="1.2"/>
<line x1="76.07" x2="77.59" y1="298.4" y2="298.4" stroke="#959595" stroke-width="1.2"/>
<line x1="76.07" x2="77.59" y1="315.8" y2="315.8" stroke="#959595" stroke-width="1.2"/>
<rect x="75.36" y="308.3" width="2.94" height="6.00" fill="#0b2f86" stroke="#505050" stroke-width="0.5"/>
<line x1="75.36" x2="78.30" y1="310.9" y2="310.9" stroke="#505050" stroke-width="0.6"/>
<circle cx="76.83" cy="294.1" r="0.9" fill="#2a2a2a"/>
<line x1="79.86" x2="79.86" y1="304.9" y2="310.9" stroke="#959595" stroke-width="1.2"/>
<line x1="79.86" x2="79.86" y1="314.6" y2="316.1" stroke="#959595" stroke-width="1.2"/>
<line x1="79.10" x2="80.62" y1="304.9" y2="304.9" stroke="#959595" stroke-width="1.2"/>
<line x1="79.10" x2="80.62" y1="316.1" y2="316.1" stroke="#959595" stroke-width="1.2"/>
<rect x="78.40" y="310.9" width="2.94" height="3.70" fill="#66d9ea" stroke="#505050" stroke-width="0.5"/>
<line x1="78.40" x2="81.33" y1="312.4" y2="312.4" stroke="#505050" stroke-width="0.6"/>
<circle cx="79.86" cy="298.4" r="0.9" fill="#2a2a2a"/>
<circle cx="79.86" cy="300.3" r="0.9" fill="#2a2a2a"/>
<circle cx="79.86" cy="302.1" r="0.9" fill="#2a2a2a"/>
<line x1="82.90" x2="82.90" y1="295.6" y2="304.9" stroke="#959595" stroke-width="1.2"/>
<line x1="82.90" x2="82.90" y1="313.9" y2="315.8" stroke="#959595" stroke-width="1.2"/>
<line x1="82.14" x2="83.66" y1="295.6" y2="295.6" stroke="#959595" stroke-width="1.2"/>
<line x1="82.14" x2="83.66" y1="315.8" y2="315.8" stroke="#959595" stroke-width="1.2"/>
<rect x="81.43" y="304.9" width="2.94" height="9.00" fill="#3cba5a" stroke="#505050" stroke-width="0.5"/>
<line x1="81.43" x2="84.37" y1="308.7" y2="308.7" stroke="#505050" stroke-width="0.6"/>
<circle cx="82.90" cy="280.7" r="0.9" fill="#2a2a2a"/>
<circle cx="82.90" cy="283.5" r="0.9" fill="#2a2a2a"/>
<circle cx="82.90" cy="285.3" r="0.9" fill="#2a2a2a"/>
<circle cx="82.90" cy="290" r="0.9" fill="#2a2a2a"/>
<line x1="85.93" x2="85.93" y1="282.2" y2="296.5" stroke="#959595" stroke-width="1.2"/>
<line x1="85.93" x2="85.93" y1="310.5" y2="315.8" stroke="#959595" stroke-width="1.2"/>
<line x1="85.18" x2="86.69" y1="282.2" y2="282.2" stroke="#959595" stroke-width="1.2"/>
<line x1="85.18" x2="86.69" y1="315.8" y2="315.8" stroke="#959595" stroke-width="1.2"/>
<rect x="84.47" y="296.5" width="2.94" height="14.00" fill="#fdb83f" stroke="#505050" stroke-width="0.5"/>
<line x1="84.47" x2="87.40" y1="302.1" y2="302.1" stroke="#505050" stroke-width="0.6"/>
<line x1="88.97" x2="88.97" y1="278.8" y2="298.4" stroke="#959595" stroke-width="1.2"/>
<line x1="88.97" x2="88.97" y1="310.5" y2="315.8" stroke="#959595" stroke-width="1.2"/>
<line x1="88.21" x2="89.73" y1="278.8" y2="278.8" stroke="#959595" stroke-width="1.2"/>
<line x1="88.21" x2="89.73" y1="315.8" y2="315.8" stroke="#959595" stroke-width="1.2"/>
<rect x="87.50" y="298.4" width="2.94" height="12.10" fill="#f9842f" stroke="#505050" stroke-width="0.5"/>
<line x1="87.50" x2="90.44" y1="307.7" y2="307.7" stroke="#505050" stroke-width="0.6"/>
<circle cx="88.97" cy="251.7" r="0.9" fill="#2a2a2a"/>
<circle cx="88.97" cy="256.8" r="0.9" fill="#2a2a2a"/>
<circle cx="88.97" cy="263.5" r="0.9" fill="#2a2a2a"/>
<circle cx="88.97" cy="278.4" r="0.9" fill="#2a2a2a"/>
<line x1="92.01" x2="92.01" y1="291.9" y2="303.4" stroke="#959595" stroke-width="1.2"/>
<line x1="92.01" x2="92.01" y1="310.5" y2="314.3" stroke="#959595" stroke-width="1.2"/>
<line x1="91.25" x2="92.76" y1="291.9" y2="291.9" stroke="#959595" stroke-width="1.2"/>
<line x1="91.25" x2="92.76" y1="314.3" y2="314.3" stroke="#959595" stroke-width="1.2"/>
<rect x="90.54" y="303.4" width="2.94" height="7.10" fill="#f45430" stroke="#505050" stroke-width="0.5"/>
<line x1="90.54" x2="93.47" y1="307.7" y2="307.7" stroke="#505050" stroke-width="0.6"/>
<circle cx="92.01" cy="285.3" r="0.9" fill="#2a2a2a"/>
<circle cx="92.01" cy="290" r="0.9" fill="#2a2a2a"/>
<line x1="99.59" x2="99.59" y1="298.4" y2="309" stroke="#959595" stroke-width="1.2"/>
<line x1="99.59" x2="99.59" y1="314.6" y2="317.6" stroke="#959595" stroke-width="1.2"/>
<line x1="98.84" x2="100.35" y1="298.4" y2="298.4" stroke="#959595" stroke-width="1.2"/>
<line x1="98.84" x2="100.35" y1="317.6" y2="317.6" stroke="#959595" stroke-width="1.2"/>
<rect x="98.13" y="309" width="2.94" height="5.60" fill="#0b2f86" stroke="#505050" stroke-width="0.5"/>
<line x1="98.13" x2="101.06" y1="311.5" y2="311.5" stroke="#505050" stroke-width="0.6"/>
<circle cx="99.59" cy="292.2" r="0.9" fill="#2a2a2a"/>
<line x1="102.63" x2="102.63" y1="304" y2="311.5" stroke="#959595" stroke-width="1.2"/>
<line x1="102.63" x2="102.63" y1="315.8" y2="318" stroke="#959595" stroke-width="1.2"/>
<line x1="101.87" x2="103.39" y1="304" y2="304" stroke="#959595" stroke-width="1.2"/>
<line x1="101.87" x2="103.39" y1="318" y2="318" stroke="#959595" stroke-width="1.2"/>
<rect x="101.16" y="311.5" width="2.94" height="4.30" fill="#66d9ea" stroke="#505050" stroke-width="0.5"/>
<line x1="101.16" x2="104.10" y1="313.9" y2="313.9" stroke="#505050" stroke-width="0.6"/>
<line x1="105.67" x2="105.67" y1="290" y2="305.3" stroke="#959595" stroke-width="1.2"/>
<line x1="105.67" x2="105.67" y1="312.8" y2="317.1" stroke="#959595" stroke-width="1.2"/>
<line x1="104.91" x2="106.42" y1="290" y2="290" stroke="#959595" stroke-width="1.2"/>
<line x1="104.91" x2="106.42" y1="317.1" y2="317.1" stroke="#959595" stroke-width="1.2"/>
<rect x="104.20" y="305.3" width="2.94" height="7.50" fill="#3cba5a" stroke="#505050" stroke-width="0.5"/>
<line x1="104.20" x2="107.13" y1="309" y2="309" stroke="#505050" stroke-width="0.6"/>
<circle cx="105.67" cy="263.9" r="0.9" fill="#2a2a2a"/>
<circle cx="105.67" cy="284.4" r="0.9" fill="#2a2a2a"/>
<circle cx="105.67" cy="290.9" r="0.9" fill="#2a2a2a"/>
<circle cx="105.67" cy="293.7" r="0.9" fill="#2a2a2a"/>
<circle cx="105.67" cy="296.5" r="0.9" fill="#2a2a2a"/>
<line x1="108.70" x2="108.70" y1="293.7" y2="303.4" stroke="#959595" stroke-width="1.2"/>
<line x1="108.70" x2="108.70" y1="312.4" y2="317.1" stroke="#959595" stroke-width="1.2"/>
<line x1="107.94" x2="109.46" y1="293.7" y2="293.7" stroke="#959595" stroke-width="1.2"/>
<line x1="107.94" x2="109.46" y1="317.1" y2="317.1" stroke="#959595" stroke-width="1.2"/>
<rect x="107.23" y="303.4" width="2.94" height="9.00" fill="#fdb83f" stroke="#505050" stroke-width="0.5"/>
<line x1="107.23" x2="110.17" y1="308.7" y2="308.7" stroke="#505050" stroke-width="0.6"/>
<circle cx="108.70" cy="278.8" r="0.9" fill="#2a2a2a"/>
<line x1="111.74" x2="111.74" y1="294.7" y2="303.4" stroke="#959595" stroke-width="1.2"/>
<line x1="111.74" x2="111.74" y1="312" y2="316.1" stroke="#959595" stroke-width="1.2"/>
<line x1="110.98" x2="112.50" y1="294.7" y2="294.7" stroke="#959595" stroke-width="1.2"/>
<line x1="110.98" x2="112.50" y1="316.1" y2="316.1" stroke="#959595" stroke-width="1.2"/>
<rect x="110.27" y="303.4" width="2.94" height="8.60" fill="#f9842f" stroke="#505050" stroke-width="0.5"/>
<line x1="110.27" x2="113.20" y1="308.3" y2="308.3" stroke="#505050" stroke-width="0.6"/>
<circle cx="111.74" cy="269.5" r="0.9" fill="#2a2a2a"/>
<circle cx="111.74" cy="286.6" r="0.9" fill="#2a2a2a"/>
<line x1="114.77" x2="114.77" y1="290" y2="306.8" stroke="#959595" stroke-width="1.2"/>
<line x1="114.77" x2="114.77" y1="312.8" y2="316.1" stroke="#959595" stroke-width="1.2"/>
<line x1="114.01" x2="115.53" y1="290" y2="290" stroke="#959595" stroke-width="1.2"/>
<line x1="114.01" x2="115.53" y1="316.1" y2="316.1" stroke="#959595" stroke-width="1.2"/>
<rect x="113.30" y="306.8" width="2.94" height="6.00" fill="#f45430" stroke="#505050" stroke-width="0.5"/>
<line x1="113.30" x2="116.24" y1="309.6" y2="309.6" stroke="#505050" stroke-width="0.6"/>
<circle cx="114.77" cy="288.5" r="0.9" fill="#2a2a2a"/>
<line x1="122.36" x2="122.36" y1="304.9" y2="309.6" stroke="#959595" stroke-width="1.2"/>
<line x1="122.36" x2="122.36" y1="315.2" y2="318" stroke="#959595" stroke-width="1.2"/>
<line x1="121.60" x2="123.12" y1="304.9" y2="304.9" stroke="#959595" stroke-width="1.2"/>
<line x1="121.60" x2="123.12" y1="318" y2="318" stroke="#959595" stroke-width="1.2"/>
<rect x="120.89" y="309.6" width="2.94" height="5.60" fill="#0b2f86" stroke="#505050" stroke-width="0.5"/>
<line x1="120.89" x2="123.83" y1="312.4" y2="312.4" stroke="#505050" stroke-width="0.6"/>
<circle cx="122.36" cy="294.7" r="0.9" fill="#2a2a2a"/>
<line x1="125.40" x2="125.40" y1="298.4" y2="308.7" stroke="#959595" stroke-width="1.2"/>
<line x1="125.40" x2="125.40" y1="314.6" y2="318" stroke="#959595" stroke-width="1.2"/>
<line x1="124.64" x2="126.16" y1="298.4" y2="298.4" stroke="#959595" stroke-width="1.2"/>
<line x1="124.64" x2="126.16" y1="318" y2="318" stroke="#959595" stroke-width="1.2"/>
<rect x="123.93" y="308.7" width="2.94" height="5.90" fill="#66d9ea" stroke="#505050" stroke-width="0.5"/>
<line x1="123.93" x2="126.86" y1="311.5" y2="311.5" stroke="#505050" stroke-width="0.6"/>
<circle cx="125.40" cy="286.6" r="0.9" fill="#2a2a2a"/>
<circle cx="125.40" cy="294.7" r="0.9" fill="#2a2a2a"/>
<line x1="128.43" x2="128.43" y1="305.9" y2="310.2" stroke="#959595" stroke-width="1.2"/>
<line x1="128.43" x2="128.43" y1="314.6" y2="317.6" stroke="#959595" stroke-width="1.2"/>
<line x1="127.67" x2="129.19" y1="305.9" y2="305.9" stroke="#959595" stroke-width="1.2"/>
<line x1="127.67" x2="129.19" y1="317.6" y2="317.6" stroke="#959595" stroke-width="1.2"/>
<rect x="126.96" y="310.2" width="2.94" height="4.40" fill="#3cba5a" stroke="#505050" stroke-width="0.5"/>
<line x1="126.96" x2="129.90" y1="312.4" y2="312.4" stroke="#505050" stroke-width="0.6"/>
<circle cx="128.43" cy="290" r="0.9" fill="#2a2a2a"/>
<circle cx="128.43" cy="301.2" r="0.9" fill="#2a2a2a"/>
<circle cx="128.43" cy="302.7" r="0.9" fill="#2a2a2a"/>
<circle cx="128.43" cy="304.9" r="0.9" fill="#2a2a2a"/>
<line x1="131.47" x2="131.47" y1="303.1" y2="309" stroke="#959595" stroke-width="1.2"/>
<line x1="131.47" x2="131.47" y1="313.9" y2="317.1" stroke="#959595" stroke-width="1.2"/>
<line x1="130.71" x2="132.23" y1="303.1" y2="303.1" stroke="#959595" stroke-width="1.2"/>
<line x1="130.71" x2="132.23" y1="317.1" y2="317.1" stroke="#959595" stroke-width="1.2"/>
<rect x="130.00" y="309" width="2.94" height="4.90" fill="#fdb83f" stroke="#505050" stroke-width="0.5"/>
<line x1="130.00" x2="132.94" y1="311.5" y2="311.5" stroke="#505050" stroke-width="0.6"/>
<circle cx="131.47" cy="301.2" r="0.9" fill="#2a2a2a"/>
<line x1="134.50" x2="134.50" y1="297.5" y2="306.8" stroke="#959595" stroke-width="1.2"/>
<line x1="134.50" x2="134.50" y1="312.4" y2="317.1" stroke="#959595" stroke-width="1.2"/>
<line x1="133.74" x2="135.26" y1="297.5" y2="297.5" stroke="#959595" stroke-width="1.2"/>
<line x1="133.74" x2="135.26" y1="317.1" y2="317.1" stroke="#959595" stroke-width="1.2"/>
<rect x="133.04" y="306.8" width="2.94" height="5.60" fill="#f9842f" stroke="#505050" stroke-width="0.5"/>
<line x1="133.04" x2="135.97" y1="309.6" y2="309.6" stroke="#505050" stroke-width="0.6"/>
<circle cx="134.50" cy="295.2" r="0.9" fill="#2a2a2a"/>
<line x1="137.54" x2="137.54" y1="294.7" y2="307.2" stroke="#959595" stroke-width="1.2"/>
<line x1="137.54" x2="137.54" y1="313.9" y2="317.1" stroke="#959595" stroke-width="1.2"/>
<line x1="136.78" x2="138.30" y1="294.7" y2="294.7" stroke="#959595" stroke-width="1.2"/>
<line x1="136.78" x2="138.30" y1="317.1" y2="317.1" stroke="#959595" stroke-width="1.2"/>
<rect x="136.07" y="307.2" width="2.94" height="6.70" fill="#f45430" stroke="#505050" stroke-width="0.5"/>
<line x1="136.07" x2="139.01" y1="310.2" y2="310.2" stroke="#505050" stroke-width="0.6"/>
<circle cx="137.54" cy="285.3" r="0.9" fill="#2a2a2a"/>
<circle cx="137.54" cy="291.5" r="0.9" fill="#2a2a2a"/>
<circle cx="137.54" cy="293.4" r="0.9" fill="#2a2a2a"/>
<line x1="145.13" x2="145.13" y1="302.1" y2="312" stroke="#959595" stroke-width="1.2"/>
<line x1="145.13" x2="145.13" y1="316.1" y2="318" stroke="#959595" stroke-width="1.2"/>
<line x1="144.37" x2="145.89" y1="302.1" y2="302.1" stroke="#959595" stroke-width="1.2"/>
<line x1="144.37" x2="145.89" y1="318" y2="318" stroke="#959595" stroke-width="1.2"/>
<rect x="143.66" y="312" width="2.94" height="4.10" fill="#0b2f86" stroke="#505050" stroke-width="0.5"/>
<line x1="143.66" x2="146.60" y1="313.9" y2="313.9" stroke="#505050" stroke-width="0.6"/>
<line x1="148.16" x2="148.16" y1="305.9" y2="312.4" stroke="#959595" stroke-width="1.2"/>
<line x1="148.16" x2="148.16" y1="316.1" y2="318.4" stroke="#959595" stroke-width="1.2"/>
<line x1="147.40" x2="148.92" y1="305.9" y2="305.9" stroke="#959595" stroke-width="1.2"/>
<line x1="147.40" x2="148.92" y1="318.4" y2="318.4" stroke="#959595" stroke-width="1.2"/>
<rect x="146.70" y="312.4" width="2.94" height="3.70" fill="#66d9ea" stroke="#505050" stroke-width="0.5"/>
<line x1="146.70" x2="149.63" y1="313.9" y2="313.9" stroke="#505050" stroke-width="0.6"/>
<line x1="151.20" x2="151.20" y1="303.4" y2="310.2" stroke="#959595" stroke-width="1.2"/>
<line x1="151.20" x2="151.20" y1="314.6" y2="317.6" stroke="#959595" stroke-width="1.2"/>
<line x1="150.44" x2="151.96" y1="303.4" y2="303.4" stroke="#959595" stroke-width="1.2"/>
<line x1="150.44" x2="151.96" y1="317.6" y2="317.6" stroke="#959595" stroke-width="1.2"/>
<rect x="149.73" y="310.2" width="2.94" height="4.40" fill="#3cba5a" stroke="#505050" stroke-width="0.5"/>
<line x1="149.73" x2="152.67" y1="312.4" y2="312.4" stroke="#505050" stroke-width="0.6"/>
<circle cx="151.20" cy="299.7" r="0.9" fill="#2a2a2a"/>
<line x1="154.23" x2="154.23" y1="300.3" y2="309" stroke="#959595" stroke-width="1.2"/>
<line x1="154.23" x2="154.23" y1="313.9" y2="317.6" stroke="#959595" stroke-width="1.2"/>
<line x1="153.48" x2="154.99" y1="300.3" y2="300.3" stroke="#959595" stroke-width="1.2"/>
<line x1="153.48" x2="154.99" y1="317.6" y2="317.6" stroke="#959595" stroke-width="1.2"/>
<rect x="152.77" y="309" width="2.94" height="4.90" fill="#fdb83f" stroke="#505050" stroke-width="0.5"/>
<line x1="152.77" x2="155.70" y1="310.9" y2="310.9" stroke="#505050" stroke-width="0.6"/>
<circle cx="154.23" cy="297.8" r="0.9" fill="#2a2a2a"/>
<line x1="157.27" x2="157.27" y1="299.7" y2="308.3" stroke="#959595" stroke-width="1.2"/>
<line x1="157.27" x2="157.27" y1="313.3" y2="317.1" stroke="#959595" stroke-width="1.2"/>
<line x1="156.51" x2="158.03" y1="299.7" y2="299.7" stroke="#959595" stroke-width="1.2"/>
<line x1="156.51" x2="158.03" y1="317.1" y2="317.1" stroke="#959595" stroke-width="1.2"/>
<rect x="155.80" y="308.3" width="2.94" height="5.00" fill="#f9842f" stroke="#505050" stroke-width="0.5"/>
<line x1="155.80" x2="158.74" y1="310.5" y2="310.5" stroke="#505050" stroke-width="0.6"/>
<line x1="160.31" x2="160.31" y1="295.2" y2="306.8" stroke="#959595" stroke-width="1.2"/>
<line x1="160.31" x2="160.31" y1="313.9" y2="317.1" stroke="#959595" stroke-width="1.2"/>
<line x1="159.55" x2="161.06" y1="295.2" y2="295.2" stroke="#959595" stroke-width="1.2"/>
<line x1="159.55" x2="161.06" y1="317.1" y2="317.1" stroke="#959595" stroke-width="1.2"/>
<rect x="158.84" y="306.8" width="2.94" height="7.10" fill="#f45430" stroke="#505050" stroke-width="0.5"/>
<line x1="158.84" x2="161.77" y1="309.6" y2="309.6" stroke="#505050" stroke-width="0.6"/>
<circle cx="160.31" cy="269.8" r="0.9" fill="#2a2a2a"/>
<line x1="167.89" x2="167.89" y1="308.3" y2="312.8" stroke="#959595" stroke-width="1.2"/>
<line x1="167.89" x2="167.89" y1="317.1" y2="318.4" stroke="#959595" stroke-width="1.2"/>
<line x1="167.14" x2="168.65" y1="308.3" y2="308.3" stroke="#959595" stroke-width="1.2"/>
<line x1="167.14" x2="168.65" y1="318.4" y2="318.4" stroke="#959595" stroke-width="1.2"/>
<rect x="166.43" y="312.8" width="2.94" height="4.30" fill="#0b2f86" stroke="#505050" stroke-width="0.5"/>
<line x1="166.43" x2="169.36" y1="314.6" y2="314.6" stroke="#505050" stroke-width="0.6"/>
<line x1="173.97" x2="173.97" y1="302.1" y2="310.2" stroke="#959595" stroke-width="1.2"/>
<line x1="173.97" x2="173.97" y1="314.6" y2="317.6" stroke="#959595" stroke-width="1.2"/>
<line x1="173.21" x2="174.72" y1="302.1" y2="302.1" stroke="#959595" stroke-width="1.2"/>
<line x1="173.21" x2="174.72" y1="317.6" y2="317.6" stroke="#959595" stroke-width="1.2"/>
<rect x="172.50" y="310.2" width="2.94" height="4.40" fill="#3cba5a" stroke="#505050" stroke-width="0.5"/>
<line x1="172.50" x2="175.43" y1="312.4" y2="312.4" stroke="#505050" stroke-width="0.6"/>
<circle cx="173.97" cy="299.7" r="0.9" fill="#2a2a2a"/>
<line x1="177.00" x2="177.00" y1="300.3" y2="309" stroke="#959595" stroke-width="1.2"/>
<line x1="177.00" x2="177.00" y1="313.3" y2="317.6" stroke="#959595" stroke-width="1.2"/>
<line x1="176.24" x2="177.76" y1="300.3" y2="300.3" stroke="#959595" stroke-width="1.2"/>
<line x1="176.24" x2="177.76" y1="317.6" y2="317.6" stroke="#959595" stroke-width="1.2"/>
<rect x="175.53" y="309" width="2.94" height="4.30" fill="#fdb83f" stroke="#505050" stroke-width="0.5"/>
<line x1="175.53" x2="178.47" y1="310.5" y2="310.5" stroke="#505050" stroke-width="0.6"/>
<circle cx="177.00" cy="298.4" r="0.9" fill="#2a2a2a"/>
<circle cx="177.00" cy="303.4" r="0.9" fill="#2a2a2a"/>
<circle cx="177.00" cy="305.9" r="0.9" fill="#2a2a2a"/>
<line x1="180.04" x2="180.04" y1="303.4" y2="309.6" stroke="#959595" stroke-width="1.2"/>
<line x1="180.04" x2="180.04" y1="314.3" y2="317.6" stroke="#959595" stroke-width="1.2"/>
<line x1="179.28" x2="180.80" y1="303.4" y2="303.4" stroke="#959595" stroke-width="1.2"/>
<line x1="179.28" x2="180.80" y1="317.6" y2="317.6" stroke="#959595" stroke-width="1.2"/>
<rect x="178.57" y="309.6" width="2.94" height="4.70" fill="#f9842f" stroke="#505050" stroke-width="0.5"/>
<line x1="178.57" x2="181.50" y1="311.5" y2="311.5" stroke="#505050" stroke-width="0.6"/>
<circle cx="180.04" cy="283.5" r="0.9" fill="#2a2a2a"/>
<line x1="183.07" x2="183.07" y1="305.9" y2="311.5" stroke="#959595" stroke-width="1.2"/>
<line x1="183.07" x2="183.07" y1="315.8" y2="317.6" stroke="#959595" stroke-width="1.2"/>
<line x1="182.31" x2="183.83" y1="305.9" y2="305.9" stroke="#959595" stroke-width="1.2"/>
<line x1="182.31" x2="183.83" y1="317.6" y2="317.6" stroke="#959595" stroke-width="1.2"/>
<rect x="181.60" y="311.5" width="2.94" height="4.30" fill="#f45430" stroke="#505050" stroke-width="0.5"/>
<line x1="181.60" x2="184.54" y1="313.3" y2="313.3" stroke="#505050" stroke-width="0.6"/>
<circle cx="183.07" cy="278.8" r="0.9" fill="#2a2a2a"/>
<circle cx="183.07" cy="284.8" r="0.9" fill="#2a2a2a"/>
<circle cx="183.07" cy="299.3" r="0.9" fill="#2a2a2a"/>
<circle cx="183.07" cy="302.1" r="0.9" fill="#2a2a2a"/>
<circle cx="183.07" cy="304.6" r="0.9" fill="#2a2a2a"/>
<circle cx="183.07" cy="306.8" r="0.9" fill="#2a2a2a"/>
<line x1="190.66" x2="190.66" y1="307.2" y2="313.3" stroke="#959595" stroke-width="1.2"/>
<line x1="190.66" x2="190.66" y1="317.6" y2="318.9" stroke="#959595" stroke-width="1.2"/>
<line x1="189.90" x2="191.42" y1="307.2" y2="307.2" stroke="#959595" stroke-width="1.2"/>
<line x1="189.90" x2="191.42" y1="318.9" y2="318.9" stroke="#959595" stroke-width="1.2"/>
<rect x="189.19" y="313.3" width="2.94" height="4.30" fill="#0b2f86" stroke="#505050" stroke-width="0.5"/>
<line x1="189.19" x2="192.13" y1="315.2" y2="315.2" stroke="#505050" stroke-width="0.6"/>
<circle cx="190.66" cy="300.3" r="0.9" fill="#2a2a2a"/>
<circle cx="190.66" cy="304.6" r="0.9" fill="#2a2a2a"/>
<line x1="196.73" x2="196.73" y1="308.3" y2="313.3" stroke="#959595" stroke-width="1.2"/>
<line x1="196.73" x2="196.73" y1="316.5" y2="318.4" stroke="#959595" stroke-width="1.2"/>
<line x1="195.97" x2="197.49" y1="308.3" y2="308.3" stroke="#959595" stroke-width="1.2"/>
<line x1="195.97" x2="197.49" y1="318.4" y2="318.4" stroke="#959595" stroke-width="1.2"/>
<rect x="195.26" y="313.3" width="2.94" height="3.20" fill="#3cba5a" stroke="#505050" stroke-width="0.5"/>
<line x1="195.26" x2="198.20" y1="314.6" y2="314.6" stroke="#505050" stroke-width="0.6"/>
<circle cx="196.73" cy="295.6" r="0.9" fill="#2a2a2a"/>
<circle cx="196.73" cy="304" r="0.9" fill="#2a2a2a"/>
<circle cx="196.73" cy="305.9" r="0.9" fill="#2a2a2a"/>
<line x1="199.77" x2="199.77" y1="300.3" y2="308.7" stroke="#959595" stroke-width="1.2"/>
<line x1="199.77" x2="199.77" y1="314.3" y2="318" stroke="#959595" stroke-width="1.2"/>
<line x1="199.01" x2="200.53" y1="300.3" y2="300.3" stroke="#959595" stroke-width="1.2"/>
<line x1="199.01" x2="200.53" y1="318" y2="318" stroke="#959595" stroke-width="1.2"/>
<rect x="198.30" y="308.7" width="2.94" height="5.60" fill="#fdb83f" stroke="#505050" stroke-width="0.5"/>
<line x1="198.30" x2="201.24" y1="312" y2="312" stroke="#505050" stroke-width="0.6"/>
<circle cx="199.77" cy="286.6" r="0.9" fill="#2a2a2a"/>
<circle cx="199.77" cy="293.7" r="0.9" fill="#2a2a2a"/>
<line x1="202.80" x2="202.80" y1="294.7" y2="309.6" stroke="#959595" stroke-width="1.2"/>
<line x1="202.80" x2="202.80" y1="316.5" y2="318.4" stroke="#959595" stroke-width="1.2"/>
<line x1="202.04" x2="203.56" y1="294.7" y2="294.7" stroke="#959595" stroke-width="1.2"/>
<line x1="202.04" x2="203.56" y1="318.4" y2="318.4" stroke="#959595" stroke-width="1.2"/>
<rect x="201.34" y="309.6" width="2.94" height="6.90" fill="#f9842f" stroke="#505050" stroke-width="0.5"/>
<line x1="201.34" x2="204.27" y1="313.3" y2="313.3" stroke="#505050" stroke-width="0.6"/>
<circle cx="202.80" cy="293.7" r="0.9" fill="#2a2a2a"/>
<line x1="205.84" x2="205.84" y1="303.4" y2="309.6" stroke="#959595" stroke-width="1.2"/>
<line x1="205.84" x2="205.84" y1="314.6" y2="317.6" stroke="#959595" stroke-width="1.2"/>
<line x1="205.08" x2="206.60" y1="303.4" y2="303.4" stroke="#959595" stroke-width="1.2"/>
<line x1="205.08" x2="206.60" y1="317.6" y2="317.6" stroke="#959595" stroke-width="1.2"/>
<rect x="204.37" y="309.6" width="2.94" height="5.00" fill="#f45430" stroke="#505050" stroke-width="0.5"/>
<line x1="204.37" x2="207.31" y1="312" y2="312" stroke="#505050" stroke-width="0.6"/>
<circle cx="205.84" cy="296.5" r="0.9" fill="#2a2a2a"/>
<line x1="213.43" x2="213.43" y1="300.3" y2="309.6" stroke="#959595" stroke-width="1.2"/>
<line x1="213.43" x2="213.43" y1="314.6" y2="317.6" stroke="#959595" stroke-width="1.2"/>
<line x1="212.67" x2="214.19" y1="300.3" y2="300.3" stroke="#959595" stroke-width="1.2"/>
<line x1="212.67" x2="214.19" y1="317.6" y2="317.6" stroke="#959595" stroke-width="1.2"/>
<rect x="211.96" y="309.6" width="2.94" height="5.00" fill="#0b2f86" stroke="#505050" stroke-width="0.5"/>
<line x1="211.96" x2="214.90" y1="312.4" y2="312.4" stroke="#505050" stroke-width="0.6"/>
<line x1="219.50" x2="219.50" y1="306.8" y2="312" stroke="#959595" stroke-width="1.2"/>
<line x1="219.50" x2="219.50" y1="315.8" y2="318.4" stroke="#959595" stroke-width="1.2"/>
<line x1="218.74" x2="220.26" y1="306.8" y2="306.8" stroke="#959595" stroke-width="1.2"/>
<line x1="218.74" x2="220.26" y1="318.4" y2="318.4" stroke="#959595" stroke-width="1.2"/>
<rect x="218.03" y="312" width="2.94" height="3.80" fill="#3cba5a" stroke="#505050" stroke-width="0.5"/>
<line x1="218.03" x2="220.97" y1="313.3" y2="313.3" stroke="#505050" stroke-width="0.6"/>
<circle cx="219.50" cy="301.6" r="0.9" fill="#2a2a2a"/>
<circle cx="219.50" cy="304" r="0.9" fill="#2a2a2a"/>
<line x1="222.53" x2="222.53" y1="302.1" y2="310.9" stroke="#959595" stroke-width="1.2"/>
<line x1="222.53" x2="222.53" y1="314.6" y2="317.6" stroke="#959595" stroke-width="1.2"/>
<line x1="221.78" x2="223.29" y1="302.1" y2="302.1" stroke="#959595" stroke-width="1.2"/>
<line x1="221.78" x2="223.29" y1="317.6" y2="317.6" stroke="#959595" stroke-width="1.2"/>
<rect x="221.07" y="310.9" width="2.94" height="3.70" fill="#fdb83f" stroke="#505050" stroke-width="0.5"/>
<line x1="221.07" x2="224.00" y1="312.4" y2="312.4" stroke="#505050" stroke-width="0.6"/>
<circle cx="222.53" cy="299.3" r="0.9" fill="#2a2a2a"/>
<circle cx="222.53" cy="300.8" r="0.9" fill="#2a2a2a"/>
<circle cx="222.53" cy="302.7" r="0.9" fill="#2a2a2a"/>
<circle cx="222.53" cy="304.6" r="0.9" fill="#2a2a2a"/>
<line x1="225.57" x2="225.57" y1="299.7" y2="304" stroke="#959595" stroke-width="1.2"/>
<line x1="225.57" x2="225.57" y1="310.5" y2="316.1" stroke="#959595" stroke-width="1.2"/>
<line x1="224.81" x2="226.33" y1="299.7" y2="299.7" stroke="#959595" stroke-width="1.2"/>
<line x1="224.81" x2="226.33" y1="316.1" y2="316.1" stroke="#959595" stroke-width="1.2"/>
<rect x="224.10" y="304" width="2.94" height="6.50" fill="#f9842f" stroke="#505050" stroke-width="0.5"/>
<line x1="224.10" x2="227.04" y1="307.2" y2="307.2" stroke="#505050" stroke-width="0.6"/>
<line x1="228.61" x2="228.61" y1="300.8" y2="310.9" stroke="#959595" stroke-width="1.2"/>
<line x1="228.61" x2="228.61" y1="315.8" y2="318.4" stroke="#959595" stroke-width="1.2"/>
<line x1="227.85" x2="229.36" y1="300.8" y2="300.8" stroke="#959595" stroke-width="1.2"/>
<line x1="227.85" x2="229.36" y1="318.4" y2="318.4" stroke="#959595" stroke-width="1.2"/>
<rect x="227.14" y="310.9" width="2.94" height="4.90" fill="#f45430" stroke="#505050" stroke-width="0.5"/>
<line x1="227.14" x2="230.07" y1="313.3" y2="313.3" stroke="#505050" stroke-width="0.6"/>
<circle cx="228.61" cy="298.4" r="0.9" fill="#2a2a2a"/>
<rect x="259.4" y="237.0" width="204.90" height="85.60" fill="#e8e9f2"/>
<line x1="259.4" x2="464.3" y1="240.4" y2="240.4" stroke="#f8f8fb" stroke-width="0.9"/>
<text x="254.89999999999998" y="243.0" font-size="7.45" fill="#262626" text-anchor="end">25</text>
<line x1="259.4" x2="464.3" y1="259.7" y2="259.7" stroke="#f8f8fb" stroke-width="0.9"/>
<text x="254.89999999999998" y="262.3" font-size="7.45" fill="#262626" text-anchor="end">20</text>
<line x1="259.4" x2="464.3" y1="278.8" y2="278.8" stroke="#f8f8fb" stroke-width="0.9"/>
<text x="254.89999999999998" y="281.40000000000003" font-size="7.45" fill="#262626" text-anchor="end">15</text>
<line x1="259.4" x2="464.3" y1="297.4" y2="297.4" stroke="#f8f8fb" stroke-width="0.9"/>
<text x="254.89999999999998" y="300.0" font-size="7.45" fill="#262626" text-anchor="end">10</text>
<line x1="259.4" x2="464.3" y1="316.1" y2="316.1" stroke="#f8f8fb" stroke-width="0.9"/>
<text x="254.89999999999998" y="318.70000000000005" font-size="7.45" fill="#262626" text-anchor="end">5</text>
<text class="b" x="361.85" y="234.95" font-size="8.1" fill="#262626" text-anchor="middle">Cellulose (%)</text>
<line x1="263.19" x2="263.19" y1="258.6" y2="271" stroke="#959595" stroke-width="1.2"/>
<line x1="263.19" x2="263.19" y1="286.6" y2="303.4" stroke="#959595" stroke-width="1.2"/>
<line x1="262.44" x2="263.95" y1="258.6" y2="258.6" stroke="#959595" stroke-width="1.2"/>
<line x1="262.44" x2="263.95" y1="303.4" y2="303.4" stroke="#959595" stroke-width="1.2"/>
<rect x="261.73" y="271" width="2.94" height="15.60" fill="#0b2f86" stroke="#505050" stroke-width="0.5"/>
<line x1="261.73" x2="264.66" y1="276.9" y2="276.9" stroke="#505050" stroke-width="0.6"/>
<circle cx="263.19" cy="242.4" r="0.9" fill="#2a2a2a"/>
<circle cx="263.19" cy="247.4" r="0.9" fill="#2a2a2a"/>
<line x1="266.23" x2="266.23" y1="256" y2="275.1" stroke="#959595" stroke-width="1.2"/>
<line x1="266.23" x2="266.23" y1="287.8" y2="293.7" stroke="#959595" stroke-width="1.2"/>
<line x1="265.47" x2="266.99" y1="256" y2="256" stroke="#959595" stroke-width="1.2"/>
<line x1="265.47" x2="266.99" y1="293.7" y2="293.7" stroke="#959595" stroke-width="1.2"/>
<rect x="264.76" y="275.1" width="2.94" height="12.70" fill="#66d9ea" stroke="#505050" stroke-width="0.5"/>
<line x1="264.76" x2="267.70" y1="280.3" y2="280.3" stroke="#505050" stroke-width="0.6"/>
<circle cx="266.23" cy="248.6" r="0.9" fill="#2a2a2a"/>
<circle cx="266.23" cy="250.4" r="0.9" fill="#2a2a2a"/>
<circle cx="266.23" cy="252.7" r="0.9" fill="#2a2a2a"/>
<line x1="269.27" x2="269.27" y1="263.9" y2="269.5" stroke="#959595" stroke-width="1.2"/>
<line x1="269.27" x2="269.27" y1="279.2" y2="290" stroke="#959595" stroke-width="1.2"/>
<line x1="268.51" x2="270.02" y1="263.9" y2="263.9" stroke="#959595" stroke-width="1.2"/>
<line x1="268.51" x2="270.02" y1="290" y2="290" stroke="#959595" stroke-width="1.2"/>
<rect x="267.80" y="269.5" width="2.94" height="9.70" fill="#3cba5a" stroke="#505050" stroke-width="0.5"/>
<line x1="267.80" x2="270.73" y1="274.1" y2="274.1" stroke="#505050" stroke-width="0.6"/>
<line x1="272.30" x2="272.30" y1="258.6" y2="269.8" stroke="#959595" stroke-width="1.2"/>
<line x1="272.30" x2="272.30" y1="280.3" y2="294.7" stroke="#959595" stroke-width="1.2"/>
<line x1="271.54" x2="273.06" y1="258.6" y2="258.6" stroke="#959595" stroke-width="1.2"/>
<line x1="271.54" x2="273.06" y1="294.7" y2="294.7" stroke="#959595" stroke-width="1.2"/>
<rect x="270.83" y="269.8" width="2.94" height="10.50" fill="#fdb83f" stroke="#505050" stroke-width="0.5"/>
<line x1="270.83" x2="273.77" y1="273.2" y2="273.2" stroke="#505050" stroke-width="0.6"/>
<line x1="275.34" x2="275.34" y1="262" y2="273.2" stroke="#959595" stroke-width="1.2"/>
<line x1="275.34" x2="275.34" y1="281.6" y2="290" stroke="#959595" stroke-width="1.2"/>
<line x1="274.58" x2="276.10" y1="262" y2="262" stroke="#959595" stroke-width="1.2"/>
<line x1="274.58" x2="276.10" y1="290" y2="290" stroke="#959595" stroke-width="1.2"/>
<rect x="273.87" y="273.2" width="2.94" height="8.40" fill="#f9842f" stroke="#505050" stroke-width="0.5"/>
<line x1="273.87" x2="276.80" y1="277.3" y2="277.3" stroke="#505050" stroke-width="0.6"/>
<line x1="278.37" x2="278.37" y1="263.5" y2="271.3" stroke="#959595" stroke-width="1.2"/>
<line x1="278.37" x2="278.37" y1="279.2" y2="289.6" stroke="#959595" stroke-width="1.2"/>
<line x1="277.61" x2="279.13" y1="263.5" y2="263.5" stroke="#959595" stroke-width="1.2"/>
<line x1="277.61" x2="279.13" y1="289.6" y2="289.6" stroke="#959595" stroke-width="1.2"/>
<rect x="276.90" y="271.3" width="2.94" height="7.90" fill="#f45430" stroke="#505050" stroke-width="0.5"/>
<line x1="276.90" x2="279.84" y1="274.7" y2="274.7" stroke="#505050" stroke-width="0.6"/>
<circle cx="278.37" cy="256" r="0.9" fill="#2a2a2a"/>
<line x1="285.96" x2="285.96" y1="263.5" y2="276.6" stroke="#959595" stroke-width="1.2"/>
<line x1="285.96" x2="285.96" y1="286.6" y2="302.1" stroke="#959595" stroke-width="1.2"/>
<line x1="285.20" x2="286.72" y1="263.5" y2="263.5" stroke="#959595" stroke-width="1.2"/>
<line x1="285.20" x2="286.72" y1="302.1" y2="302.1" stroke="#959595" stroke-width="1.2"/>
<rect x="284.49" y="276.6" width="2.94" height="10.00" fill="#0b2f86" stroke="#505050" stroke-width="0.5"/>
<line x1="284.49" x2="287.43" y1="281.6" y2="281.6" stroke="#505050" stroke-width="0.6"/>
<line x1="289.00" x2="289.00" y1="272.3" y2="282.9" stroke="#959595" stroke-width="1.2"/>
<line x1="289.00" x2="289.00" y1="292.8" y2="302.1" stroke="#959595" stroke-width="1.2"/>
<line x1="288.24" x2="289.76" y1="272.3" y2="272.3" stroke="#959595" stroke-width="1.2"/>
<line x1="288.24" x2="289.76" y1="302.1" y2="302.1" stroke="#959595" stroke-width="1.2"/>
<rect x="287.53" y="282.9" width="2.94" height="9.90" fill="#66d9ea" stroke="#505050" stroke-width="0.5"/>
<line x1="287.53" x2="290.46" y1="289.1" y2="289.1" stroke="#505050" stroke-width="0.6"/>
<line x1="292.03" x2="292.03" y1="265.7" y2="274.1" stroke="#959595" stroke-width="1.2"/>
<line x1="292.03" x2="292.03" y1="284.4" y2="298.4" stroke="#959595" stroke-width="1.2"/>
<line x1="291.27" x2="292.79" y1="265.7" y2="265.7" stroke="#959595" stroke-width="1.2"/>
<line x1="291.27" x2="292.79" y1="298.4" y2="298.4" stroke="#959595" stroke-width="1.2"/>
<rect x="290.56" y="274.1" width="2.94" height="10.30" fill="#3cba5a" stroke="#505050" stroke-width="0.5"/>
<line x1="290.56" x2="293.50" y1="278.8" y2="278.8" stroke="#505050" stroke-width="0.6"/>
<line x1="295.07" x2="295.07" y1="265.4" y2="274.7" stroke="#959595" stroke-width="1.2"/>
<line x1="295.07" x2="295.07" y1="282.9" y2="294.7" stroke="#959595" stroke-width="1.2"/>
<line x1="294.31" x2="295.83" y1="265.4" y2="265.4" stroke="#959595" stroke-width="1.2"/>
<line x1="294.31" x2="295.83" y1="294.7" y2="294.7" stroke="#959595" stroke-width="1.2"/>
<rect x="293.60" y="274.7" width="2.94" height="8.20" fill="#fdb83f" stroke="#505050" stroke-width="0.5"/>
<line x1="293.60" x2="296.54" y1="277.9" y2="277.9" stroke="#505050" stroke-width="0.6"/>
<line x1="298.10" x2="298.10" y1="263.9" y2="272.3" stroke="#959595" stroke-width="1.2"/>
<line x1="298.10" x2="298.10" y1="279.2" y2="290" stroke="#959595" stroke-width="1.2"/>
<line x1="297.34" x2="298.86" y1="263.9" y2="263.9" stroke="#959595" stroke-width="1.2"/>
<line x1="297.34" x2="298.86" y1="290" y2="290" stroke="#959595" stroke-width="1.2"/>
<rect x="296.64" y="272.3" width="2.94" height="6.90" fill="#f9842f" stroke="#505050" stroke-width="0.5"/>
<line x1="296.64" x2="299.57" y1="276" y2="276" stroke="#505050" stroke-width="0.6"/>
<circle cx="298.10" cy="246.1" r="0.9" fill="#2a2a2a"/>
<circle cx="298.10" cy="292.2" r="0.9" fill="#2a2a2a"/>
<circle cx="298.10" cy="300.8" r="0.9" fill="#2a2a2a"/>
<line x1="301.14" x2="301.14" y1="257.3" y2="268.5" stroke="#959595" stroke-width="1.2"/>
<line x1="301.14" x2="301.14" y1="277.9" y2="289.1" stroke="#959595" stroke-width="1.2"/>
<line x1="300.38" x2="301.90" y1="257.3" y2="257.3" stroke="#959595" stroke-width="1.2"/>
<line x1="300.38" x2="301.90" y1="289.1" y2="289.1" stroke="#959595" stroke-width="1.2"/>
<rect x="299.67" y="268.5" width="2.94" height="9.40" fill="#f45430" stroke="#505050" stroke-width="0.5"/>
<line x1="299.67" x2="302.61" y1="272.8" y2="272.8" stroke="#505050" stroke-width="0.6"/>
<circle cx="301.14" cy="241.1" r="0.9" fill="#2a2a2a"/>
<circle cx="301.14" cy="247.4" r="0.9" fill="#2a2a2a"/>
<circle cx="301.14" cy="251.7" r="0.9" fill="#2a2a2a"/>
<circle cx="301.14" cy="294.7" r="0.9" fill="#2a2a2a"/>
<circle cx="301.14" cy="303.4" r="0.9" fill="#2a2a2a"/>
<circle cx="301.14" cy="305.9" r="0.9" fill="#2a2a2a"/>
<line x1="308.73" x2="308.73" y1="263.5" y2="276" stroke="#959595" stroke-width="1.2"/>
<line x1="308.73" x2="308.73" y1="290.4" y2="300.3" stroke="#959595" stroke-width="1.2"/>
<line x1="307.97" x2="309.49" y1="263.5" y2="263.5" stroke="#959595" stroke-width="1.2"/>
<line x1="307.97" x2="309.49" y1="300.3" y2="300.3" stroke="#959595" stroke-width="1.2"/>
<rect x="307.26" y="276" width="2.94" height="14.40" fill="#0b2f86" stroke="#505050" stroke-width="0.5"/>
<line x1="307.26" x2="310.20" y1="282.5" y2="282.5" stroke="#505050" stroke-width="0.6"/>
<circle cx="308.73" cy="254.2" r="0.9" fill="#2a2a2a"/>
<line x1="311.76" x2="311.76" y1="272.3" y2="282.9" stroke="#959595" stroke-width="1.2"/>
<line x1="311.76" x2="311.76" y1="293.4" y2="304.6" stroke="#959595" stroke-width="1.2"/>
<line x1="311.00" x2="312.52" y1="272.3" y2="272.3" stroke="#959595" stroke-width="1.2"/>
<line x1="311.00" x2="312.52" y1="304.6" y2="304.6" stroke="#959595" stroke-width="1.2"/>
<rect x="310.30" y="282.9" width="2.94" height="10.50" fill="#66d9ea" stroke="#505050" stroke-width="0.5"/>
<line x1="310.30" x2="313.23" y1="288.1" y2="288.1" stroke="#505050" stroke-width="0.6"/>
<line x1="314.80" x2="314.80" y1="267.6" y2="273.6" stroke="#959595" stroke-width="1.2"/>
<line x1="314.80" x2="314.80" y1="287.2" y2="303.1" stroke="#959595" stroke-width="1.2"/>
<line x1="314.04" x2="315.56" y1="267.6" y2="267.6" stroke="#959595" stroke-width="1.2"/>
<line x1="314.04" x2="315.56" y1="303.1" y2="303.1" stroke="#959595" stroke-width="1.2"/>
<rect x="313.33" y="273.6" width="2.94" height="13.60" fill="#3cba5a" stroke="#505050" stroke-width="0.5"/>
<line x1="313.33" x2="316.27" y1="282.5" y2="282.5" stroke="#505050" stroke-width="0.6"/>
<line x1="317.83" x2="317.83" y1="258.3" y2="272.8" stroke="#959595" stroke-width="1.2"/>
<line x1="317.83" x2="317.83" y1="280.7" y2="290" stroke="#959595" stroke-width="1.2"/>
<line x1="317.08" x2="318.59" y1="258.3" y2="258.3" stroke="#959595" stroke-width="1.2"/>
<line x1="317.08" x2="318.59" y1="290" y2="290" stroke="#959595" stroke-width="1.2"/>
<rect x="316.37" y="272.8" width="2.94" height="7.90" fill="#fdb83f" stroke="#505050" stroke-width="0.5"/>
<line x1="316.37" x2="319.30" y1="277.3" y2="277.3" stroke="#505050" stroke-width="0.6"/>
<circle cx="317.83" cy="245.6" r="0.9" fill="#2a2a2a"/>
<circle cx="317.83" cy="254.9" r="0.9" fill="#2a2a2a"/>
<circle cx="317.83" cy="256.4" r="0.9" fill="#2a2a2a"/>
<circle cx="317.83" cy="257.9" r="0.9" fill="#2a2a2a"/>
<line x1="320.87" x2="320.87" y1="257.9" y2="275.1" stroke="#959595" stroke-width="1.2"/>
<line x1="320.87" x2="320.87" y1="282.9" y2="292.2" stroke="#959595" stroke-width="1.2"/>
<line x1="320.11" x2="321.63" y1="257.9" y2="257.9" stroke="#959595" stroke-width="1.2"/>
<line x1="320.11" x2="321.63" y1="292.2" y2="292.2" stroke="#959595" stroke-width="1.2"/>
<rect x="319.40" y="275.1" width="2.94" height="7.80" fill="#f9842f" stroke="#505050" stroke-width="0.5"/>
<line x1="319.40" x2="322.34" y1="278.8" y2="278.8" stroke="#505050" stroke-width="0.6"/>
<circle cx="320.87" cy="295.6" r="0.9" fill="#2a2a2a"/>
<circle cx="320.87" cy="299.3" r="0.9" fill="#2a2a2a"/>
<circle cx="320.87" cy="302.7" r="0.9" fill="#2a2a2a"/>
<line x1="323.91" x2="323.91" y1="251.7" y2="269.8" stroke="#959595" stroke-width="1.2"/>
<line x1="323.91" x2="323.91" y1="283.5" y2="293.4" stroke="#959595" stroke-width="1.2"/>
<line x1="323.15" x2="324.66" y1="251.7" y2="251.7" stroke="#959595" stroke-width="1.2"/>
<line x1="323.15" x2="324.66" y1="293.4" y2="293.4" stroke="#959595" stroke-width="1.2"/>
<rect x="322.44" y="269.8" width="2.94" height="13.70" fill="#f45430" stroke="#505050" stroke-width="0.5"/>
<line x1="322.44" x2="325.37" y1="276.6" y2="276.6" stroke="#505050" stroke-width="0.6"/>
<line x1="331.49" x2="331.49" y1="256.8" y2="277.9" stroke="#959595" stroke-width="1.2"/>
<line x1="331.49" x2="331.49" y1="294.7" y2="310.5" stroke="#959595" stroke-width="1.2"/>
<line x1="330.74" x2="332.25" y1="256.8" y2="256.8" stroke="#959595" stroke-width="1.2"/>
<line x1="330.74" x2="332.25" y1="310.5" y2="310.5" stroke="#959595" stroke-width="1.2"/>
<rect x="330.03" y="277.9" width="2.94" height="16.80" fill="#0b2f86" stroke="#505050" stroke-width="0.5"/>
<line x1="330.03" x2="332.96" y1="286.3" y2="286.3" stroke="#505050" stroke-width="0.6"/>
<line x1="334.53" x2="334.53" y1="271" y2="281.6" stroke="#959595" stroke-width="1.2"/>
<line x1="334.53" x2="334.53" y1="297.1" y2="313.3" stroke="#959595" stroke-width="1.2"/>
<line x1="333.77" x2="335.29" y1="271" y2="271" stroke="#959595" stroke-width="1.2"/>
<line x1="333.77" x2="335.29" y1="313.3" y2="313.3" stroke="#959595" stroke-width="1.2"/>
<rect x="333.06" y="281.6" width="2.94" height="15.50" fill="#66d9ea" stroke="#505050" stroke-width="0.5"/>
<line x1="333.06" x2="336.00" y1="288.1" y2="288.1" stroke="#505050" stroke-width="0.6"/>
<line x1="337.57" x2="337.57" y1="257.3" y2="275.4" stroke="#959595" stroke-width="1.2"/>
<line x1="337.57" x2="337.57" y1="288.1" y2="302.1" stroke="#959595" stroke-width="1.2"/>
<line x1="336.81" x2="338.32" y1="257.3" y2="257.3" stroke="#959595" stroke-width="1.2"/>
<line x1="336.81" x2="338.32" y1="302.1" y2="302.1" stroke="#959595" stroke-width="1.2"/>
<rect x="336.10" y="275.4" width="2.94" height="12.70" fill="#3cba5a" stroke="#505050" stroke-width="0.5"/>
<line x1="336.10" x2="339.03" y1="279.7" y2="279.7" stroke="#505050" stroke-width="0.6"/>
<line x1="340.60" x2="340.60" y1="252.7" y2="270.4" stroke="#959595" stroke-width="1.2"/>
<line x1="340.60" x2="340.60" y1="281" y2="295.2" stroke="#959595" stroke-width="1.2"/>
<line x1="339.84" x2="341.36" y1="252.7" y2="252.7" stroke="#959595" stroke-width="1.2"/>
<line x1="339.84" x2="341.36" y1="295.2" y2="295.2" stroke="#959595" stroke-width="1.2"/>
<rect x="339.13" y="270.4" width="2.94" height="10.60" fill="#fdb83f" stroke="#505050" stroke-width="0.5"/>
<line x1="339.13" x2="342.07" y1="276" y2="276" stroke="#505050" stroke-width="0.6"/>
<circle cx="340.60" cy="247.4" r="0.9" fill="#2a2a2a"/>
<circle cx="340.60" cy="249.9" r="0.9" fill="#2a2a2a"/>
<line x1="343.64" x2="343.64" y1="262" y2="275.4" stroke="#959595" stroke-width="1.2"/>
<line x1="343.64" x2="343.64" y1="285.3" y2="299.3" stroke="#959595" stroke-width="1.2"/>
<line x1="342.88" x2="344.40" y1="262" y2="262" stroke="#959595" stroke-width="1.2"/>
<line x1="342.88" x2="344.40" y1="299.3" y2="299.3" stroke="#959595" stroke-width="1.2"/>
<rect x="342.17" y="275.4" width="2.94" height="9.90" fill="#f9842f" stroke="#505050" stroke-width="0.5"/>
<line x1="342.17" x2="345.10" y1="278.4" y2="278.4" stroke="#505050" stroke-width="0.6"/>
<circle cx="343.64" cy="257.9" r="0.9" fill="#2a2a2a"/>
<line x1="346.67" x2="346.67" y1="260.1" y2="273.6" stroke="#959595" stroke-width="1.2"/>
<line x1="346.67" x2="346.67" y1="284" y2="298.4" stroke="#959595" stroke-width="1.2"/>
<line x1="345.91" x2="347.43" y1="260.1" y2="260.1" stroke="#959595" stroke-width="1.2"/>
<line x1="345.91" x2="347.43" y1="298.4" y2="298.4" stroke="#959595" stroke-width="1.2"/>
<rect x="345.20" y="273.6" width="2.94" height="10.40" fill="#f45430" stroke="#505050" stroke-width="0.5"/>
<line x1="345.20" x2="348.14" y1="278.8" y2="278.8" stroke="#505050" stroke-width="0.6"/>
<circle cx="346.67" cy="255.5" r="0.9" fill="#2a2a2a"/>
<line x1="354.26" x2="354.26" y1="276" y2="289.6" stroke="#959595" stroke-width="1.2"/>
<line x1="354.26" x2="354.26" y1="299.7" y2="307.2" stroke="#959595" stroke-width="1.2"/>
<line x1="353.50" x2="355.02" y1="276" y2="276" stroke="#959595" stroke-width="1.2"/>
<line x1="353.50" x2="355.02" y1="307.2" y2="307.2" stroke="#959595" stroke-width="1.2"/>
<rect x="352.79" y="289.6" width="2.94" height="10.10" fill="#0b2f86" stroke="#505050" stroke-width="0.5"/>
<line x1="352.79" x2="355.73" y1="293.7" y2="293.7" stroke="#505050" stroke-width="0.6"/>
<circle cx="354.26" cy="272.8" r="0.9" fill="#2a2a2a"/>
<line x1="357.30" x2="357.30" y1="271.3" y2="287.8" stroke="#959595" stroke-width="1.2"/>
<line x1="357.30" x2="357.30" y1="297.8" y2="310.5" stroke="#959595" stroke-width="1.2"/>
<line x1="356.54" x2="358.06" y1="271.3" y2="271.3" stroke="#959595" stroke-width="1.2"/>
<line x1="356.54" x2="358.06" y1="310.5" y2="310.5" stroke="#959595" stroke-width="1.2"/>
<rect x="355.83" y="287.8" width="2.94" height="10.00" fill="#66d9ea" stroke="#505050" stroke-width="0.5"/>
<line x1="355.83" x2="358.76" y1="291.9" y2="291.9" stroke="#505050" stroke-width="0.6"/>
<line x1="360.33" x2="360.33" y1="262.4" y2="282.2" stroke="#959595" stroke-width="1.2"/>
<line x1="360.33" x2="360.33" y1="297.5" y2="305.9" stroke="#959595" stroke-width="1.2"/>
<line x1="359.57" x2="361.09" y1="262.4" y2="262.4" stroke="#959595" stroke-width="1.2"/>
<line x1="359.57" x2="361.09" y1="305.9" y2="305.9" stroke="#959595" stroke-width="1.2"/>
<rect x="358.86" y="282.2" width="2.94" height="15.30" fill="#3cba5a" stroke="#505050" stroke-width="0.5"/>
<line x1="358.86" x2="361.80" y1="288.1" y2="288.1" stroke="#505050" stroke-width="0.6"/>
<line x1="363.37" x2="363.37" y1="272.3" y2="283.5" stroke="#959595" stroke-width="1.2"/>
<line x1="363.37" x2="363.37" y1="297.5" y2="309" stroke="#959595" stroke-width="1.2"/>
<line x1="362.61" x2="364.13" y1="272.3" y2="272.3" stroke="#959595" stroke-width="1.2"/>
<line x1="362.61" x2="364.13" y1="309" y2="309" stroke="#959595" stroke-width="1.2"/>
<rect x="361.90" y="283.5" width="2.94" height="14.00" fill="#fdb83f" stroke="#505050" stroke-width="0.5"/>
<line x1="361.90" x2="364.84" y1="289.1" y2="289.1" stroke="#505050" stroke-width="0.6"/>
<line x1="366.40" x2="366.40" y1="266.1" y2="277.3" stroke="#959595" stroke-width="1.2"/>
<line x1="366.40" x2="366.40" y1="293.4" y2="308.7" stroke="#959595" stroke-width="1.2"/>
<line x1="365.64" x2="367.16" y1="266.1" y2="266.1" stroke="#959595" stroke-width="1.2"/>
<line x1="365.64" x2="367.16" y1="308.7" y2="308.7" stroke="#959595" stroke-width="1.2"/>
<rect x="364.94" y="277.3" width="2.94" height="16.10" fill="#f9842f" stroke="#505050" stroke-width="0.5"/>
<line x1="364.94" x2="367.87" y1="282.2" y2="282.2" stroke="#505050" stroke-width="0.6"/>
<line x1="369.44" x2="369.44" y1="258.3" y2="275.1" stroke="#959595" stroke-width="1.2"/>
<line x1="369.44" x2="369.44" y1="294.7" y2="310.9" stroke="#959595" stroke-width="1.2"/>
<line x1="368.68" x2="370.20" y1="258.3" y2="258.3" stroke="#959595" stroke-width="1.2"/>
<line x1="368.68" x2="370.20" y1="310.9" y2="310.9" stroke="#959595" stroke-width="1.2"/>
<rect x="367.97" y="275.1" width="2.94" height="19.60" fill="#f45430" stroke="#505050" stroke-width="0.5"/>
<line x1="367.97" x2="370.91" y1="284.4" y2="284.4" stroke="#505050" stroke-width="0.6"/>
<line x1="377.03" x2="377.03" y1="276" y2="292.2" stroke="#959595" stroke-width="1.2"/>
<line x1="377.03" x2="377.03" y1="303.1" y2="310.5" stroke="#959595" stroke-width="1.2"/>
<line x1="376.27" x2="377.79" y1="276" y2="276" stroke="#959595" stroke-width="1.2"/>
<line x1="376.27" x2="377.79" y1="310.5" y2="310.5" stroke="#959595" stroke-width="1.2"/>
<rect x="375.56" y="292.2" width="2.94" height="10.90" fill="#0b2f86" stroke="#505050" stroke-width="0.5"/>
<line x1="375.56" x2="378.50" y1="297.5" y2="297.5" stroke="#505050" stroke-width="0.6"/>
<line x1="380.06" x2="380.06" y1="274.1" y2="291.9" stroke="#959595" stroke-width="1.2"/>
<line x1="380.06" x2="380.06" y1="303.4" y2="310.5" stroke="#959595" stroke-width="1.2"/>
<line x1="379.30" x2="380.82" y1="274.1" y2="274.1" stroke="#959595" stroke-width="1.2"/>
<line x1="379.30" x2="380.82" y1="310.5" y2="310.5" stroke="#959595" stroke-width="1.2"/>
<rect x="378.60" y="291.9" width="2.94" height="11.50" fill="#66d9ea" stroke="#505050" stroke-width="0.5"/>
<line x1="378.60" x2="381.53" y1="297.5" y2="297.5" stroke="#505050" stroke-width="0.6"/>
<line x1="383.10" x2="383.10" y1="275.1" y2="287.2" stroke="#959595" stroke-width="1.2"/>
<line x1="383.10" x2="383.10" y1="298.4" y2="314.3" stroke="#959595" stroke-width="1.2"/>
<line x1="382.34" x2="383.86" y1="275.1" y2="275.1" stroke="#959595" stroke-width="1.2"/>
<line x1="382.34" x2="383.86" y1="314.3" y2="314.3" stroke="#959595" stroke-width="1.2"/>
<rect x="381.63" y="287.2" width="2.94" height="11.20" fill="#3cba5a" stroke="#505050" stroke-width="0.5"/>
<line x1="381.63" x2="384.57" y1="292.8" y2="292.8" stroke="#505050" stroke-width="0.6"/>
<line x1="386.13" x2="386.13" y1="267.2" y2="281" stroke="#959595" stroke-width="1.2"/>
<line x1="386.13" x2="386.13" y1="294.7" y2="309.6" stroke="#959595" stroke-width="1.2"/>
<line x1="385.38" x2="386.89" y1="267.2" y2="267.2" stroke="#959595" stroke-width="1.2"/>
<line x1="385.38" x2="386.89" y1="309.6" y2="309.6" stroke="#959595" stroke-width="1.2"/>
<rect x="384.67" y="281" width="2.94" height="13.70" fill="#fdb83f" stroke="#505050" stroke-width="0.5"/>
<line x1="384.67" x2="387.60" y1="285.3" y2="285.3" stroke="#505050" stroke-width="0.6"/>
<line x1="389.17" x2="389.17" y1="273.2" y2="281" stroke="#959595" stroke-width="1.2"/>
<line x1="389.17" x2="389.17" y1="293.4" y2="306.4" stroke="#959595" stroke-width="1.2"/>
<line x1="388.41" x2="389.93" y1="273.2" y2="273.2" stroke="#959595" stroke-width="1.2"/>
<line x1="388.41" x2="389.93" y1="306.4" y2="306.4" stroke="#959595" stroke-width="1.2"/>
<rect x="387.70" y="281" width="2.94" height="12.40" fill="#f9842f" stroke="#505050" stroke-width="0.5"/>
<line x1="387.70" x2="390.64" y1="284.4" y2="284.4" stroke="#505050" stroke-width="0.6"/>
<line x1="392.21" x2="392.21" y1="257.3" y2="275.4" stroke="#959595" stroke-width="1.2"/>
<line x1="392.21" x2="392.21" y1="294.1" y2="305.9" stroke="#959595" stroke-width="1.2"/>
<line x1="391.45" x2="392.96" y1="257.3" y2="257.3" stroke="#959595" stroke-width="1.2"/>
<line x1="391.45" x2="392.96" y1="305.9" y2="305.9" stroke="#959595" stroke-width="1.2"/>
<rect x="390.74" y="275.4" width="2.94" height="18.70" fill="#f45430" stroke="#505050" stroke-width="0.5"/>
<line x1="390.74" x2="393.67" y1="286.3" y2="286.3" stroke="#505050" stroke-width="0.6"/>
<line x1="399.79" x2="399.79" y1="273.2" y2="290.9" stroke="#959595" stroke-width="1.2"/>
<line x1="399.79" x2="399.79" y1="303.1" y2="314.6" stroke="#959595" stroke-width="1.2"/>
<line x1="399.04" x2="400.55" y1="273.2" y2="273.2" stroke="#959595" stroke-width="1.2"/>
<line x1="399.04" x2="400.55" y1="314.6" y2="314.6" stroke="#959595" stroke-width="1.2"/>
<rect x="398.33" y="290.9" width="2.94" height="12.20" fill="#0b2f86" stroke="#505050" stroke-width="0.5"/>
<line x1="398.33" x2="401.26" y1="297.1" y2="297.1" stroke="#505050" stroke-width="0.6"/>
<line x1="405.87" x2="405.87" y1="273.2" y2="287.2" stroke="#959595" stroke-width="1.2"/>
<line x1="405.87" x2="405.87" y1="302.1" y2="319.5" stroke="#959595" stroke-width="1.2"/>
<line x1="405.11" x2="406.62" y1="273.2" y2="273.2" stroke="#959595" stroke-width="1.2"/>
<line x1="405.11" x2="406.62" y1="319.5" y2="319.5" stroke="#959595" stroke-width="1.2"/>
<rect x="404.40" y="287.2" width="2.94" height="14.90" fill="#3cba5a" stroke="#505050" stroke-width="0.5"/>
<line x1="404.40" x2="407.33" y1="297.5" y2="297.5" stroke="#505050" stroke-width="0.6"/>
<line x1="408.90" x2="408.90" y1="268.5" y2="281" stroke="#959595" stroke-width="1.2"/>
<line x1="408.90" x2="408.90" y1="293.4" y2="309" stroke="#959595" stroke-width="1.2"/>
<line x1="408.14" x2="409.66" y1="268.5" y2="268.5" stroke="#959595" stroke-width="1.2"/>
<line x1="408.14" x2="409.66" y1="309" y2="309" stroke="#959595" stroke-width="1.2"/>
<rect x="407.43" y="281" width="2.94" height="12.40" fill="#fdb83f" stroke="#505050" stroke-width="0.5"/>
<line x1="407.43" x2="410.37" y1="287.2" y2="287.2" stroke="#505050" stroke-width="0.6"/>
<circle cx="408.90" cy="262.9" r="0.9" fill="#2a2a2a"/>
<line x1="411.94" x2="411.94" y1="269.5" y2="283.5" stroke="#959595" stroke-width="1.2"/>
<line x1="411.94" x2="411.94" y1="294.7" y2="309.6" stroke="#959595" stroke-width="1.2"/>
<line x1="411.18" x2="412.70" y1="269.5" y2="269.5" stroke="#959595" stroke-width="1.2"/>
<line x1="411.18" x2="412.70" y1="309.6" y2="309.6" stroke="#959595" stroke-width="1.2"/>
<rect x="410.47" y="283.5" width="2.94" height="11.20" fill="#f9842f" stroke="#505050" stroke-width="0.5"/>
<line x1="410.47" x2="413.40" y1="289.1" y2="289.1" stroke="#505050" stroke-width="0.6"/>
<circle cx="411.94" cy="263.5" r="0.9" fill="#2a2a2a"/>
<line x1="414.97" x2="414.97" y1="265.4" y2="286.6" stroke="#959595" stroke-width="1.2"/>
<line x1="414.97" x2="414.97" y1="300.8" y2="308.7" stroke="#959595" stroke-width="1.2"/>
<line x1="414.21" x2="415.73" y1="265.4" y2="265.4" stroke="#959595" stroke-width="1.2"/>
<line x1="414.21" x2="415.73" y1="308.7" y2="308.7" stroke="#959595" stroke-width="1.2"/>
<rect x="413.50" y="286.6" width="2.94" height="14.20" fill="#f45430" stroke="#505050" stroke-width="0.5"/>
<line x1="413.50" x2="416.44" y1="298.4" y2="298.4" stroke="#505050" stroke-width="0.6"/>
<line x1="422.56" x2="422.56" y1="272.3" y2="284.8" stroke="#959595" stroke-width="1.2"/>
<line x1="422.56" x2="422.56" y1="306.8" y2="318" stroke="#959595" stroke-width="1.2"/>
<line x1="421.80" x2="423.32" y1="272.3" y2="272.3" stroke="#959595" stroke-width="1.2"/>
<line x1="421.80" x2="423.32" y1="318" y2="318" stroke="#959595" stroke-width="1.2"/>
<rect x="421.09" y="284.8" width="2.94" height="22.00" fill="#0b2f86" stroke="#505050" stroke-width="0.5"/>
<line x1="421.09" x2="424.03" y1="295.6" y2="295.6" stroke="#505050" stroke-width="0.6"/>
<line x1="428.63" x2="428.63" y1="269.8" y2="289.1" stroke="#959595" stroke-width="1.2"/>
<line x1="428.63" x2="428.63" y1="304.9" y2="315.2" stroke="#959595" stroke-width="1.2"/>
<line x1="427.87" x2="429.39" y1="269.8" y2="269.8" stroke="#959595" stroke-width="1.2"/>
<line x1="427.87" x2="429.39" y1="315.2" y2="315.2" stroke="#959595" stroke-width="1.2"/>
<rect x="427.16" y="289.1" width="2.94" height="15.80" fill="#3cba5a" stroke="#505050" stroke-width="0.5"/>
<line x1="427.16" x2="430.10" y1="297.1" y2="297.1" stroke="#505050" stroke-width="0.6"/>
<line x1="431.67" x2="431.67" y1="262" y2="276.9" stroke="#959595" stroke-width="1.2"/>
<line x1="431.67" x2="431.67" y1="296.5" y2="305.9" stroke="#959595" stroke-width="1.2"/>
<line x1="430.91" x2="432.43" y1="262" y2="262" stroke="#959595" stroke-width="1.2"/>
<line x1="430.91" x2="432.43" y1="305.9" y2="305.9" stroke="#959595" stroke-width="1.2"/>
<rect x="430.20" y="276.9" width="2.94" height="19.60" fill="#fdb83f" stroke="#505050" stroke-width="0.5"/>
<line x1="430.20" x2="433.14" y1="284.4" y2="284.4" stroke="#505050" stroke-width="0.6"/>
<line x1="434.70" x2="434.70" y1="259.2" y2="275.4" stroke="#959595" stroke-width="1.2"/>
<line x1="434.70" x2="434.70" y1="297.5" y2="310.5" stroke="#959595" stroke-width="1.2"/>
<line x1="433.94" x2="435.46" y1="259.2" y2="259.2" stroke="#959595" stroke-width="1.2"/>
<line x1="433.94" x2="435.46" y1="310.5" y2="310.5" stroke="#959595" stroke-width="1.2"/>
<rect x="433.24" y="275.4" width="2.94" height="22.10" fill="#f9842f" stroke="#505050" stroke-width="0.5"/>
<line x1="433.24" x2="436.17" y1="288.1" y2="288.1" stroke="#505050" stroke-width="0.6"/>
<line x1="437.74" x2="437.74" y1="264.8" y2="278.8" stroke="#959595" stroke-width="1.2"/>
<line x1="437.74" x2="437.74" y1="294.7" y2="318" stroke="#959595" stroke-width="1.2"/>
<line x1="436.98" x2="438.50" y1="264.8" y2="264.8" stroke="#959595" stroke-width="1.2"/>
<line x1="436.98" x2="438.50" y1="318" y2="318" stroke="#959595" stroke-width="1.2"/>
<rect x="436.27" y="278.8" width="2.94" height="15.90" fill="#f45430" stroke="#505050" stroke-width="0.5"/>
<line x1="436.27" x2="439.21" y1="284.4" y2="284.4" stroke="#505050" stroke-width="0.6"/>
<line x1="445.33" x2="445.33" y1="266.7" y2="280.7" stroke="#959595" stroke-width="1.2"/>
<line x1="445.33" x2="445.33" y1="296.5" y2="313.3" stroke="#959595" stroke-width="1.2"/>
<line x1="444.57" x2="446.09" y1="266.7" y2="266.7" stroke="#959595" stroke-width="1.2"/>
<line x1="444.57" x2="446.09" y1="313.3" y2="313.3" stroke="#959595" stroke-width="1.2"/>
<rect x="443.86" y="280.7" width="2.94" height="15.80" fill="#0b2f86" stroke="#505050" stroke-width="0.5"/>
<line x1="443.86" x2="446.80" y1="288.1" y2="288.1" stroke="#505050" stroke-width="0.6"/>
<line x1="451.40" x2="451.40" y1="269.5" y2="294.7" stroke="#959595" stroke-width="1.2"/>
<line x1="451.40" x2="451.40" y1="304.9" y2="312.4" stroke="#959595" stroke-width="1.2"/>
<line x1="450.64" x2="452.16" y1="269.5" y2="269.5" stroke="#959595" stroke-width="1.2"/>
<line x1="450.64" x2="452.16" y1="312.4" y2="312.4" stroke="#959595" stroke-width="1.2"/>
<rect x="449.93" y="294.7" width="2.94" height="10.20" fill="#3cba5a" stroke="#505050" stroke-width="0.5"/>
<line x1="449.93" x2="452.87" y1="298.4" y2="298.4" stroke="#505050" stroke-width="0.6"/>
<circle cx="451.40" cy="268.5" r="0.9" fill="#2a2a2a"/>
<circle cx="451.40" cy="273.2" r="0.9" fill="#2a2a2a"/>
<circle cx="451.40" cy="275.1" r="0.9" fill="#2a2a2a"/>
<circle cx="451.40" cy="276.6" r="0.9" fill="#2a2a2a"/>
<line x1="454.43" x2="454.43" y1="262" y2="278.8" stroke="#959595" stroke-width="1.2"/>
<line x1="454.43" x2="454.43" y1="300.3" y2="310.5" stroke="#959595" stroke-width="1.2"/>
<line x1="453.68" x2="455.19" y1="262" y2="262" stroke="#959595" stroke-width="1.2"/>
<line x1="453.68" x2="455.19" y1="310.5" y2="310.5" stroke="#959595" stroke-width="1.2"/>
<rect x="452.97" y="278.8" width="2.94" height="21.50" fill="#fdb83f" stroke="#505050" stroke-width="0.5"/>
<line x1="452.97" x2="455.90" y1="286.3" y2="286.3" stroke="#505050" stroke-width="0.6"/>
<line x1="457.47" x2="457.47" y1="264.8" y2="268.5" stroke="#959595" stroke-width="1.2"/>
<line x1="457.47" x2="457.47" y1="274.7" y2="276" stroke="#959595" stroke-width="1.2"/>
<line x1="456.71" x2="458.23" y1="264.8" y2="264.8" stroke="#959595" stroke-width="1.2"/>
<line x1="456.71" x2="458.23" y1="276" y2="276" stroke="#959595" stroke-width="1.2"/>
<rect x="456.00" y="268.5" width="2.94" height="6.20" fill="#f9842f" stroke="#505050" stroke-width="0.5"/>
<line x1="456.00" x2="458.94" y1="271.3" y2="271.3" stroke="#505050" stroke-width="0.6"/>
<circle cx="457.47" cy="288.1" r="0.9" fill="#2a2a2a"/>
<circle cx="457.47" cy="290.5" r="0.9" fill="#2a2a2a"/>
<circle cx="457.47" cy="292.2" r="0.9" fill="#2a2a2a"/>
<circle cx="457.47" cy="294.7" r="0.9" fill="#2a2a2a"/>
<circle cx="457.47" cy="297.5" r="0.9" fill="#2a2a2a"/>
<circle cx="457.47" cy="299.7" r="0.9" fill="#2a2a2a"/>
<circle cx="457.47" cy="302.1" r="0.9" fill="#2a2a2a"/>
<circle cx="457.47" cy="304.6" r="0.9" fill="#2a2a2a"/>
<circle cx="457.47" cy="307.7" r="0.9" fill="#2a2a2a"/>
<line x1="460.51" x2="460.51" y1="267.2" y2="284.8" stroke="#959595" stroke-width="1.2"/>
<line x1="460.51" x2="460.51" y1="298.4" y2="308.7" stroke="#959595" stroke-width="1.2"/>
<line x1="459.75" x2="461.26" y1="267.2" y2="267.2" stroke="#959595" stroke-width="1.2"/>
<line x1="459.75" x2="461.26" y1="308.7" y2="308.7" stroke="#959595" stroke-width="1.2"/>
<rect x="459.04" y="284.8" width="2.94" height="13.60" fill="#f45430" stroke="#505050" stroke-width="0.5"/>
<line x1="459.04" x2="461.97" y1="291.9" y2="291.9" stroke="#505050" stroke-width="0.6"/>
<rect x="27.5" y="346.6" width="204.90" height="85.80" fill="#e8e9f2"/>
<line x1="27.5" x2="232.4" y1="350.8" y2="350.8" stroke="#f8f8fb" stroke-width="0.9"/>
<text x="23.0" y="353.40000000000003" font-size="7.45" fill="#262626" text-anchor="end">80</text>
<line x1="27.5" x2="232.4" y1="372.2" y2="372.2" stroke="#f8f8fb" stroke-width="0.9"/>
<text x="23.0" y="374.8" font-size="7.45" fill="#262626" text-anchor="end">60</text>
<line x1="27.5" x2="232.4" y1="393.3" y2="393.3" stroke="#f8f8fb" stroke-width="0.9"/>
<text x="23.0" y="395.90000000000003" font-size="7.45" fill="#262626" text-anchor="end">40</text>
<line x1="27.5" x2="232.4" y1="414.3" y2="414.3" stroke="#f8f8fb" stroke-width="0.9"/>
<text x="23.0" y="416.90000000000003" font-size="7.45" fill="#262626" text-anchor="end">20</text>
<text class="b" x="129.95" y="344.55" font-size="8.1" fill="#262626" text-anchor="middle">Total Carbon (%)</text>
<line x1="31.29" x2="31.29" y1="353.8" y2="377" stroke="#959595" stroke-width="1.2"/>
<line x1="31.29" x2="31.29" y1="388.7" y2="406.5" stroke="#959595" stroke-width="1.2"/>
<line x1="30.54" x2="32.05" y1="353.8" y2="353.8" stroke="#959595" stroke-width="1.2"/>
<line x1="30.54" x2="32.05" y1="406.5" y2="406.5" stroke="#959595" stroke-width="1.2"/>
<rect x="29.83" y="377" width="2.94" height="11.70" fill="#0b2f86" stroke="#505050" stroke-width="0.5"/>
<line x1="29.83" x2="32.76" y1="382.2" y2="382.2" stroke="#505050" stroke-width="0.6"/>
<circle cx="31.29" cy="352.7" r="0.9" fill="#2a2a2a"/>
<circle cx="31.29" cy="354.5" r="0.9" fill="#2a2a2a"/>
<circle cx="31.29" cy="356.3" r="0.9" fill="#2a2a2a"/>
<circle cx="31.29" cy="358.3" r="0.9" fill="#2a2a2a"/>
<line x1="34.33" x2="34.33" y1="357.6" y2="377.5" stroke="#959595" stroke-width="1.2"/>
<line x1="34.33" x2="34.33" y1="389.3" y2="402.7" stroke="#959595" stroke-width="1.2"/>
<line x1="33.57" x2="35.09" y1="357.6" y2="357.6" stroke="#959595" stroke-width="1.2"/>
<line x1="33.57" x2="35.09" y1="402.7" y2="402.7" stroke="#959595" stroke-width="1.2"/>
<rect x="32.86" y="377.5" width="2.94" height="11.80" fill="#66d9ea" stroke="#505050" stroke-width="0.5"/>
<line x1="32.86" x2="35.80" y1="382.2" y2="382.2" stroke="#505050" stroke-width="0.6"/>
<line x1="37.37" x2="37.37" y1="354.2" y2="369.5" stroke="#959595" stroke-width="1.2"/>
<line x1="37.37" x2="37.37" y1="382.6" y2="393.4" stroke="#959595" stroke-width="1.2"/>
<line x1="36.61" x2="38.12" y1="354.2" y2="354.2" stroke="#959595" stroke-width="1.2"/>
<line x1="36.61" x2="38.12" y1="393.4" y2="393.4" stroke="#959595" stroke-width="1.2"/>
<rect x="35.90" y="369.5" width="2.94" height="13.10" fill="#3cba5a" stroke="#505050" stroke-width="0.5"/>
<line x1="35.90" x2="38.83" y1="376.6" y2="376.6" stroke="#505050" stroke-width="0.6"/>
<line x1="40.40" x2="40.40" y1="352" y2="364.5" stroke="#959595" stroke-width="1.2"/>
<line x1="40.40" x2="40.40" y1="377.5" y2="387.8" stroke="#959595" stroke-width="1.2"/>
<line x1="39.64" x2="41.16" y1="352" y2="352" stroke="#959595" stroke-width="1.2"/>
<line x1="39.64" x2="41.16" y1="387.8" y2="387.8" stroke="#959595" stroke-width="1.2"/>
<rect x="38.93" y="364.5" width="2.94" height="13.00" fill="#fdb83f" stroke="#505050" stroke-width="0.5"/>
<line x1="38.93" x2="41.87" y1="371" y2="371" stroke="#505050" stroke-width="0.6"/>
<circle cx="40.40" cy="398.6" r="0.9" fill="#2a2a2a"/>
<line x1="43.44" x2="43.44" y1="350.1" y2="361.3" stroke="#959595" stroke-width="1.2"/>
<line x1="43.44" x2="43.44" y1="371.9" y2="380.3" stroke="#959595" stroke-width="1.2"/>
<line x1="42.68" x2="44.20" y1="350.1" y2="350.1" stroke="#959595" stroke-width="1.2"/>
<line x1="42.68" x2="44.20" y1="380.3" y2="380.3" stroke="#959595" stroke-width="1.2"/>
<rect x="41.97" y="361.3" width="2.94" height="10.60" fill="#f9842f" stroke="#505050" stroke-width="0.5"/>
<line x1="41.97" x2="44.90" y1="366.9" y2="366.9" stroke="#505050" stroke-width="0.6"/>
<circle cx="43.44" cy="390.6" r="0.9" fill="#2a2a2a"/>
<circle cx="43.44" cy="392.5" r="0.9" fill="#2a2a2a"/>
<line x1="46.47" x2="46.47" y1="353.8" y2="367.3" stroke="#959595" stroke-width="1.2"/>
<line x1="46.47" x2="46.47" y1="380.3" y2="397.1" stroke="#959595" stroke-width="1.2"/>
<line x1="45.71" x2="47.23" y1="353.8" y2="353.8" stroke="#959595" stroke-width="1.2"/>
<line x1="45.71" x2="47.23" y1="397.1" y2="397.1" stroke="#959595" stroke-width="1.2"/>
<rect x="45.00" y="367.3" width="2.94" height="13.00" fill="#f45430" stroke="#505050" stroke-width="0.5"/>
<line x1="45.00" x2="47.94" y1="373.8" y2="373.8" stroke="#505050" stroke-width="0.6"/>
<line x1="54.06" x2="54.06" y1="363.9" y2="379.4" stroke="#959595" stroke-width="1.2"/>
<line x1="54.06" x2="54.06" y1="389.3" y2="402.4" stroke="#959595" stroke-width="1.2"/>
<line x1="53.30" x2="54.82" y1="363.9" y2="363.9" stroke="#959595" stroke-width="1.2"/>
<line x1="53.30" x2="54.82" y1="402.4" y2="402.4" stroke="#959595" stroke-width="1.2"/>
<rect x="52.59" y="379.4" width="2.94" height="9.90" fill="#0b2f86" stroke="#505050" stroke-width="0.5"/>
<line x1="52.59" x2="55.53" y1="384.1" y2="384.1" stroke="#505050" stroke-width="0.6"/>
<circle cx="54.06" cy="354.6" r="0.9" fill="#2a2a2a"/>
<circle cx="54.06" cy="356.4" r="0.9" fill="#2a2a2a"/>
<circle cx="54.06" cy="358.9" r="0.9" fill="#2a2a2a"/>
<circle cx="54.06" cy="360.2" r="0.9" fill="#2a2a2a"/>
<circle cx="54.06" cy="405.5" r="0.9" fill="#2a2a2a"/>
<line x1="57.10" x2="57.10" y1="370.1" y2="382.2" stroke="#959595" stroke-width="1.2"/>
<line x1="57.10" x2="57.10" y1="395.3" y2="403.7" stroke="#959595" stroke-width="1.2"/>
<line x1="56.34" x2="57.86" y1="370.1" y2="370.1" stroke="#959595" stroke-width="1.2"/>
<line x1="56.34" x2="57.86" y1="403.7" y2="403.7" stroke="#959595" stroke-width="1.2"/>
<rect x="55.63" y="382.2" width="2.94" height="13.10" fill="#66d9ea" stroke="#505050" stroke-width="0.5"/>
<line x1="55.63" x2="58.56" y1="389.7" y2="389.7" stroke="#505050" stroke-width="0.6"/>
<circle cx="57.10" cy="359.8" r="0.9" fill="#2a2a2a"/>
<line x1="60.13" x2="60.13" y1="357" y2="372.5" stroke="#959595" stroke-width="1.2"/>
<line x1="60.13" x2="60.13" y1="384.4" y2="398.1" stroke="#959595" stroke-width="1.2"/>
<line x1="59.37" x2="60.89" y1="357" y2="357" stroke="#959595" stroke-width="1.2"/>
<line x1="59.37" x2="60.89" y1="398.1" y2="398.1" stroke="#959595" stroke-width="1.2"/>
<rect x="58.66" y="372.5" width="2.94" height="11.90" fill="#3cba5a" stroke="#505050" stroke-width="0.5"/>
<line x1="58.66" x2="61.60" y1="377.5" y2="377.5" stroke="#505050" stroke-width="0.6"/>
<line x1="63.17" x2="63.17" y1="353.8" y2="367.3" stroke="#959595" stroke-width="1.2"/>
<line x1="63.17" x2="63.17" y1="381.3" y2="392.5" stroke="#959595" stroke-width="1.2"/>
<line x1="62.41" x2="63.93" y1="353.8" y2="353.8" stroke="#959595" stroke-width="1.2"/>
<line x1="62.41" x2="63.93" y1="392.5" y2="392.5" stroke="#959595" stroke-width="1.2"/>
<rect x="61.70" y="367.3" width="2.94" height="14.00" fill="#fdb83f" stroke="#505050" stroke-width="0.5"/>
<line x1="61.70" x2="64.64" y1="372.9" y2="372.9" stroke="#505050" stroke-width="0.6"/>
<line x1="66.20" x2="66.20" y1="355.7" y2="371.9" stroke="#959595" stroke-width="1.2"/>
<line x1="66.20" x2="66.20" y1="382.6" y2="393.8" stroke="#959595" stroke-width="1.2"/>
<line x1="65.44" x2="66.96" y1="355.7" y2="355.7" stroke="#959595" stroke-width="1.2"/>
<line x1="65.44" x2="66.96" y1="393.8" y2="393.8" stroke="#959595" stroke-width="1.2"/>
<rect x="64.74" y="371.9" width="2.94" height="10.70" fill="#f9842f" stroke="#505050" stroke-width="0.5"/>
<line x1="64.74" x2="67.67" y1="375.7" y2="375.7" stroke="#505050" stroke-width="0.6"/>
<circle cx="66.20" cy="402.4" r="0.9" fill="#2a2a2a"/>
<circle cx="66.20" cy="413.6" r="0.9" fill="#2a2a2a"/>
<line x1="69.24" x2="69.24" y1="356.4" y2="369.5" stroke="#959595" stroke-width="1.2"/>
<line x1="69.24" x2="69.24" y1="382.2" y2="394.3" stroke="#959595" stroke-width="1.2"/>
<line x1="68.48" x2="70.00" y1="356.4" y2="356.4" stroke="#959595" stroke-width="1.2"/>
<line x1="68.48" x2="70.00" y1="394.3" y2="394.3" stroke="#959595" stroke-width="1.2"/>
<rect x="67.77" y="369.5" width="2.94" height="12.70" fill="#f45430" stroke="#505050" stroke-width="0.5"/>
<line x1="67.77" x2="70.71" y1="374.7" y2="374.7" stroke="#505050" stroke-width="0.6"/>
<circle cx="69.24" cy="404.6" r="0.9" fill="#2a2a2a"/>
<line x1="76.83" x2="76.83" y1="359.4" y2="376.2" stroke="#959595" stroke-width="1.2"/>
<line x1="76.83" x2="76.83" y1="392.5" y2="405.5" stroke="#959595" stroke-width="1.2"/>
<line x1="76.07" x2="77.59" y1="359.4" y2="359.4" stroke="#959595" stroke-width="1.2"/>
<line x1="76.07" x2="77.59" y1="405.5" y2="405.5" stroke="#959595" stroke-width="1.2"/>
<rect x="75.36" y="376.2" width="2.94" height="16.30" fill="#0b2f86" stroke="#505050" stroke-width="0.5"/>
<line x1="75.36" x2="78.30" y1="384.1" y2="384.1" stroke="#505050" stroke-width="0.6"/>
<line x1="79.86" x2="79.86" y1="368.2" y2="384.4" stroke="#959595" stroke-width="1.2"/>
<line x1="79.86" x2="79.86" y1="393.8" y2="406.1" stroke="#959595" stroke-width="1.2"/>
<line x1="79.10" x2="80.62" y1="368.2" y2="368.2" stroke="#959595" stroke-width="1.2"/>
<line x1="79.10" x2="80.62" y1="406.1" y2="406.1" stroke="#959595" stroke-width="1.2"/>
<rect x="78.40" y="384.4" width="2.94" height="9.40" fill="#66d9ea" stroke="#505050" stroke-width="0.5"/>
<line x1="78.40" x2="81.33" y1="386.9" y2="386.9" stroke="#505050" stroke-width="0.6"/>
<circle cx="79.86" cy="360.7" r="0.9" fill="#2a2a2a"/>
<line x1="82.90" x2="82.90" y1="359.4" y2="373.2" stroke="#959595" stroke-width="1.2"/>
<line x1="82.90" x2="82.90" y1="388.7" y2="405" stroke="#959595" stroke-width="1.2"/>
<line x1="82.14" x2="83.66" y1="359.4" y2="359.4" stroke="#959595" stroke-width="1.2"/>
<line x1="82.14" x2="83.66" y1="405" y2="405" stroke="#959595" stroke-width="1.2"/>
<rect x="81.43" y="373.2" width="2.94" height="15.50" fill="#3cba5a" stroke="#505050" stroke-width="0.5"/>
<line x1="81.43" x2="84.37" y1="381.3" y2="381.3" stroke="#505050" stroke-width="0.6"/>
<line x1="85.93" x2="85.93" y1="357" y2="370.6" stroke="#959595" stroke-width="1.2"/>
<line x1="85.93" x2="85.93" y1="385" y2="404.6" stroke="#959595" stroke-width="1.2"/>
<line x1="85.18" x2="86.69" y1="357" y2="357" stroke="#959595" stroke-width="1.2"/>
<line x1="85.18" x2="86.69" y1="404.6" y2="404.6" stroke="#959595" stroke-width="1.2"/>
<rect x="84.47" y="370.6" width="2.94" height="14.40" fill="#fdb83f" stroke="#505050" stroke-width="0.5"/>
<line x1="84.47" x2="87.40" y1="377.5" y2="377.5" stroke="#505050" stroke-width="0.6"/>
<circle cx="85.93" cy="411.1" r="0.9" fill="#2a2a2a"/>
<line x1="88.97" x2="88.97" y1="361.3" y2="376.2" stroke="#959595" stroke-width="1.2"/>
<line x1="88.97" x2="88.97" y1="389.7" y2="404.6" stroke="#959595" stroke-width="1.2"/>
<line x1="88.21" x2="89.73" y1="361.3" y2="361.3" stroke="#959595" stroke-width="1.2"/>
<line x1="88.21" x2="89.73" y1="404.6" y2="404.6" stroke="#959595" stroke-width="1.2"/>
<rect x="87.50" y="376.2" width="2.94" height="13.50" fill="#f9842f" stroke="#505050" stroke-width="0.5"/>
<line x1="87.50" x2="90.44" y1="382.2" y2="382.2" stroke="#505050" stroke-width="0.6"/>
<line x1="92.01" x2="92.01" y1="358.9" y2="375.1" stroke="#959595" stroke-width="1.2"/>
<line x1="92.01" x2="92.01" y1="385.9" y2="393.4" stroke="#959595" stroke-width="1.2"/>
<line x1="91.25" x2="92.76" y1="358.9" y2="358.9" stroke="#959595" stroke-width="1.2"/>
<line x1="91.25" x2="92.76" y1="393.4" y2="393.4" stroke="#959595" stroke-width="1.2"/>
<rect x="90.54" y="375.1" width="2.94" height="10.80" fill="#f45430" stroke="#505050" stroke-width="0.5"/>
<line x1="90.54" x2="93.47" y1="378.5" y2="378.5" stroke="#505050" stroke-width="0.6"/>
<line x1="99.59" x2="99.59" y1="362.6" y2="385" stroke="#959595" stroke-width="1.2"/>
<line x1="99.59" x2="99.59" y1="399.9" y2="415.4" stroke="#959595" stroke-width="1.2"/>
<line x1="98.84" x2="100.35" y1="362.6" y2="362.6" stroke="#959595" stroke-width="1.2"/>
<line x1="98.84" x2="100.35" y1="415.4" y2="415.4" stroke="#959595" stroke-width="1.2"/>
<rect x="98.13" y="385" width="2.94" height="14.90" fill="#0b2f86" stroke="#505050" stroke-width="0.5"/>
<line x1="98.13" x2="101.06" y1="392.5" y2="392.5" stroke="#505050" stroke-width="0.6"/>
<circle cx="99.59" cy="361.3" r="0.9" fill="#2a2a2a"/>
<line x1="102.63" x2="102.63" y1="371.9" y2="387.8" stroke="#959595" stroke-width="1.2"/>
<line x1="102.63" x2="102.63" y1="402.4" y2="414.9" stroke="#959595" stroke-width="1.2"/>
<line x1="101.87" x2="103.39" y1="371.9" y2="371.9" stroke="#959595" stroke-width="1.2"/>
<line x1="101.87" x2="103.39" y1="414.9" y2="414.9" stroke="#959595" stroke-width="1.2"/>
<rect x="101.16" y="387.8" width="2.94" height="14.60" fill="#66d9ea" stroke="#505050" stroke-width="0.5"/>
<line x1="101.16" x2="104.10" y1="393.4" y2="393.4" stroke="#505050" stroke-width="0.6"/>
<line x1="105.67" x2="105.67" y1="359.4" y2="377" stroke="#959595" stroke-width="1.2"/>
<line x1="105.67" x2="105.67" y1="393.8" y2="413.9" stroke="#959595" stroke-width="1.2"/>
<line x1="104.91" x2="106.42" y1="359.4" y2="359.4" stroke="#959595" stroke-width="1.2"/>
<line x1="104.91" x2="106.42" y1="413.9" y2="413.9" stroke="#959595" stroke-width="1.2"/>
<rect x="104.20" y="377" width="2.94" height="16.80" fill="#3cba5a" stroke="#505050" stroke-width="0.5"/>
<line x1="104.20" x2="107.13" y1="381.8" y2="381.8" stroke="#505050" stroke-width="0.6"/>
<line x1="108.70" x2="108.70" y1="361.7" y2="375.7" stroke="#959595" stroke-width="1.2"/>
<line x1="108.70" x2="108.70" y1="386.3" y2="402.4" stroke="#959595" stroke-width="1.2"/>
<line x1="107.94" x2="109.46" y1="361.7" y2="361.7" stroke="#959595" stroke-width="1.2"/>
<line x1="107.94" x2="109.46" y1="402.4" y2="402.4" stroke="#959595" stroke-width="1.2"/>
<rect x="107.23" y="375.7" width="2.94" height="10.60" fill="#fdb83f" stroke="#505050" stroke-width="0.5"/>
<line x1="107.23" x2="110.17" y1="380.3" y2="380.3" stroke="#505050" stroke-width="0.6"/>
<line x1="111.74" x2="111.74" y1="365" y2="378.5" stroke="#959595" stroke-width="1.2"/>
<line x1="111.74" x2="111.74" y1="390" y2="403.7" stroke="#959595" stroke-width="1.2"/>
<line x1="110.98" x2="112.50" y1="365" y2="365" stroke="#959595" stroke-width="1.2"/>
<line x1="110.98" x2="112.50" y1="403.7" y2="403.7" stroke="#959595" stroke-width="1.2"/>
<rect x="110.27" y="378.5" width="2.94" height="11.50" fill="#f9842f" stroke="#505050" stroke-width="0.5"/>
<line x1="110.27" x2="113.20" y1="382.6" y2="382.6" stroke="#505050" stroke-width="0.6"/>
<line x1="114.77" x2="114.77" y1="361.7" y2="376.2" stroke="#959595" stroke-width="1.2"/>
<line x1="114.77" x2="114.77" y1="387.4" y2="399.9" stroke="#959595" stroke-width="1.2"/>
<line x1="114.01" x2="115.53" y1="361.7" y2="361.7" stroke="#959595" stroke-width="1.2"/>
<line x1="114.01" x2="115.53" y1="399.9" y2="399.9" stroke="#959595" stroke-width="1.2"/>
<rect x="113.30" y="376.2" width="2.94" height="11.20" fill="#f45430" stroke="#505050" stroke-width="0.5"/>
<line x1="113.30" x2="116.24" y1="380.3" y2="380.3" stroke="#505050" stroke-width="0.6"/>
<circle cx="114.77" cy="409.8" r="0.9" fill="#2a2a2a"/>
<line x1="122.36" x2="122.36" y1="381.3" y2="391.5" stroke="#959595" stroke-width="1.2"/>
<line x1="122.36" x2="122.36" y1="401.2" y2="411.7" stroke="#959595" stroke-width="1.2"/>
<line x1="121.60" x2="123.12" y1="381.3" y2="381.3" stroke="#959595" stroke-width="1.2"/>
<line x1="121.60" x2="123.12" y1="411.7" y2="411.7" stroke="#959595" stroke-width="1.2"/>
<rect x="120.89" y="391.5" width="2.94" height="9.70" fill="#0b2f86" stroke="#505050" stroke-width="0.5"/>
<line x1="120.89" x2="123.83" y1="395.3" y2="395.3" stroke="#505050" stroke-width="0.6"/>
<circle cx="122.36" cy="371" r="0.9" fill="#2a2a2a"/>
<line x1="125.40" x2="125.40" y1="375.7" y2="391.9" stroke="#959595" stroke-width="1.2"/>
<line x1="125.40" x2="125.40" y1="402.4" y2="416.7" stroke="#959595" stroke-width="1.2"/>
<line x1="124.64" x2="126.16" y1="375.7" y2="375.7" stroke="#959595" stroke-width="1.2"/>
<line x1="124.64" x2="126.16" y1="416.7" y2="416.7" stroke="#959595" stroke-width="1.2"/>
<rect x="123.93" y="391.9" width="2.94" height="10.50" fill="#66d9ea" stroke="#505050" stroke-width="0.5"/>
<line x1="123.93" x2="126.86" y1="396.2" y2="396.2" stroke="#505050" stroke-width="0.6"/>
<circle cx="125.40" cy="366.3" r="0.9" fill="#2a2a2a"/>
<line x1="128.43" x2="128.43" y1="363.9" y2="380" stroke="#959595" stroke-width="1.2"/>
<line x1="128.43" x2="128.43" y1="399.9" y2="410.2" stroke="#959595" stroke-width="1.2"/>
<line x1="127.67" x2="129.19" y1="363.9" y2="363.9" stroke="#959595" stroke-width="1.2"/>
<line x1="127.67" x2="129.19" y1="410.2" y2="410.2" stroke="#959595" stroke-width="1.2"/>
<rect x="126.96" y="380" width="2.94" height="19.90" fill="#3cba5a" stroke="#505050" stroke-width="0.5"/>
<line x1="126.96" x2="129.90" y1="389.7" y2="389.7" stroke="#505050" stroke-width="0.6"/>
<line x1="131.47" x2="131.47" y1="376.6" y2="387.4" stroke="#959595" stroke-width="1.2"/>
<line x1="131.47" x2="131.47" y1="399" y2="411.1" stroke="#959595" stroke-width="1.2"/>
<line x1="130.71" x2="132.23" y1="376.6" y2="376.6" stroke="#959595" stroke-width="1.2"/>
<line x1="130.71" x2="132.23" y1="411.1" y2="411.1" stroke="#959595" stroke-width="1.2"/>
<rect x="130.00" y="387.4" width="2.94" height="11.60" fill="#fdb83f" stroke="#505050" stroke-width="0.5"/>
<line x1="130.00" x2="132.94" y1="393.4" y2="393.4" stroke="#505050" stroke-width="0.6"/>
<line x1="134.50" x2="134.50" y1="367.3" y2="379.4" stroke="#959595" stroke-width="1.2"/>
<line x1="134.50" x2="134.50" y1="395.6" y2="411.1" stroke="#959595" stroke-width="1.2"/>
<line x1="133.74" x2="135.26" y1="367.3" y2="367.3" stroke="#959595" stroke-width="1.2"/>
<line x1="133.74" x2="135.26" y1="411.1" y2="411.1" stroke="#959595" stroke-width="1.2"/>
<rect x="133.04" y="379.4" width="2.94" height="16.20" fill="#f9842f" stroke="#505050" stroke-width="0.5"/>
<line x1="133.04" x2="135.97" y1="384.4" y2="384.4" stroke="#505050" stroke-width="0.6"/>
<line x1="137.54" x2="137.54" y1="363.2" y2="381.3" stroke="#959595" stroke-width="1.2"/>
<line x1="137.54" x2="137.54" y1="396.2" y2="405.5" stroke="#959595" stroke-width="1.2"/>
<line x1="136.78" x2="138.30" y1="363.2" y2="363.2" stroke="#959595" stroke-width="1.2"/>
<line x1="136.78" x2="138.30" y1="405.5" y2="405.5" stroke="#959595" stroke-width="1.2"/>
<rect x="136.07" y="381.3" width="2.94" height="14.90" fill="#f45430" stroke="#505050" stroke-width="0.5"/>
<line x1="136.07" x2="139.01" y1="387.8" y2="387.8" stroke="#505050" stroke-width="0.6"/>
<line x1="145.13" x2="145.13" y1="381.3" y2="394.9" stroke="#959595" stroke-width="1.2"/>
<line x1="145.13" x2="145.13" y1="406.1" y2="419.5" stroke="#959595" stroke-width="1.2"/>
<line x1="144.37" x2="145.89" y1="381.3" y2="381.3" stroke="#959595" stroke-width="1.2"/>
<line x1="144.37" x2="145.89" y1="419.5" y2="419.5" stroke="#959595" stroke-width="1.2"/>
<rect x="143.66" y="394.9" width="2.94" height="11.20" fill="#0b2f86" stroke="#505050" stroke-width="0.5"/>
<line x1="143.66" x2="146.60" y1="399.9" y2="399.9" stroke="#505050" stroke-width="0.6"/>
<line x1="148.16" x2="148.16" y1="386.3" y2="394.9" stroke="#959595" stroke-width="1.2"/>
<line x1="148.16" x2="148.16" y1="404.2" y2="411.7" stroke="#959595" stroke-width="1.2"/>
<line x1="147.40" x2="148.92" y1="386.3" y2="386.3" stroke="#959595" stroke-width="1.2"/>
<line x1="147.40" x2="148.92" y1="411.7" y2="411.7" stroke="#959595" stroke-width="1.2"/>
<rect x="146.70" y="394.9" width="2.94" height="9.30" fill="#66d9ea" stroke="#505050" stroke-width="0.5"/>
<line x1="146.70" x2="149.63" y1="399" y2="399" stroke="#505050" stroke-width="0.6"/>
<circle cx="148.16" cy="376.6" r="0.9" fill="#2a2a2a"/>
<line x1="151.20" x2="151.20" y1="377" y2="390" stroke="#959595" stroke-width="1.2"/>
<line x1="151.20" x2="151.20" y1="404.2" y2="412.4" stroke="#959595" stroke-width="1.2"/>
<line x1="150.44" x2="151.96" y1="377" y2="377" stroke="#959595" stroke-width="1.2"/>
<line x1="150.44" x2="151.96" y1="412.4" y2="412.4" stroke="#959595" stroke-width="1.2"/>
<rect x="149.73" y="390" width="2.94" height="14.20" fill="#3cba5a" stroke="#505050" stroke-width="0.5"/>
<line x1="149.73" x2="152.67" y1="396.2" y2="396.2" stroke="#505050" stroke-width="0.6"/>
<line x1="154.23" x2="154.23" y1="371.9" y2="385" stroke="#959595" stroke-width="1.2"/>
<line x1="154.23" x2="154.23" y1="399.4" y2="415.4" stroke="#959595" stroke-width="1.2"/>
<line x1="153.48" x2="154.99" y1="371.9" y2="371.9" stroke="#959595" stroke-width="1.2"/>
<line x1="153.48" x2="154.99" y1="415.4" y2="415.4" stroke="#959595" stroke-width="1.2"/>
<rect x="152.77" y="385" width="2.94" height="14.40" fill="#fdb83f" stroke="#505050" stroke-width="0.5"/>
<line x1="152.77" x2="155.70" y1="390.6" y2="390.6" stroke="#505050" stroke-width="0.6"/>
<circle cx="154.23" cy="360.2" r="0.9" fill="#2a2a2a"/>
<line x1="157.27" x2="157.27" y1="377" y2="387.4" stroke="#959595" stroke-width="1.2"/>
<line x1="157.27" x2="157.27" y1="396.8" y2="408.3" stroke="#959595" stroke-width="1.2"/>
<line x1="156.51" x2="158.03" y1="377" y2="377" stroke="#959595" stroke-width="1.2"/>
<line x1="156.51" x2="158.03" y1="408.3" y2="408.3" stroke="#959595" stroke-width="1.2"/>
<rect x="155.80" y="387.4" width="2.94" height="9.40" fill="#f9842f" stroke="#505050" stroke-width="0.5"/>
<line x1="155.80" x2="158.74" y1="390.6" y2="390.6" stroke="#505050" stroke-width="0.6"/>
<line x1="160.31" x2="160.31" y1="365" y2="381.3" stroke="#959595" stroke-width="1.2"/>
<line x1="160.31" x2="160.31" y1="398.6" y2="408.7" stroke="#959595" stroke-width="1.2"/>
<line x1="159.55" x2="161.06" y1="365" y2="365" stroke="#959595" stroke-width="1.2"/>
<line x1="159.55" x2="161.06" y1="408.7" y2="408.7" stroke="#959595" stroke-width="1.2"/>
<rect x="158.84" y="381.3" width="2.94" height="17.30" fill="#f45430" stroke="#505050" stroke-width="0.5"/>
<line x1="158.84" x2="161.77" y1="391.9" y2="391.9" stroke="#505050" stroke-width="0.6"/>
<circle cx="160.31" cy="414.9" r="0.9" fill="#2a2a2a"/>
<line x1="167.89" x2="167.89" y1="383.1" y2="396.2" stroke="#959595" stroke-width="1.2"/>
<line x1="167.89" x2="167.89" y1="410.2" y2="425.1" stroke="#959595" stroke-width="1.2"/>
<line x1="167.14" x2="168.65" y1="383.1" y2="383.1" stroke="#959595" stroke-width="1.2"/>
<line x1="167.14" x2="168.65" y1="425.1" y2="425.1" stroke="#959595" stroke-width="1.2"/>
<rect x="166.43" y="396.2" width="2.94" height="14.00" fill="#0b2f86" stroke="#505050" stroke-width="0.5"/>
<line x1="166.43" x2="169.36" y1="402.7" y2="402.7" stroke="#505050" stroke-width="0.6"/>
<line x1="173.97" x2="173.97" y1="380" y2="389.3" stroke="#959595" stroke-width="1.2"/>
<line x1="173.97" x2="173.97" y1="408.3" y2="428.9" stroke="#959595" stroke-width="1.2"/>
<line x1="173.21" x2="174.72" y1="380" y2="380" stroke="#959595" stroke-width="1.2"/>
<line x1="173.21" x2="174.72" y1="428.9" y2="428.9" stroke="#959595" stroke-width="1.2"/>
<rect x="172.50" y="389.3" width="2.94" height="19.00" fill="#3cba5a" stroke="#505050" stroke-width="0.5"/>
<line x1="172.50" x2="175.43" y1="399" y2="399" stroke="#505050" stroke-width="0.6"/>
<line x1="177.00" x2="177.00" y1="371.9" y2="385.9" stroke="#959595" stroke-width="1.2"/>
<line x1="177.00" x2="177.00" y1="397.1" y2="414.3" stroke="#959595" stroke-width="1.2"/>
<line x1="176.24" x2="177.76" y1="371.9" y2="371.9" stroke="#959595" stroke-width="1.2"/>
<line x1="176.24" x2="177.76" y1="414.3" y2="414.3" stroke="#959595" stroke-width="1.2"/>
<rect x="175.53" y="385.9" width="2.94" height="11.20" fill="#fdb83f" stroke="#505050" stroke-width="0.5"/>
<line x1="175.53" x2="178.47" y1="390.6" y2="390.6" stroke="#505050" stroke-width="0.6"/>
<circle cx="177.00" cy="363.5" r="0.9" fill="#2a2a2a"/>
<line x1="180.04" x2="180.04" y1="373.8" y2="387.4" stroke="#959595" stroke-width="1.2"/>
<line x1="180.04" x2="180.04" y1="399.9" y2="409.3" stroke="#959595" stroke-width="1.2"/>
<line x1="179.28" x2="180.80" y1="373.8" y2="373.8" stroke="#959595" stroke-width="1.2"/>
<line x1="179.28" x2="180.80" y1="409.3" y2="409.3" stroke="#959595" stroke-width="1.2"/>
<rect x="178.57" y="387.4" width="2.94" height="12.50" fill="#f9842f" stroke="#505050" stroke-width="0.5"/>
<line x1="178.57" x2="181.50" y1="392.5" y2="392.5" stroke="#505050" stroke-width="0.6"/>
<circle cx="180.04" cy="360.2" r="0.9" fill="#2a2a2a"/>
<circle cx="180.04" cy="367.3" r="0.9" fill="#2a2a2a"/>
<line x1="183.07" x2="183.07" y1="377" y2="391.9" stroke="#959595" stroke-width="1.2"/>
<line x1="183.07" x2="183.07" y1="404.2" y2="412.1" stroke="#959595" stroke-width="1.2"/>
<line x1="182.31" x2="183.83" y1="377" y2="377" stroke="#959595" stroke-width="1.2"/>
<line x1="182.31" x2="183.83" y1="412.1" y2="412.1" stroke="#959595" stroke-width="1.2"/>
<rect x="181.60" y="391.9" width="2.94" height="12.30" fill="#f45430" stroke="#505050" stroke-width="0.5"/>
<line x1="181.60" x2="184.54" y1="398.6" y2="398.6" stroke="#505050" stroke-width="0.6"/>
<circle cx="183.07" cy="370.1" r="0.9" fill="#2a2a2a"/>
<line x1="190.66" x2="190.66" y1="377.5" y2="391.9" stroke="#959595" stroke-width="1.2"/>
<line x1="190.66" x2="190.66" y1="408.7" y2="423.3" stroke="#959595" stroke-width="1.2"/>
<line x1="189.90" x2="191.42" y1="377.5" y2="377.5" stroke="#959595" stroke-width="1.2"/>
<line x1="189.90" x2="191.42" y1="423.3" y2="423.3" stroke="#959595" stroke-width="1.2"/>
<rect x="189.19" y="391.9" width="2.94" height="16.80" fill="#0b2f86" stroke="#505050" stroke-width="0.5"/>
<line x1="189.19" x2="192.13" y1="400.9" y2="400.9" stroke="#505050" stroke-width="0.6"/>
<line x1="196.73" x2="196.73" y1="369.1" y2="392.5" stroke="#959595" stroke-width="1.2"/>
<line x1="196.73" x2="196.73" y1="408.3" y2="415.8" stroke="#959595" stroke-width="1.2"/>
<line x1="195.97" x2="197.49" y1="369.1" y2="369.1" stroke="#959595" stroke-width="1.2"/>
<line x1="195.97" x2="197.49" y1="415.8" y2="415.8" stroke="#959595" stroke-width="1.2"/>
<rect x="195.26" y="392.5" width="2.94" height="15.80" fill="#3cba5a" stroke="#505050" stroke-width="0.5"/>
<line x1="195.26" x2="198.20" y1="400.9" y2="400.9" stroke="#505050" stroke-width="0.6"/>
<circle cx="196.73" cy="365.8" r="0.9" fill="#2a2a2a"/>
<line x1="199.77" x2="199.77" y1="373.8" y2="384.4" stroke="#959595" stroke-width="1.2"/>
<line x1="199.77" x2="199.77" y1="399.9" y2="413.6" stroke="#959595" stroke-width="1.2"/>
<line x1="199.01" x2="200.53" y1="373.8" y2="373.8" stroke="#959595" stroke-width="1.2"/>
<line x1="199.01" x2="200.53" y1="413.6" y2="413.6" stroke="#959595" stroke-width="1.2"/>
<rect x="198.30" y="384.4" width="2.94" height="15.50" fill="#fdb83f" stroke="#505050" stroke-width="0.5"/>
<line x1="198.30" x2="201.24" y1="389.7" y2="389.7" stroke="#505050" stroke-width="0.6"/>
<line x1="202.80" x2="202.80" y1="366.3" y2="380.3" stroke="#959595" stroke-width="1.2"/>
<line x1="202.80" x2="202.80" y1="402.4" y2="419.5" stroke="#959595" stroke-width="1.2"/>
<line x1="202.04" x2="203.56" y1="366.3" y2="366.3" stroke="#959595" stroke-width="1.2"/>
<line x1="202.04" x2="203.56" y1="419.5" y2="419.5" stroke="#959595" stroke-width="1.2"/>
<rect x="201.34" y="380.3" width="2.94" height="22.10" fill="#f9842f" stroke="#505050" stroke-width="0.5"/>
<line x1="201.34" x2="204.27" y1="389.7" y2="389.7" stroke="#505050" stroke-width="0.6"/>
<line x1="205.84" x2="205.84" y1="370.1" y2="380.3" stroke="#959595" stroke-width="1.2"/>
<line x1="205.84" x2="205.84" y1="397.5" y2="414.3" stroke="#959595" stroke-width="1.2"/>
<line x1="205.08" x2="206.60" y1="370.1" y2="370.1" stroke="#959595" stroke-width="1.2"/>
<line x1="205.08" x2="206.60" y1="414.3" y2="414.3" stroke="#959595" stroke-width="1.2"/>
<rect x="204.37" y="380.3" width="2.94" height="17.20" fill="#f45430" stroke="#505050" stroke-width="0.5"/>
<line x1="204.37" x2="207.31" y1="387.4" y2="387.4" stroke="#505050" stroke-width="0.6"/>
<line x1="213.43" x2="213.43" y1="371" y2="382.2" stroke="#959595" stroke-width="1.2"/>
<line x1="213.43" x2="213.43" y1="396.8" y2="412.4" stroke="#959595" stroke-width="1.2"/>
<line x1="212.67" x2="214.19" y1="371" y2="371" stroke="#959595" stroke-width="1.2"/>
<line x1="212.67" x2="214.19" y1="412.4" y2="412.4" stroke="#959595" stroke-width="1.2"/>
<rect x="211.96" y="382.2" width="2.94" height="14.60" fill="#0b2f86" stroke="#505050" stroke-width="0.5"/>
<line x1="211.96" x2="214.90" y1="389.7" y2="389.7" stroke="#505050" stroke-width="0.6"/>
<line x1="219.50" x2="219.50" y1="374.7" y2="394.3" stroke="#959595" stroke-width="1.2"/>
<line x1="219.50" x2="219.50" y1="406.1" y2="418.6" stroke="#959595" stroke-width="1.2"/>
<line x1="218.74" x2="220.26" y1="374.7" y2="374.7" stroke="#959595" stroke-width="1.2"/>
<line x1="218.74" x2="220.26" y1="418.6" y2="418.6" stroke="#959595" stroke-width="1.2"/>
<rect x="218.03" y="394.3" width="2.94" height="11.80" fill="#3cba5a" stroke="#505050" stroke-width="0.5"/>
<line x1="218.03" x2="220.97" y1="399.9" y2="399.9" stroke="#505050" stroke-width="0.6"/>
<circle cx="219.50" cy="369.1" r="0.9" fill="#2a2a2a"/>
<line x1="222.53" x2="222.53" y1="371" y2="382.2" stroke="#959595" stroke-width="1.2"/>
<line x1="222.53" x2="222.53" y1="398.1" y2="414.9" stroke="#959595" stroke-width="1.2"/>
<line x1="221.78" x2="223.29" y1="371" y2="371" stroke="#959595" stroke-width="1.2"/>
<line x1="221.78" x2="223.29" y1="414.9" y2="414.9" stroke="#959595" stroke-width="1.2"/>
<rect x="221.07" y="382.2" width="2.94" height="15.90" fill="#fdb83f" stroke="#505050" stroke-width="0.5"/>
<line x1="221.07" x2="224.00" y1="386.9" y2="386.9" stroke="#505050" stroke-width="0.6"/>
<line x1="225.57" x2="225.57" y1="360.7" y2="366.9" stroke="#959595" stroke-width="1.2"/>
<line x1="225.57" x2="225.57" y1="385" y2="410.2" stroke="#959595" stroke-width="1.2"/>
<line x1="224.81" x2="226.33" y1="360.7" y2="360.7" stroke="#959595" stroke-width="1.2"/>
<line x1="224.81" x2="226.33" y1="410.2" y2="410.2" stroke="#959595" stroke-width="1.2"/>
<rect x="224.10" y="366.9" width="2.94" height="18.10" fill="#f9842f" stroke="#505050" stroke-width="0.5"/>
<line x1="224.10" x2="227.04" y1="376.6" y2="376.6" stroke="#505050" stroke-width="0.6"/>
<circle cx="225.57" cy="413.9" r="0.9" fill="#2a2a2a"/>
<circle cx="225.57" cy="415.8" r="0.9" fill="#2a2a2a"/>
<line x1="228.61" x2="228.61" y1="362" y2="384.4" stroke="#959595" stroke-width="1.2"/>
<line x1="228.61" x2="228.61" y1="397.1" y2="408.3" stroke="#959595" stroke-width="1.2"/>
<line x1="227.85" x2="229.36" y1="362" y2="362" stroke="#959595" stroke-width="1.2"/>
<line x1="227.85" x2="229.36" y1="408.3" y2="408.3" stroke="#959595" stroke-width="1.2"/>
<rect x="227.14" y="384.4" width="2.94" height="12.70" fill="#f45430" stroke="#505050" stroke-width="0.5"/>
<line x1="227.14" x2="230.07" y1="387.8" y2="387.8" stroke="#505050" stroke-width="0.6"/>
<circle cx="228.61" cy="361.7" r="0.9" fill="#2a2a2a"/>
<text font-size="7.45" fill="#262626" text-anchor="middle" transform="translate(38.58,446.72) rotate(-45)"><tspan x="0" y="2.6">0-150</tspan></text>
<text font-size="7.45" fill="#262626" text-anchor="middle" transform="translate(61.35,449.66) rotate(-45)"><tspan x="0" y="2.6">150-300</tspan></text>
<text font-size="7.45" fill="#262626" text-anchor="middle" transform="translate(84.12,449.66) rotate(-45)"><tspan x="0" y="2.6">300-600</tspan></text>
<text font-size="7.45" fill="#262626" text-anchor="middle" transform="translate(106.88,449.66) rotate(-45)"><tspan x="0" y="2.6">600-900</tspan></text>
<text font-size="7.45" fill="#262626" text-anchor="middle" transform="translate(129.65,451.10) rotate(-45)"><tspan x="0" y="2.6">900-1200</tspan></text>
<text font-size="7.45" fill="#262626" text-anchor="middle" transform="translate(152.42,452.55) rotate(-45)"><tspan x="0" y="2.6">1200-1500</tspan></text>
<text font-size="7.45" fill="#262626" text-anchor="middle" transform="translate(175.18,452.55) rotate(-45)"><tspan x="0" y="2.6">1500-1800</tspan></text>
<text font-size="7.45" fill="#262626" text-anchor="middle" transform="translate(197.95,452.55) rotate(-45)"><tspan x="0" y="2.6">1800-2100</tspan></text>
<text font-size="7.45" fill="#262626" text-anchor="middle" transform="translate(220.72,452.55) rotate(-45)"><tspan x="0" y="2.6">2100-3000</tspan></text>
<rect x="259.4" y="346.6" width="204.90" height="85.80" fill="#e8e9f2"/>
<line x1="259.4" x2="464.3" y1="368.6" y2="368.6" stroke="#f8f8fb" stroke-width="0.9"/>
<text x="254.89999999999998" y="371.20000000000005" font-size="7.45" fill="#262626" text-anchor="end">40</text>
<line x1="259.4" x2="464.3" y1="400.2" y2="400.2" stroke="#f8f8fb" stroke-width="0.9"/>
<text x="254.89999999999998" y="402.8" font-size="7.45" fill="#262626" text-anchor="end">20</text>
<line x1="259.4" x2="464.3" y1="431.3" y2="431.3" stroke="#f8f8fb" stroke-width="0.9"/>
<text x="254.89999999999998" y="433.90000000000003" font-size="7.45" fill="#262626" text-anchor="end">0</text>
<text class="b" x="361.85" y="344.55" font-size="8.1" fill="#262626" text-anchor="middle">Top of Canopy Height (m)</text>
<line x1="263.19" x2="263.19" y1="402.4" y2="415.4" stroke="#959595" stroke-width="1.2"/>
<line x1="263.19" x2="263.19" y1="424.2" y2="427.4" stroke="#959595" stroke-width="1.2"/>
<line x1="262.44" x2="263.95" y1="402.4" y2="402.4" stroke="#959595" stroke-width="1.2"/>
<line x1="262.44" x2="263.95" y1="427.4" y2="427.4" stroke="#959595" stroke-width="1.2"/>
<rect x="261.73" y="415.4" width="2.94" height="8.80" fill="#0b2f86" stroke="#505050" stroke-width="0.5"/>
<line x1="261.73" x2="264.66" y1="419.5" y2="419.5" stroke="#505050" stroke-width="0.6"/>
<circle cx="263.19" cy="399.9" r="0.9" fill="#2a2a2a"/>
<line x1="266.23" x2="266.23" y1="405.5" y2="417.7" stroke="#959595" stroke-width="1.2"/>
<line x1="266.23" x2="266.23" y1="424.2" y2="427.4" stroke="#959595" stroke-width="1.2"/>
<line x1="265.47" x2="266.99" y1="405.5" y2="405.5" stroke="#959595" stroke-width="1.2"/>
<line x1="265.47" x2="266.99" y1="427.4" y2="427.4" stroke="#959595" stroke-width="1.2"/>
<rect x="264.76" y="417.7" width="2.94" height="6.50" fill="#66d9ea" stroke="#505050" stroke-width="0.5"/>
<line x1="264.76" x2="267.70" y1="421" y2="421" stroke="#505050" stroke-width="0.6"/>
<circle cx="266.23" cy="395.3" r="0.9" fill="#2a2a2a"/>
<circle cx="266.23" cy="400.5" r="0.9" fill="#2a2a2a"/>
<line x1="269.27" x2="269.27" y1="402.4" y2="413.9" stroke="#959595" stroke-width="1.2"/>
<line x1="269.27" x2="269.27" y1="424.8" y2="427.4" stroke="#959595" stroke-width="1.2"/>
<line x1="268.51" x2="270.02" y1="402.4" y2="402.4" stroke="#959595" stroke-width="1.2"/>
<line x1="268.51" x2="270.02" y1="427.4" y2="427.4" stroke="#959595" stroke-width="1.2"/>
<rect x="267.80" y="413.9" width="2.94" height="10.90" fill="#3cba5a" stroke="#505050" stroke-width="0.5"/>
<line x1="267.80" x2="270.73" y1="419.5" y2="419.5" stroke="#505050" stroke-width="0.6"/>
<line x1="272.30" x2="272.30" y1="411.1" y2="420.5" stroke="#959595" stroke-width="1.2"/>
<line x1="272.30" x2="272.30" y1="426.1" y2="427.4" stroke="#959595" stroke-width="1.2"/>
<line x1="271.54" x2="273.06" y1="411.1" y2="411.1" stroke="#959595" stroke-width="1.2"/>
<line x1="271.54" x2="273.06" y1="427.4" y2="427.4" stroke="#959595" stroke-width="1.2"/>
<rect x="270.83" y="420.5" width="2.94" height="5.60" fill="#fdb83f" stroke="#505050" stroke-width="0.5"/>
<line x1="270.83" x2="273.77" y1="423.6" y2="423.6" stroke="#505050" stroke-width="0.6"/>
<circle cx="272.30" cy="405.5" r="0.9" fill="#2a2a2a"/>
<circle cx="272.30" cy="408.3" r="0.9" fill="#2a2a2a"/>
<line x1="275.34" x2="275.34" y1="404.6" y2="417.3" stroke="#959595" stroke-width="1.2"/>
<line x1="275.34" x2="275.34" y1="422.9" y2="427" stroke="#959595" stroke-width="1.2"/>
<line x1="274.58" x2="276.10" y1="404.6" y2="404.6" stroke="#959595" stroke-width="1.2"/>
<line x1="274.58" x2="276.10" y1="427" y2="427" stroke="#959595" stroke-width="1.2"/>
<rect x="273.87" y="417.3" width="2.94" height="5.60" fill="#f9842f" stroke="#505050" stroke-width="0.5"/>
<line x1="273.87" x2="276.80" y1="419.9" y2="419.9" stroke="#505050" stroke-width="0.6"/>
<circle cx="275.34" cy="402.4" r="0.9" fill="#2a2a2a"/>
<line x1="278.37" x2="278.37" y1="403.7" y2="414.3" stroke="#959595" stroke-width="1.2"/>
<line x1="278.37" x2="278.37" y1="426.1" y2="427.4" stroke="#959595" stroke-width="1.2"/>
<line x1="277.61" x2="279.13" y1="403.7" y2="403.7" stroke="#959595" stroke-width="1.2"/>
<line x1="277.61" x2="279.13" y1="427.4" y2="427.4" stroke="#959595" stroke-width="1.2"/>
<rect x="276.90" y="414.3" width="2.94" height="11.80" fill="#f45430" stroke="#505050" stroke-width="0.5"/>
<line x1="276.90" x2="279.84" y1="419.5" y2="419.5" stroke="#505050" stroke-width="0.6"/>
<circle cx="278.37" cy="350.1" r="0.9" fill="#2a2a2a"/>
<circle cx="278.37" cy="375.1" r="0.9" fill="#2a2a2a"/>
<circle cx="278.37" cy="376.6" r="0.9" fill="#2a2a2a"/>
<circle cx="278.37" cy="378.1" r="0.9" fill="#2a2a2a"/>
<circle cx="278.37" cy="380.3" r="0.9" fill="#2a2a2a"/>
<circle cx="278.37" cy="382.6" r="0.9" fill="#2a2a2a"/>
<circle cx="278.37" cy="389.7" r="0.9" fill="#2a2a2a"/>
<line x1="285.96" x2="285.96" y1="399.9" y2="413.9" stroke="#959595" stroke-width="1.2"/>
<line x1="285.96" x2="285.96" y1="423.3" y2="427.4" stroke="#959595" stroke-width="1.2"/>
<line x1="285.20" x2="286.72" y1="399.9" y2="399.9" stroke="#959595" stroke-width="1.2"/>
<line x1="285.20" x2="286.72" y1="427.4" y2="427.4" stroke="#959595" stroke-width="1.2"/>
<rect x="284.49" y="413.9" width="2.94" height="9.40" fill="#0b2f86" stroke="#505050" stroke-width="0.5"/>
<line x1="284.49" x2="287.43" y1="419.5" y2="419.5" stroke="#505050" stroke-width="0.6"/>
<circle cx="285.96" cy="396.2" r="0.9" fill="#2a2a2a"/>
<circle cx="285.96" cy="398.1" r="0.9" fill="#2a2a2a"/>
<line x1="289.00" x2="289.00" y1="399.9" y2="415.4" stroke="#959595" stroke-width="1.2"/>
<line x1="289.00" x2="289.00" y1="424.8" y2="427.4" stroke="#959595" stroke-width="1.2"/>
<line x1="288.24" x2="289.76" y1="399.9" y2="399.9" stroke="#959595" stroke-width="1.2"/>
<line x1="288.24" x2="289.76" y1="427.4" y2="427.4" stroke="#959595" stroke-width="1.2"/>
<rect x="287.53" y="415.4" width="2.94" height="9.40" fill="#66d9ea" stroke="#505050" stroke-width="0.5"/>
<line x1="287.53" x2="290.46" y1="419.9" y2="419.9" stroke="#505050" stroke-width="0.6"/>
<line x1="292.03" x2="292.03" y1="410.6" y2="422.3" stroke="#959595" stroke-width="1.2"/>
<line x1="292.03" x2="292.03" y1="426.1" y2="427.4" stroke="#959595" stroke-width="1.2"/>
<line x1="291.27" x2="292.79" y1="410.6" y2="410.6" stroke="#959595" stroke-width="1.2"/>
<line x1="291.27" x2="292.79" y1="427.4" y2="427.4" stroke="#959595" stroke-width="1.2"/>
<rect x="290.56" y="422.3" width="2.94" height="3.80" fill="#3cba5a" stroke="#505050" stroke-width="0.5"/>
<line x1="290.56" x2="293.50" y1="423.6" y2="423.6" stroke="#505050" stroke-width="0.6"/>
<circle cx="292.03" cy="402.4" r="0.9" fill="#2a2a2a"/>
<circle cx="292.03" cy="404.2" r="0.9" fill="#2a2a2a"/>
<circle cx="292.03" cy="406" r="0.9" fill="#2a2a2a"/>
<circle cx="292.03" cy="407.9" r="0.9" fill="#2a2a2a"/>
<circle cx="292.03" cy="409.8" r="0.9" fill="#2a2a2a"/>
<line x1="295.07" x2="295.07" y1="404.6" y2="415.8" stroke="#959595" stroke-width="1.2"/>
<line x1="295.07" x2="295.07" y1="425.1" y2="427.4" stroke="#959595" stroke-width="1.2"/>
<line x1="294.31" x2="295.83" y1="404.6" y2="404.6" stroke="#959595" stroke-width="1.2"/>
<line x1="294.31" x2="295.83" y1="427.4" y2="427.4" stroke="#959595" stroke-width="1.2"/>
<rect x="293.60" y="415.8" width="2.94" height="9.30" fill="#fdb83f" stroke="#505050" stroke-width="0.5"/>
<line x1="293.60" x2="296.54" y1="419.9" y2="419.9" stroke="#505050" stroke-width="0.6"/>
<circle cx="295.07" cy="388.7" r="0.9" fill="#2a2a2a"/>
<line x1="298.10" x2="298.10" y1="406.5" y2="419.5" stroke="#959595" stroke-width="1.2"/>
<line x1="298.10" x2="298.10" y1="425.5" y2="427.4" stroke="#959595" stroke-width="1.2"/>
<line x1="297.34" x2="298.86" y1="406.5" y2="406.5" stroke="#959595" stroke-width="1.2"/>
<line x1="297.34" x2="298.86" y1="427.4" y2="427.4" stroke="#959595" stroke-width="1.2"/>
<rect x="296.64" y="419.5" width="2.94" height="6.00" fill="#f9842f" stroke="#505050" stroke-width="0.5"/>
<line x1="296.64" x2="299.57" y1="422.3" y2="422.3" stroke="#505050" stroke-width="0.6"/>
<circle cx="298.10" cy="402.4" r="0.9" fill="#2a2a2a"/>
<circle cx="298.10" cy="409.3" r="0.9" fill="#2a2a2a"/>
<line x1="301.14" x2="301.14" y1="402.4" y2="414.9" stroke="#959595" stroke-width="1.2"/>
<line x1="301.14" x2="301.14" y1="424.8" y2="427.4" stroke="#959595" stroke-width="1.2"/>
<line x1="300.38" x2="301.90" y1="402.4" y2="402.4" stroke="#959595" stroke-width="1.2"/>
<line x1="300.38" x2="301.90" y1="427.4" y2="427.4" stroke="#959595" stroke-width="1.2"/>
<rect x="299.67" y="414.9" width="2.94" height="9.90" fill="#f45430" stroke="#505050" stroke-width="0.5"/>
<line x1="299.67" x2="302.61" y1="419.2" y2="419.2" stroke="#505050" stroke-width="0.6"/>
<circle cx="301.14" cy="353.3" r="0.9" fill="#2a2a2a"/>
<circle cx="301.14" cy="387.4" r="0.9" fill="#2a2a2a"/>
<circle cx="301.14" cy="395.3" r="0.9" fill="#2a2a2a"/>
<circle cx="301.14" cy="397.5" r="0.9" fill="#2a2a2a"/>
<circle cx="301.14" cy="399.4" r="0.9" fill="#2a2a2a"/>
<line x1="308.73" x2="308.73" y1="404.6" y2="413.9" stroke="#959595" stroke-width="1.2"/>
<line x1="308.73" x2="308.73" y1="422.9" y2="426.6" stroke="#959595" stroke-width="1.2"/>
<line x1="307.97" x2="309.49" y1="404.6" y2="404.6" stroke="#959595" stroke-width="1.2"/>
<line x1="307.97" x2="309.49" y1="426.6" y2="426.6" stroke="#959595" stroke-width="1.2"/>
<rect x="307.26" y="413.9" width="2.94" height="9.00" fill="#0b2f86" stroke="#505050" stroke-width="0.5"/>
<line x1="307.26" x2="310.20" y1="417.7" y2="417.7" stroke="#505050" stroke-width="0.6"/>
<circle cx="308.73" cy="390.6" r="0.9" fill="#2a2a2a"/>
<circle cx="308.73" cy="393" r="0.9" fill="#2a2a2a"/>
<circle cx="308.73" cy="396.2" r="0.9" fill="#2a2a2a"/>
<circle cx="308.73" cy="398.6" r="0.9" fill="#2a2a2a"/>
<line x1="311.76" x2="311.76" y1="404.6" y2="417.3" stroke="#959595" stroke-width="1.2"/>
<line x1="311.76" x2="311.76" y1="424.8" y2="427.4" stroke="#959595" stroke-width="1.2"/>
<line x1="311.00" x2="312.52" y1="404.6" y2="404.6" stroke="#959595" stroke-width="1.2"/>
<line x1="311.00" x2="312.52" y1="427.4" y2="427.4" stroke="#959595" stroke-width="1.2"/>
<rect x="310.30" y="417.3" width="2.94" height="7.50" fill="#66d9ea" stroke="#505050" stroke-width="0.5"/>
<line x1="310.30" x2="313.23" y1="421" y2="421" stroke="#505050" stroke-width="0.6"/>
<line x1="314.80" x2="314.80" y1="402.4" y2="413.9" stroke="#959595" stroke-width="1.2"/>
<line x1="314.80" x2="314.80" y1="424.8" y2="427.4" stroke="#959595" stroke-width="1.2"/>
<line x1="314.04" x2="315.56" y1="402.4" y2="402.4" stroke="#959595" stroke-width="1.2"/>
<line x1="314.04" x2="315.56" y1="427.4" y2="427.4" stroke="#959595" stroke-width="1.2"/>
<rect x="313.33" y="413.9" width="2.94" height="10.90" fill="#3cba5a" stroke="#505050" stroke-width="0.5"/>
<line x1="313.33" x2="316.27" y1="419.5" y2="419.5" stroke="#505050" stroke-width="0.6"/>
<circle cx="314.80" cy="395.3" r="0.9" fill="#2a2a2a"/>
<circle cx="314.80" cy="398.1" r="0.9" fill="#2a2a2a"/>
<line x1="317.83" x2="317.83" y1="399.9" y2="414.9" stroke="#959595" stroke-width="1.2"/>
<line x1="317.83" x2="317.83" y1="424.8" y2="427.4" stroke="#959595" stroke-width="1.2"/>
<line x1="317.08" x2="318.59" y1="399.9" y2="399.9" stroke="#959595" stroke-width="1.2"/>
<line x1="317.08" x2="318.59" y1="427.4" y2="427.4" stroke="#959595" stroke-width="1.2"/>
<rect x="316.37" y="414.9" width="2.94" height="9.90" fill="#fdb83f" stroke="#505050" stroke-width="0.5"/>
<line x1="316.37" x2="319.30" y1="419.5" y2="419.5" stroke="#505050" stroke-width="0.6"/>
<line x1="320.87" x2="320.87" y1="391.5" y2="410.6" stroke="#959595" stroke-width="1.2"/>
<line x1="320.87" x2="320.87" y1="422.3" y2="427.4" stroke="#959595" stroke-width="1.2"/>
<line x1="320.11" x2="321.63" y1="391.5" y2="391.5" stroke="#959595" stroke-width="1.2"/>
<line x1="320.11" x2="321.63" y1="427.4" y2="427.4" stroke="#959595" stroke-width="1.2"/>
<rect x="319.40" y="410.6" width="2.94" height="11.70" fill="#f9842f" stroke="#505050" stroke-width="0.5"/>
<line x1="319.40" x2="322.34" y1="416.7" y2="416.7" stroke="#505050" stroke-width="0.6"/>
<circle cx="320.87" cy="369.1" r="0.9" fill="#2a2a2a"/>
<circle cx="320.87" cy="382.6" r="0.9" fill="#2a2a2a"/>
<line x1="323.91" x2="323.91" y1="391.9" y2="409.3" stroke="#959595" stroke-width="1.2"/>
<line x1="323.91" x2="323.91" y1="421" y2="426.6" stroke="#959595" stroke-width="1.2"/>
<line x1="323.15" x2="324.66" y1="391.9" y2="391.9" stroke="#959595" stroke-width="1.2"/>
<line x1="323.15" x2="324.66" y1="426.6" y2="426.6" stroke="#959595" stroke-width="1.2"/>
<rect x="322.44" y="409.3" width="2.94" height="11.70" fill="#f45430" stroke="#505050" stroke-width="0.5"/>
<line x1="322.44" x2="325.37" y1="414.9" y2="414.9" stroke="#505050" stroke-width="0.6"/>
<circle cx="323.91" cy="367.3" r="0.9" fill="#2a2a2a"/>
<circle cx="323.91" cy="375.1" r="0.9" fill="#2a2a2a"/>
<line x1="331.49" x2="331.49" y1="392.5" y2="409.8" stroke="#959595" stroke-width="1.2"/>
<line x1="331.49" x2="331.49" y1="421.8" y2="427.9" stroke="#959595" stroke-width="1.2"/>
<line x1="330.74" x2="332.25" y1="392.5" y2="392.5" stroke="#959595" stroke-width="1.2"/>
<line x1="330.74" x2="332.25" y1="427.9" y2="427.9" stroke="#959595" stroke-width="1.2"/>
<rect x="330.03" y="409.8" width="2.94" height="12.00" fill="#0b2f86" stroke="#505050" stroke-width="0.5"/>
<line x1="330.03" x2="332.96" y1="415.8" y2="415.8" stroke="#505050" stroke-width="0.6"/>
<circle cx="331.49" cy="387.8" r="0.9" fill="#2a2a2a"/>
<line x1="334.53" x2="334.53" y1="398.1" y2="411.7" stroke="#959595" stroke-width="1.2"/>
<line x1="334.53" x2="334.53" y1="421.8" y2="427.9" stroke="#959595" stroke-width="1.2"/>
<line x1="333.77" x2="335.29" y1="398.1" y2="398.1" stroke="#959595" stroke-width="1.2"/>
<line x1="333.77" x2="335.29" y1="427.9" y2="427.9" stroke="#959595" stroke-width="1.2"/>
<rect x="333.06" y="411.7" width="2.94" height="10.10" fill="#66d9ea" stroke="#505050" stroke-width="0.5"/>
<line x1="333.06" x2="336.00" y1="417.3" y2="417.3" stroke="#505050" stroke-width="0.6"/>
<circle cx="334.53" cy="386.3" r="0.9" fill="#2a2a2a"/>
<line x1="337.57" x2="337.57" y1="396.2" y2="408.7" stroke="#959595" stroke-width="1.2"/>
<line x1="337.57" x2="337.57" y1="421" y2="427.9" stroke="#959595" stroke-width="1.2"/>
<line x1="336.81" x2="338.32" y1="396.2" y2="396.2" stroke="#959595" stroke-width="1.2"/>
<line x1="336.81" x2="338.32" y1="427.9" y2="427.9" stroke="#959595" stroke-width="1.2"/>
<rect x="336.10" y="408.7" width="2.94" height="12.30" fill="#3cba5a" stroke="#505050" stroke-width="0.5"/>
<line x1="336.10" x2="339.03" y1="413" y2="413" stroke="#505050" stroke-width="0.6"/>
<circle cx="337.57" cy="382.2" r="0.9" fill="#2a2a2a"/>
<line x1="340.60" x2="340.60" y1="393.8" y2="404.2" stroke="#959595" stroke-width="1.2"/>
<line x1="340.60" x2="340.60" y1="416.2" y2="427.4" stroke="#959595" stroke-width="1.2"/>
<line x1="339.84" x2="341.36" y1="393.8" y2="393.8" stroke="#959595" stroke-width="1.2"/>
<line x1="339.84" x2="341.36" y1="427.4" y2="427.4" stroke="#959595" stroke-width="1.2"/>
<rect x="339.13" y="404.2" width="2.94" height="12.00" fill="#fdb83f" stroke="#505050" stroke-width="0.5"/>
<line x1="339.13" x2="342.07" y1="409.3" y2="409.3" stroke="#505050" stroke-width="0.6"/>
<line x1="343.64" x2="343.64" y1="388.7" y2="407.4" stroke="#959595" stroke-width="1.2"/>
<line x1="343.64" x2="343.64" y1="419.9" y2="427.4" stroke="#959595" stroke-width="1.2"/>
<line x1="342.88" x2="344.40" y1="388.7" y2="388.7" stroke="#959595" stroke-width="1.2"/>
<line x1="342.88" x2="344.40" y1="427.4" y2="427.4" stroke="#959595" stroke-width="1.2"/>
<rect x="342.17" y="407.4" width="2.94" height="12.50" fill="#f9842f" stroke="#505050" stroke-width="0.5"/>
<line x1="342.17" x2="345.10" y1="412.1" y2="412.1" stroke="#505050" stroke-width="0.6"/>
<line x1="346.67" x2="346.67" y1="393" y2="408.7" stroke="#959595" stroke-width="1.2"/>
<line x1="346.67" x2="346.67" y1="421" y2="427.4" stroke="#959595" stroke-width="1.2"/>
<line x1="345.91" x2="347.43" y1="393" y2="393" stroke="#959595" stroke-width="1.2"/>
<line x1="345.91" x2="347.43" y1="427.4" y2="427.4" stroke="#959595" stroke-width="1.2"/>
<rect x="345.20" y="408.7" width="2.94" height="12.30" fill="#f45430" stroke="#505050" stroke-width="0.5"/>
<line x1="345.20" x2="348.14" y1="415.8" y2="415.8" stroke="#505050" stroke-width="0.6"/>
<circle cx="346.67" cy="380.3" r="0.9" fill="#2a2a2a"/>
<circle cx="346.67" cy="381.8" r="0.9" fill="#2a2a2a"/>
<circle cx="346.67" cy="383.1" r="0.9" fill="#2a2a2a"/>
<circle cx="346.67" cy="386.3" r="0.9" fill="#2a2a2a"/>
<line x1="354.26" x2="354.26" y1="390.6" y2="408.7" stroke="#959595" stroke-width="1.2"/>
<line x1="354.26" x2="354.26" y1="422.9" y2="427.9" stroke="#959595" stroke-width="1.2"/>
<line x1="353.50" x2="355.02" y1="390.6" y2="390.6" stroke="#959595" stroke-width="1.2"/>
<line x1="353.50" x2="355.02" y1="427.9" y2="427.9" stroke="#959595" stroke-width="1.2"/>
<rect x="352.79" y="408.7" width="2.94" height="14.20" fill="#0b2f86" stroke="#505050" stroke-width="0.5"/>
<line x1="352.79" x2="355.73" y1="414.9" y2="414.9" stroke="#505050" stroke-width="0.6"/>
<circle cx="354.26" cy="387.8" r="0.9" fill="#2a2a2a"/>
<line x1="357.30" x2="357.30" y1="391.9" y2="408.3" stroke="#959595" stroke-width="1.2"/>
<line x1="357.30" x2="357.30" y1="422.3" y2="427.9" stroke="#959595" stroke-width="1.2"/>
<line x1="356.54" x2="358.06" y1="391.9" y2="391.9" stroke="#959595" stroke-width="1.2"/>
<line x1="356.54" x2="358.06" y1="427.9" y2="427.9" stroke="#959595" stroke-width="1.2"/>
<rect x="355.83" y="408.3" width="2.94" height="14.00" fill="#66d9ea" stroke="#505050" stroke-width="0.5"/>
<line x1="355.83" x2="358.76" y1="413.9" y2="413.9" stroke="#505050" stroke-width="0.6"/>
<circle cx="357.30" cy="380" r="0.9" fill="#2a2a2a"/>
<circle cx="357.30" cy="386.3" r="0.9" fill="#2a2a2a"/>
<line x1="360.33" x2="360.33" y1="395.3" y2="410.6" stroke="#959595" stroke-width="1.2"/>
<line x1="360.33" x2="360.33" y1="421.4" y2="427.4" stroke="#959595" stroke-width="1.2"/>
<line x1="359.57" x2="361.09" y1="395.3" y2="395.3" stroke="#959595" stroke-width="1.2"/>
<line x1="359.57" x2="361.09" y1="427.4" y2="427.4" stroke="#959595" stroke-width="1.2"/>
<rect x="358.86" y="410.6" width="2.94" height="10.80" fill="#3cba5a" stroke="#505050" stroke-width="0.5"/>
<line x1="358.86" x2="361.80" y1="414.9" y2="414.9" stroke="#505050" stroke-width="0.6"/>
<line x1="363.37" x2="363.37" y1="397.1" y2="408.7" stroke="#959595" stroke-width="1.2"/>
<line x1="363.37" x2="363.37" y1="417.3" y2="427.4" stroke="#959595" stroke-width="1.2"/>
<line x1="362.61" x2="364.13" y1="397.1" y2="397.1" stroke="#959595" stroke-width="1.2"/>
<line x1="362.61" x2="364.13" y1="427.4" y2="427.4" stroke="#959595" stroke-width="1.2"/>
<rect x="361.90" y="408.7" width="2.94" height="8.60" fill="#fdb83f" stroke="#505050" stroke-width="0.5"/>
<line x1="361.90" x2="364.84" y1="412.4" y2="412.4" stroke="#505050" stroke-width="0.6"/>
<circle cx="363.37" cy="385.6" r="0.9" fill="#2a2a2a"/>
<circle cx="363.37" cy="392.5" r="0.9" fill="#2a2a2a"/>
<circle cx="363.37" cy="393.8" r="0.9" fill="#2a2a2a"/>
<line x1="366.40" x2="366.40" y1="394.9" y2="408.3" stroke="#959595" stroke-width="1.2"/>
<line x1="366.40" x2="366.40" y1="418.6" y2="427.4" stroke="#959595" stroke-width="1.2"/>
<line x1="365.64" x2="367.16" y1="394.9" y2="394.9" stroke="#959595" stroke-width="1.2"/>
<line x1="365.64" x2="367.16" y1="427.4" y2="427.4" stroke="#959595" stroke-width="1.2"/>
<rect x="364.94" y="408.3" width="2.94" height="10.30" fill="#f9842f" stroke="#505050" stroke-width="0.5"/>
<line x1="364.94" x2="367.87" y1="413" y2="413" stroke="#505050" stroke-width="0.6"/>
<line x1="369.44" x2="369.44" y1="375.7" y2="400.5" stroke="#959595" stroke-width="1.2"/>
<line x1="369.44" x2="369.44" y1="421.8" y2="427.4" stroke="#959595" stroke-width="1.2"/>
<line x1="368.68" x2="370.20" y1="375.7" y2="375.7" stroke="#959595" stroke-width="1.2"/>
<line x1="368.68" x2="370.20" y1="427.4" y2="427.4" stroke="#959595" stroke-width="1.2"/>
<rect x="367.97" y="400.5" width="2.94" height="21.30" fill="#f45430" stroke="#505050" stroke-width="0.5"/>
<line x1="367.97" x2="370.91" y1="413" y2="413" stroke="#505050" stroke-width="0.6"/>
<line x1="377.03" x2="377.03" y1="397.1" y2="411.1" stroke="#959595" stroke-width="1.2"/>
<line x1="377.03" x2="377.03" y1="421" y2="427.4" stroke="#959595" stroke-width="1.2"/>
<line x1="376.27" x2="377.79" y1="397.1" y2="397.1" stroke="#959595" stroke-width="1.2"/>
<line x1="376.27" x2="377.79" y1="427.4" y2="427.4" stroke="#959595" stroke-width="1.2"/>
<rect x="375.56" y="411.1" width="2.94" height="9.90" fill="#0b2f86" stroke="#505050" stroke-width="0.5"/>
<line x1="375.56" x2="378.50" y1="416.7" y2="416.7" stroke="#505050" stroke-width="0.6"/>
<line x1="380.06" x2="380.06" y1="399.4" y2="413" stroke="#959595" stroke-width="1.2"/>
<line x1="380.06" x2="380.06" y1="422.3" y2="427.4" stroke="#959595" stroke-width="1.2"/>
<line x1="379.30" x2="380.82" y1="399.4" y2="399.4" stroke="#959595" stroke-width="1.2"/>
<line x1="379.30" x2="380.82" y1="427.4" y2="427.4" stroke="#959595" stroke-width="1.2"/>
<rect x="378.60" y="413" width="2.94" height="9.30" fill="#66d9ea" stroke="#505050" stroke-width="0.5"/>
<line x1="378.60" x2="381.53" y1="417.7" y2="417.7" stroke="#505050" stroke-width="0.6"/>
<line x1="383.10" x2="383.10" y1="394.3" y2="409.8" stroke="#959595" stroke-width="1.2"/>
<line x1="383.10" x2="383.10" y1="420.5" y2="427.4" stroke="#959595" stroke-width="1.2"/>
<line x1="382.34" x2="383.86" y1="394.3" y2="394.3" stroke="#959595" stroke-width="1.2"/>
<line x1="382.34" x2="383.86" y1="427.4" y2="427.4" stroke="#959595" stroke-width="1.2"/>
<rect x="381.63" y="409.8" width="2.94" height="10.70" fill="#3cba5a" stroke="#505050" stroke-width="0.5"/>
<line x1="381.63" x2="384.57" y1="414.9" y2="414.9" stroke="#505050" stroke-width="0.6"/>
<line x1="386.13" x2="386.13" y1="404.6" y2="413.9" stroke="#959595" stroke-width="1.2"/>
<line x1="386.13" x2="386.13" y1="420.5" y2="425.1" stroke="#959595" stroke-width="1.2"/>
<line x1="385.38" x2="386.89" y1="404.6" y2="404.6" stroke="#959595" stroke-width="1.2"/>
<line x1="385.38" x2="386.89" y1="425.1" y2="425.1" stroke="#959595" stroke-width="1.2"/>
<rect x="384.67" y="413.9" width="2.94" height="6.60" fill="#fdb83f" stroke="#505050" stroke-width="0.5"/>
<line x1="384.67" x2="387.60" y1="416.7" y2="416.7" stroke="#505050" stroke-width="0.6"/>
<circle cx="386.13" cy="396.2" r="0.9" fill="#2a2a2a"/>
<circle cx="386.13" cy="399" r="0.9" fill="#2a2a2a"/>
<circle cx="386.13" cy="402.4" r="0.9" fill="#2a2a2a"/>
<line x1="389.17" x2="389.17" y1="399.4" y2="411.1" stroke="#959595" stroke-width="1.2"/>
<line x1="389.17" x2="389.17" y1="418.6" y2="425.1" stroke="#959595" stroke-width="1.2"/>
<line x1="388.41" x2="389.93" y1="399.4" y2="399.4" stroke="#959595" stroke-width="1.2"/>
<line x1="388.41" x2="389.93" y1="425.1" y2="425.1" stroke="#959595" stroke-width="1.2"/>
<rect x="387.70" y="411.1" width="2.94" height="7.50" fill="#f9842f" stroke="#505050" stroke-width="0.5"/>
<line x1="387.70" x2="390.64" y1="414.9" y2="414.9" stroke="#505050" stroke-width="0.6"/>
<circle cx="389.17" cy="397.1" r="0.9" fill="#2a2a2a"/>
<line x1="392.21" x2="392.21" y1="376.2" y2="400.5" stroke="#959595" stroke-width="1.2"/>
<line x1="392.21" x2="392.21" y1="419.2" y2="428.9" stroke="#959595" stroke-width="1.2"/>
<line x1="391.45" x2="392.96" y1="376.2" y2="376.2" stroke="#959595" stroke-width="1.2"/>
<line x1="391.45" x2="392.96" y1="428.9" y2="428.9" stroke="#959595" stroke-width="1.2"/>
<rect x="390.74" y="400.5" width="2.94" height="18.70" fill="#f45430" stroke="#505050" stroke-width="0.5"/>
<line x1="390.74" x2="393.67" y1="408.3" y2="408.3" stroke="#505050" stroke-width="0.6"/>
<line x1="399.79" x2="399.79" y1="399" y2="408.7" stroke="#959595" stroke-width="1.2"/>
<line x1="399.79" x2="399.79" y1="421.8" y2="428.5" stroke="#959595" stroke-width="1.2"/>
<line x1="399.04" x2="400.55" y1="399" y2="399" stroke="#959595" stroke-width="1.2"/>
<line x1="399.04" x2="400.55" y1="428.5" y2="428.5" stroke="#959595" stroke-width="1.2"/>
<rect x="398.33" y="408.7" width="2.94" height="13.10" fill="#0b2f86" stroke="#505050" stroke-width="0.5"/>
<line x1="398.33" x2="401.26" y1="414.9" y2="414.9" stroke="#505050" stroke-width="0.6"/>
<line x1="405.87" x2="405.87" y1="401.2" y2="413.6" stroke="#959595" stroke-width="1.2"/>
<line x1="405.87" x2="405.87" y1="423.6" y2="427.4" stroke="#959595" stroke-width="1.2"/>
<line x1="405.11" x2="406.62" y1="401.2" y2="401.2" stroke="#959595" stroke-width="1.2"/>
<line x1="405.11" x2="406.62" y1="427.4" y2="427.4" stroke="#959595" stroke-width="1.2"/>
<rect x="404.40" y="413.6" width="2.94" height="10.00" fill="#3cba5a" stroke="#505050" stroke-width="0.5"/>
<line x1="404.40" x2="407.33" y1="419.5" y2="419.5" stroke="#505050" stroke-width="0.6"/>
<circle cx="405.87" cy="395.6" r="0.9" fill="#2a2a2a"/>
<line x1="408.90" x2="408.90" y1="391.9" y2="405" stroke="#959595" stroke-width="1.2"/>
<line x1="408.90" x2="408.90" y1="419.2" y2="426.1" stroke="#959595" stroke-width="1.2"/>
<line x1="408.14" x2="409.66" y1="391.9" y2="391.9" stroke="#959595" stroke-width="1.2"/>
<line x1="408.14" x2="409.66" y1="426.1" y2="426.1" stroke="#959595" stroke-width="1.2"/>
<rect x="407.43" y="405" width="2.94" height="14.20" fill="#fdb83f" stroke="#505050" stroke-width="0.5"/>
<line x1="407.43" x2="410.37" y1="412.1" y2="412.1" stroke="#505050" stroke-width="0.6"/>
<line x1="411.94" x2="411.94" y1="383.1" y2="401.2" stroke="#959595" stroke-width="1.2"/>
<line x1="411.94" x2="411.94" y1="414.9" y2="426.6" stroke="#959595" stroke-width="1.2"/>
<line x1="411.18" x2="412.70" y1="383.1" y2="383.1" stroke="#959595" stroke-width="1.2"/>
<line x1="411.18" x2="412.70" y1="426.6" y2="426.6" stroke="#959595" stroke-width="1.2"/>
<rect x="410.47" y="401.2" width="2.94" height="13.70" fill="#f9842f" stroke="#505050" stroke-width="0.5"/>
<line x1="410.47" x2="413.40" y1="408.3" y2="408.3" stroke="#505050" stroke-width="0.6"/>
<line x1="414.97" x2="414.97" y1="393.8" y2="403.7" stroke="#959595" stroke-width="1.2"/>
<line x1="414.97" x2="414.97" y1="417.3" y2="426.1" stroke="#959595" stroke-width="1.2"/>
<line x1="414.21" x2="415.73" y1="393.8" y2="393.8" stroke="#959595" stroke-width="1.2"/>
<line x1="414.21" x2="415.73" y1="426.1" y2="426.1" stroke="#959595" stroke-width="1.2"/>
<rect x="413.50" y="403.7" width="2.94" height="13.60" fill="#f45430" stroke="#505050" stroke-width="0.5"/>
<line x1="413.50" x2="416.44" y1="409.3" y2="409.3" stroke="#505050" stroke-width="0.6"/>
<line x1="422.56" x2="422.56" y1="407.4" y2="417.7" stroke="#959595" stroke-width="1.2"/>
<line x1="422.56" x2="422.56" y1="424.2" y2="428.5" stroke="#959595" stroke-width="1.2"/>
<line x1="421.80" x2="423.32" y1="407.4" y2="407.4" stroke="#959595" stroke-width="1.2"/>
<line x1="421.80" x2="423.32" y1="428.5" y2="428.5" stroke="#959595" stroke-width="1.2"/>
<rect x="421.09" y="417.7" width="2.94" height="6.50" fill="#0b2f86" stroke="#505050" stroke-width="0.5"/>
<line x1="421.09" x2="424.03" y1="420.5" y2="420.5" stroke="#505050" stroke-width="0.6"/>
<circle cx="422.56" cy="398.6" r="0.9" fill="#2a2a2a"/>
<circle cx="422.56" cy="403.7" r="0.9" fill="#2a2a2a"/>
<line x1="428.63" x2="428.63" y1="403.1" y2="413.9" stroke="#959595" stroke-width="1.2"/>
<line x1="428.63" x2="428.63" y1="423.6" y2="428.5" stroke="#959595" stroke-width="1.2"/>
<line x1="427.87" x2="429.39" y1="403.1" y2="403.1" stroke="#959595" stroke-width="1.2"/>
<line x1="427.87" x2="429.39" y1="428.5" y2="428.5" stroke="#959595" stroke-width="1.2"/>
<rect x="427.16" y="413.9" width="2.94" height="9.70" fill="#3cba5a" stroke="#505050" stroke-width="0.5"/>
<line x1="427.16" x2="430.10" y1="419.2" y2="419.2" stroke="#505050" stroke-width="0.6"/>
<circle cx="428.63" cy="390.6" r="0.9" fill="#2a2a2a"/>
<circle cx="428.63" cy="393.4" r="0.9" fill="#2a2a2a"/>
<circle cx="428.63" cy="395.6" r="0.9" fill="#2a2a2a"/>
<circle cx="428.63" cy="398.6" r="0.9" fill="#2a2a2a"/>
<line x1="431.67" x2="431.67" y1="393.4" y2="408.3" stroke="#959595" stroke-width="1.2"/>
<line x1="431.67" x2="431.67" y1="422.3" y2="427.9" stroke="#959595" stroke-width="1.2"/>
<line x1="430.91" x2="432.43" y1="393.4" y2="393.4" stroke="#959595" stroke-width="1.2"/>
<line x1="430.91" x2="432.43" y1="427.9" y2="427.9" stroke="#959595" stroke-width="1.2"/>
<rect x="430.20" y="408.3" width="2.94" height="14.00" fill="#fdb83f" stroke="#505050" stroke-width="0.5"/>
<line x1="430.20" x2="433.14" y1="415.8" y2="415.8" stroke="#505050" stroke-width="0.6"/>
<line x1="434.70" x2="434.70" y1="391.2" y2="402.4" stroke="#959595" stroke-width="1.2"/>
<line x1="434.70" x2="434.70" y1="416.7" y2="427.9" stroke="#959595" stroke-width="1.2"/>
<line x1="433.94" x2="435.46" y1="391.2" y2="391.2" stroke="#959595" stroke-width="1.2"/>
<line x1="433.94" x2="435.46" y1="427.9" y2="427.9" stroke="#959595" stroke-width="1.2"/>
<rect x="433.24" y="402.4" width="2.94" height="14.30" fill="#f9842f" stroke="#505050" stroke-width="0.5"/>
<line x1="433.24" x2="436.17" y1="407.4" y2="407.4" stroke="#505050" stroke-width="0.6"/>
<line x1="437.74" x2="437.74" y1="401.2" y2="417.3" stroke="#959595" stroke-width="1.2"/>
<line x1="437.74" x2="437.74" y1="426.1" y2="428.5" stroke="#959595" stroke-width="1.2"/>
<line x1="436.98" x2="438.50" y1="401.2" y2="401.2" stroke="#959595" stroke-width="1.2"/>
<line x1="436.98" x2="438.50" y1="428.5" y2="428.5" stroke="#959595" stroke-width="1.2"/>
<rect x="436.27" y="417.3" width="2.94" height="8.80" fill="#f45430" stroke="#505050" stroke-width="0.5"/>
<line x1="436.27" x2="439.21" y1="422.3" y2="422.3" stroke="#505050" stroke-width="0.6"/>
<circle cx="437.74" cy="398.6" r="0.9" fill="#2a2a2a"/>
<line x1="445.33" x2="445.33" y1="414.9" y2="421.8" stroke="#959595" stroke-width="1.2"/>
<line x1="445.33" x2="445.33" y1="426.1" y2="428.5" stroke="#959595" stroke-width="1.2"/>
<line x1="444.57" x2="446.09" y1="414.9" y2="414.9" stroke="#959595" stroke-width="1.2"/>
<line x1="444.57" x2="446.09" y1="428.5" y2="428.5" stroke="#959595" stroke-width="1.2"/>
<rect x="443.86" y="421.8" width="2.94" height="4.30" fill="#0b2f86" stroke="#505050" stroke-width="0.5"/>
<line x1="443.86" x2="446.80" y1="423.6" y2="423.6" stroke="#505050" stroke-width="0.6"/>
<circle cx="445.33" cy="409.3" r="0.9" fill="#2a2a2a"/>
<circle cx="445.33" cy="410.6" r="0.9" fill="#2a2a2a"/>
<circle cx="445.33" cy="412.1" r="0.9" fill="#2a2a2a"/>
<line x1="451.40" x2="451.40" y1="413.6" y2="421" stroke="#959595" stroke-width="1.2"/>
<line x1="451.40" x2="451.40" y1="426.1" y2="427.9" stroke="#959595" stroke-width="1.2"/>
<line x1="450.64" x2="452.16" y1="413.6" y2="413.6" stroke="#959595" stroke-width="1.2"/>
<line x1="450.64" x2="452.16" y1="427.9" y2="427.9" stroke="#959595" stroke-width="1.2"/>
<rect x="449.93" y="421" width="2.94" height="5.10" fill="#3cba5a" stroke="#505050" stroke-width="0.5"/>
<line x1="449.93" x2="452.87" y1="422.9" y2="422.9" stroke="#505050" stroke-width="0.6"/>
<circle cx="451.40" cy="411.1" r="0.9" fill="#2a2a2a"/>
<line x1="454.43" x2="454.43" y1="409.3" y2="416.7" stroke="#959595" stroke-width="1.2"/>
<line x1="454.43" x2="454.43" y1="425.1" y2="427.9" stroke="#959595" stroke-width="1.2"/>
<line x1="453.68" x2="455.19" y1="409.3" y2="409.3" stroke="#959595" stroke-width="1.2"/>
<line x1="453.68" x2="455.19" y1="427.9" y2="427.9" stroke="#959595" stroke-width="1.2"/>
<rect x="452.97" y="416.7" width="2.94" height="8.40" fill="#fdb83f" stroke="#505050" stroke-width="0.5"/>
<line x1="452.97" x2="455.90" y1="421.4" y2="421.4" stroke="#505050" stroke-width="0.6"/>
<line x1="457.47" x2="457.47" y1="398.1" y2="409.3" stroke="#959595" stroke-width="1.2"/>
<line x1="457.47" x2="457.47" y1="419.9" y2="426.6" stroke="#959595" stroke-width="1.2"/>
<line x1="456.71" x2="458.23" y1="398.1" y2="398.1" stroke="#959595" stroke-width="1.2"/>
<line x1="456.71" x2="458.23" y1="426.6" y2="426.6" stroke="#959595" stroke-width="1.2"/>
<rect x="456.00" y="409.3" width="2.94" height="10.60" fill="#f9842f" stroke="#505050" stroke-width="0.5"/>
<line x1="456.00" x2="458.94" y1="414.9" y2="414.9" stroke="#505050" stroke-width="0.6"/>
<line x1="460.51" x2="460.51" y1="416.7" y2="424.8" stroke="#959595" stroke-width="1.2"/>
<line x1="460.51" x2="460.51" y1="427.4" y2="428.5" stroke="#959595" stroke-width="1.2"/>
<line x1="459.75" x2="461.26" y1="416.7" y2="416.7" stroke="#959595" stroke-width="1.2"/>
<line x1="459.75" x2="461.26" y1="428.5" y2="428.5" stroke="#959595" stroke-width="1.2"/>
<rect x="459.04" y="424.8" width="2.94" height="2.60" fill="#f45430" stroke="#505050" stroke-width="0.5"/>
<line x1="459.04" x2="461.97" y1="425.5" y2="425.5" stroke="#505050" stroke-width="0.6"/>
<circle cx="460.51" cy="415.8" r="0.9" fill="#2a2a2a"/>
<circle cx="460.51" cy="418" r="0.9" fill="#2a2a2a"/>
<circle cx="460.51" cy="420.5" r="0.9" fill="#2a2a2a"/>
<text font-size="7.45" fill="#262626" text-anchor="middle" transform="translate(270.48,446.72) rotate(-45)"><tspan x="0" y="2.6">0-150</tspan></text>
<text font-size="7.45" fill="#262626" text-anchor="middle" transform="translate(293.25,449.66) rotate(-45)"><tspan x="0" y="2.6">150-300</tspan></text>
<text font-size="7.45" fill="#262626" text-anchor="middle" transform="translate(316.02,449.66) rotate(-45)"><tspan x="0" y="2.6">300-600</tspan></text>
<text font-size="7.45" fill="#262626" text-anchor="middle" transform="translate(338.78,449.66) rotate(-45)"><tspan x="0" y="2.6">600-900</tspan></text>
<text font-size="7.45" fill="#262626" text-anchor="middle" transform="translate(361.55,451.10) rotate(-45)"><tspan x="0" y="2.6">900-1200</tspan></text>
<text font-size="7.45" fill="#262626" text-anchor="middle" transform="translate(384.32,452.55) rotate(-45)"><tspan x="0" y="2.6">1200-1500</tspan></text>
<text font-size="7.45" fill="#262626" text-anchor="middle" transform="translate(407.08,452.55) rotate(-45)"><tspan x="0" y="2.6">1500-1800</tspan></text>
<text font-size="7.45" fill="#262626" text-anchor="middle" transform="translate(429.85,452.55) rotate(-45)"><tspan x="0" y="2.6">1800-2100</tspan></text>
<text font-size="7.45" fill="#262626" text-anchor="middle" transform="translate(452.62,452.55) rotate(-45)"><tspan x="0" y="2.6">2100-3000</tspan></text>
<text class="b" x="239" y="474.2" font-size="8" fill="#262626" text-anchor="middle">Elevation (m)</text>
<text class="b" font-size="8" fill="#262626" text-anchor="middle" transform="translate(12.0,171) rotate(-90)">Leaf Trait Estimate</text>
<text class="b" x="507" y="35" font-size="7.9" fill="#262626" text-anchor="middle">Soil Substrate Age</text>
<rect x="471.9" y="40.50" width="14.2" height="5.0" fill="#0b2f86" stroke="#505050" stroke-width="0.4"/>
<text class="lg" x="491.8" y="45.50" font-size="7.3" fill="#262626">0-500</text>
<rect x="471.9" y="50.84" width="14.2" height="5.0" fill="#66d9ea" stroke="#505050" stroke-width="0.4"/>
<text class="lg" x="491.8" y="55.84" font-size="7.3" fill="#262626">500-1000</text>
<rect x="471.9" y="61.18" width="14.2" height="5.0" fill="#3cba5a" stroke="#505050" stroke-width="0.4"/>
<text class="lg" x="491.8" y="66.18" font-size="7.3" fill="#262626">1000-5000</text>
<rect x="471.9" y="71.52" width="14.2" height="5.0" fill="#fdb83f" stroke="#505050" stroke-width="0.4"/>
<text class="lg" x="491.8" y="76.52" font-size="7.3" fill="#262626">5000-15,000</text>
<rect x="471.9" y="81.86" width="14.2" height="5.0" fill="#f9842f" stroke="#505050" stroke-width="0.4"/>
<text class="lg" x="491.8" y="86.86" font-size="7.3" fill="#262626">15,000-50,000</text>
<rect x="471.9" y="92.20" width="14.2" height="5.0" fill="#f45430" stroke="#505050" stroke-width="0.4"/>
<text class="lg" x="491.8" y="97.20" font-size="7.3" fill="#262626">50,000-400,000</text>
</svg></body></html>
